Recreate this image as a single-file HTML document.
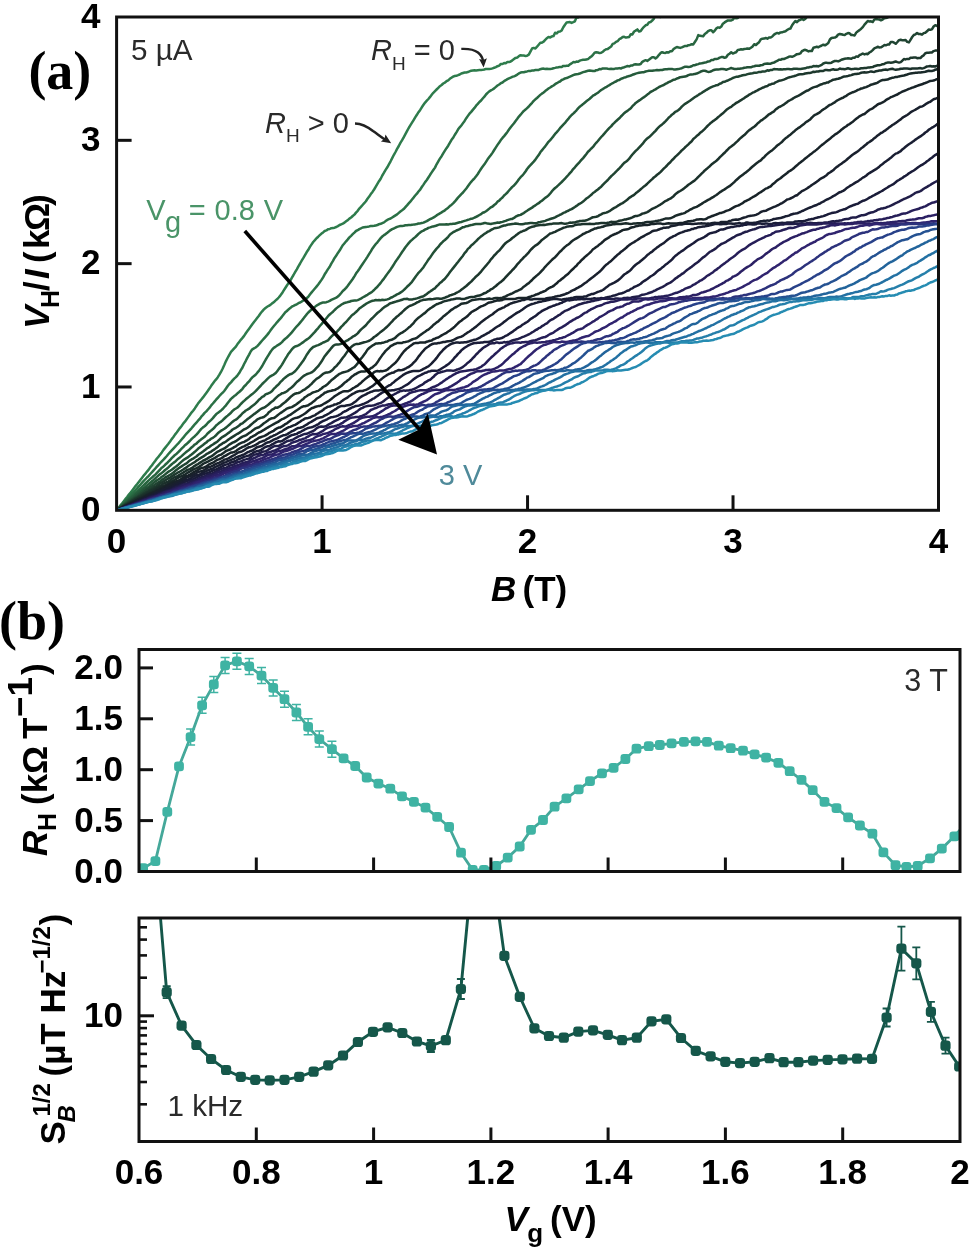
<!DOCTYPE html>
<html><head><meta charset="utf-8"><style>html,body{margin:0;padding:0;background:#fff}svg{display:block;filter:blur(0.45px)}</style></head>
<body><svg width="976" height="1249" viewBox="0 0 976 1249">
<defs><clipPath id="ca"><rect x="116.6" y="17.0" width="821.9" height="493.3"/></clipPath>
<clipPath id="cb"><rect x="139.0" y="649.5" width="821.0" height="222.0"/><rect x="139.0" y="918.0" width="821.0" height="223.5"/></clipPath></defs>
<rect width="976" height="1249" fill="#fff"/>
<g fill="none" stroke-width="2.5" stroke-linejoin="round" stroke-linecap="round" clip-path="url(#ca)"><path d="M116.6,510.3 L117.4,509.3 L119.1,507.2 L120.7,505.1 L122.4,503.0 L124.0,500.9 L125.6,498.8 L127.3,496.7 L128.9,494.5 L130.6,492.5 L132.2,490.4 L133.9,488.2 L135.5,486.1 L137.2,484.1 L138.8,482.0 L140.5,479.8 L142.1,477.7 L143.7,475.6 L145.4,473.7 L147.0,471.6 L148.7,469.6 L150.3,467.3 L152.0,465.2 L153.6,462.9 L155.3,460.7 L156.9,458.5 L158.6,456.6 L160.2,454.5 L161.8,452.4 L163.5,449.9 L165.1,447.9 L166.8,445.8 L168.4,443.8 L170.1,441.5 L171.7,439.1 L173.4,437.0 L175.0,434.6 L176.7,432.5 L178.3,430.3 L179.9,428.1 L181.6,426.0 L183.2,423.6 L184.9,421.7 L186.5,419.5 L188.2,417.1 L189.8,414.9 L191.5,412.6 L193.1,410.7 L194.8,408.4 L196.4,406.0 L198.0,403.6 L199.7,401.4 L201.3,399.5 L203.0,397.4 L204.6,395.2 L206.3,392.9 L207.9,390.7 L209.6,388.3 L211.2,385.8 L212.9,383.5 L214.5,381.3 L216.1,379.4 L217.8,377.2 L219.4,374.7 L221.1,371.7 L222.7,368.5 L224.4,364.8 L226.0,361.1 L227.7,357.8 L229.3,354.8 L231.0,351.9 L232.6,350.2 L234.2,348.4 L235.9,346.6 L237.5,344.1 L239.2,341.9 L240.8,339.8 L242.5,337.9 L244.1,335.9 L245.8,333.3 L247.4,331.1 L249.1,328.8 L250.7,326.6 L252.3,324.3 L254.0,322.0 L255.6,320.0 L257.3,317.8 L258.9,315.7 L260.6,313.3 L262.2,311.3 L263.9,309.4 L265.5,308.0 L267.2,306.8 L268.8,305.8 L270.4,304.9 L272.1,303.4 L273.7,302.3 L275.4,300.6 L277.0,299.3 L278.7,297.5 L280.3,295.6 L282.0,293.3 L283.6,290.7 L285.3,288.0 L286.9,285.5 L288.5,283.1 L290.2,280.8 L291.8,277.8 L293.5,275.0 L295.1,272.2 L296.8,269.3 L298.4,266.3 L300.1,263.5 L301.7,260.7 L303.4,257.9 L305.0,255.1 L306.6,252.3 L308.3,249.8 L309.9,246.9 L311.6,244.4 L313.2,242.0 L314.9,240.1 L316.5,238.2 L318.2,236.7 L319.8,235.2 L321.5,233.6 L323.1,232.4 L324.7,231.0 L326.4,230.4 L328.0,229.2 L329.7,229.0 L331.3,228.2 L333.0,228.1 L334.6,227.7 L336.3,227.0 L337.9,226.1 L339.6,225.0 L341.2,224.3 L342.8,223.6 L344.5,222.6 L346.1,221.2 L347.8,220.1 L349.4,218.6 L351.1,217.5 L352.7,216.0 L354.4,214.6 L356.0,212.6 L357.7,210.8 L359.3,208.6 L360.9,206.9 L362.6,205.0 L364.2,203.2 L365.9,201.2 L367.5,198.8 L369.2,196.6 L370.8,194.1 L372.5,191.9 L374.1,189.5 L375.8,186.6 L377.4,183.9 L379.0,181.2 L380.7,178.7 L382.3,175.5 L384.0,172.7 L385.6,169.9 L387.3,167.3 L388.9,164.4 L390.6,161.3 L392.2,158.1 L393.9,154.8 L395.5,152.0 L397.1,148.9 L398.8,146.0 L400.4,142.9 L402.1,140.2 L403.7,137.3 L405.4,134.1 L407.0,131.1 L408.7,128.0 L410.3,125.4 L412.0,122.7 L413.6,120.1 L415.2,117.4 L416.9,114.8 L418.5,112.2 L420.2,109.9 L421.8,107.3 L423.5,104.8 L425.1,102.6 L426.8,100.7 L428.4,99.0 L430.1,96.9 L431.7,94.8 L433.3,92.8 L435.0,91.1 L436.6,89.5 L438.3,87.8 L439.9,86.2 L441.6,85.0 L443.2,83.5 L444.9,82.6 L446.5,81.2 L448.2,80.3 L449.8,78.8 L451.4,77.7 L453.1,76.6 L454.7,76.0 L456.4,75.8 L458.0,75.2 L459.7,74.5 L461.3,73.5 L463.0,73.0 L464.6,72.5 L466.3,72.4 L467.9,72.1 L469.5,71.4 L471.2,70.7 L472.8,70.4 L474.5,70.3 L476.1,70.4 L477.8,70.2 L479.4,70.1 L481.1,70.0 L482.7,69.8 L484.4,69.5 L486.0,68.9 L487.6,69.0 L489.3,68.9 L490.9,68.8 L492.6,68.4 L494.2,67.7 L495.9,67.1 L497.5,66.2 L499.2,65.6 L500.8,64.0 L502.5,64.0 L504.1,63.1 L505.7,63.2 L507.4,61.9 L509.0,62.1 L510.7,61.5 L512.3,60.4 L514.0,59.0 L515.6,57.9 L517.3,57.6 L518.9,56.1 L520.6,55.2 L522.2,55.4 L523.8,55.6 L525.5,55.9 L527.1,55.7 L528.8,54.7 L530.4,51.7 L532.1,48.5 L533.7,47.9 L535.4,48.5 L537.0,46.7 L538.7,44.7 L540.3,42.8 L541.9,42.7 L543.6,41.7 L545.2,39.9 L546.9,38.2 L548.5,36.9 L550.2,37.5 L551.8,36.4 L553.5,36.1 L555.1,32.8 L556.8,33.4 L558.4,31.7 L560.0,31.6 L561.7,30.4 L563.3,27.3 L565.0,24.7 L566.6,22.6 L568.3,22.3 L569.9,22.1 L571.6,22.9 L573.2,22.2 L574.9,21.3 L576.5,17.4 L578.1,17.4 L579.8,16.3 L581.4,15.2 L582.0,14.0" stroke="rgb(46, 124, 76)" />
<path d="M116.6,510.3 L117.4,509.4 L119.1,507.7 L120.7,505.9 L122.4,504.1 L124.0,502.3 L125.6,500.6 L127.3,498.9 L128.9,497.1 L130.6,495.3 L132.2,493.5 L133.9,491.7 L135.5,490.0 L137.2,488.2 L138.8,486.4 L140.5,484.5 L142.1,482.6 L143.7,480.8 L145.4,479.2 L147.0,477.5 L148.7,475.8 L150.3,474.0 L152.0,472.2 L153.6,470.4 L155.3,468.5 L156.9,466.7 L158.6,464.8 L160.2,463.0 L161.8,461.3 L163.5,459.6 L165.1,457.8 L166.8,456.0 L168.4,454.0 L170.1,452.1 L171.7,450.4 L173.4,448.6 L175.0,446.9 L176.7,445.0 L178.3,443.3 L179.9,441.5 L181.6,439.5 L183.2,437.7 L184.9,435.5 L186.5,433.7 L188.2,431.9 L189.8,430.2 L191.5,428.3 L193.1,426.4 L194.8,424.3 L196.4,422.6 L198.0,420.7 L199.7,418.9 L201.3,416.7 L203.0,414.9 L204.6,412.9 L206.3,411.4 L207.9,409.5 L209.6,407.7 L211.2,405.4 L212.9,403.5 L214.5,401.6 L216.1,399.7 L217.8,397.8 L219.4,396.0 L221.1,394.2 L222.7,392.7 L224.4,390.7 L226.0,388.5 L227.7,386.0 L229.3,384.0 L231.0,382.4 L232.6,380.4 L234.2,378.6 L235.9,377.1 L237.5,375.3 L239.2,373.1 L240.8,370.2 L242.5,367.5 L244.1,364.0 L245.8,360.8 L247.4,357.6 L249.1,354.6 L250.7,351.5 L252.3,349.3 L254.0,348.3 L255.6,347.5 L257.3,346.1 L258.9,344.4 L260.6,342.4 L262.2,340.5 L263.9,338.6 L265.5,336.8 L267.2,334.9 L268.8,332.9 L270.4,330.6 L272.1,328.3 L273.7,326.3 L275.4,324.3 L277.0,322.3 L278.7,320.4 L280.3,318.6 L282.0,316.6 L283.6,314.5 L285.3,312.3 L286.9,311.0 L288.5,309.4 L290.2,308.1 L291.8,306.7 L293.5,305.9 L295.1,305.0 L296.8,304.3 L298.4,303.2 L300.1,302.5 L301.7,301.6 L303.4,300.4 L305.0,299.5 L306.6,298.2 L308.3,296.7 L309.9,294.5 L311.6,292.4 L313.2,290.5 L314.9,288.5 L316.5,286.6 L318.2,284.5 L319.8,282.3 L321.5,279.9 L323.1,277.3 L324.7,274.3 L326.4,271.7 L328.0,269.1 L329.7,266.7 L331.3,263.6 L333.0,260.9 L334.6,257.9 L336.3,255.6 L337.9,252.9 L339.6,250.6 L341.2,247.8 L342.8,245.2 L344.5,243.2 L346.1,241.3 L347.8,239.4 L349.4,237.4 L351.1,235.8 L352.7,234.2 L354.4,232.6 L356.0,231.0 L357.7,230.2 L359.3,229.1 L360.9,228.4 L362.6,227.5 L364.2,227.2 L365.9,226.9 L367.5,226.7 L369.2,226.4 L370.8,226.0 L372.5,225.9 L374.1,225.7 L375.8,225.4 L377.4,225.1 L379.0,224.2 L380.7,223.8 L382.3,223.1 L384.0,222.4 L385.6,221.1 L387.3,219.9 L388.9,219.1 L390.6,218.5 L392.2,217.5 L393.9,216.4 L395.5,215.4 L397.1,214.4 L398.8,212.9 L400.4,211.5 L402.1,210.3 L403.7,209.1 L405.4,207.2 L407.0,205.4 L408.7,203.4 L410.3,201.7 L412.0,199.5 L413.6,197.6 L415.2,195.5 L416.9,193.7 L418.5,191.5 L420.2,189.6 L421.8,187.0 L423.5,184.6 L425.1,182.1 L426.8,180.0 L428.4,177.5 L430.1,174.8 L431.7,172.4 L433.3,170.0 L435.0,167.6 L436.6,164.3 L438.3,161.3 L439.9,158.6 L441.6,156.2 L443.2,153.4 L444.9,150.7 L446.5,148.2 L448.2,145.7 L449.8,142.9 L451.4,140.1 L453.1,137.8 L454.7,135.0 L456.4,132.3 L458.0,129.6 L459.7,127.3 L461.3,125.5 L463.0,123.1 L464.6,120.9 L466.3,118.2 L467.9,115.9 L469.5,113.7 L471.2,111.9 L472.8,109.9 L474.5,107.9 L476.1,105.7 L477.8,103.9 L479.4,102.0 L481.1,100.5 L482.7,98.5 L484.4,96.7 L486.0,94.5 L487.6,92.9 L489.3,91.4 L490.9,90.4 L492.6,89.5 L494.2,88.4 L495.9,86.9 L497.5,85.5 L499.2,84.5 L500.8,83.2 L502.5,82.5 L504.1,81.1 L505.7,80.2 L507.4,79.1 L509.0,78.3 L510.7,77.6 L512.3,76.8 L514.0,76.4 L515.6,75.6 L517.3,74.6 L518.9,73.4 L520.6,72.6 L522.2,72.3 L523.8,72.2 L525.5,71.7 L527.1,71.4 L528.8,70.9 L530.4,70.9 L532.1,70.6 L533.7,70.4 L535.4,70.1 L537.0,70.1 L538.7,69.9 L540.3,69.2 L541.9,68.8 L543.6,68.6 L545.2,69.0 L546.9,68.7 L548.5,68.9 L550.2,69.0 L551.8,68.8 L553.5,68.3 L555.1,67.9 L556.8,67.4 L558.4,67.3 L560.0,66.9 L561.7,67.0 L563.3,65.9 L565.0,66.1 L566.6,65.7 L568.3,65.8 L569.9,64.4 L571.6,63.4 L573.2,62.1 L574.9,62.3 L576.5,61.6 L578.1,61.7 L579.8,60.6 L581.4,60.1 L583.1,59.7 L584.7,59.7 L586.4,59.4 L588.0,59.1 L589.7,57.6 L591.3,56.5 L593.0,54.8 L594.6,52.7 L596.2,52.2 L597.9,52.5 L599.5,53.1 L601.2,52.8 L602.8,51.8 L604.5,50.2 L606.1,49.2 L607.8,48.9 L609.4,47.8 L611.1,46.6 L612.7,43.9 L614.3,43.4 L616.0,41.9 L617.6,41.2 L619.3,39.2 L620.9,38.4 L622.6,37.1 L624.2,36.8 L625.9,37.6 L627.5,37.2 L629.2,36.9 L630.8,34.2 L632.4,34.4 L634.1,31.5 L635.7,30.6 L637.4,29.4 L639.0,31.6 L640.7,31.0 L642.3,28.8 L644.0,26.8 L645.6,25.3 L647.3,24.8 L648.9,22.4 L650.5,22.1 L652.2,20.5 L653.8,18.9 L655.5,14.6 L657.1,14.4 L658.8,14.7 L660.4,16.9 L662.1,14.0 L662.2,14.0" stroke="rgb(43, 113, 70)" />
<path d="M116.6,510.3 L117.4,509.5 L119.1,508.0 L120.7,506.5 L122.4,504.9 L124.0,503.4 L125.6,501.8 L127.3,500.3 L128.9,498.8 L130.6,497.3 L132.2,495.8 L133.9,494.2 L135.5,492.7 L137.2,491.3 L138.8,489.7 L140.5,488.3 L142.1,486.7 L143.7,485.2 L145.4,483.5 L147.0,482.0 L148.7,480.4 L150.3,478.9 L152.0,477.5 L153.6,476.0 L155.3,474.6 L156.9,472.9 L158.6,471.1 L160.2,469.5 L161.8,467.7 L163.5,466.5 L165.1,464.8 L166.8,463.3 L168.4,461.6 L170.1,460.0 L171.7,458.1 L173.4,456.5 L175.0,454.9 L176.7,453.7 L178.3,452.1 L179.9,450.5 L181.6,448.7 L183.2,447.2 L184.9,445.2 L186.5,444.1 L188.2,442.5 L189.8,441.0 L191.5,439.1 L193.1,437.6 L194.8,436.2 L196.4,434.7 L198.0,432.9 L199.7,430.8 L201.3,428.9 L203.0,427.4 L204.6,426.3 L206.3,424.8 L207.9,422.8 L209.6,421.3 L211.2,419.8 L212.9,418.1 L214.5,416.1 L216.1,414.3 L217.8,412.9 L219.4,411.7 L221.1,410.4 L222.7,409.0 L224.4,407.0 L226.0,405.3 L227.7,403.0 L229.3,401.0 L231.0,398.9 L232.6,397.5 L234.2,396.1 L235.9,394.9 L237.5,393.3 L239.2,392.0 L240.8,390.5 L242.5,388.8 L244.1,386.5 L245.8,385.0 L247.4,383.0 L249.1,381.4 L250.7,379.3 L252.3,377.4 L254.0,376.0 L255.6,374.7 L257.3,372.7 L258.9,370.9 L260.6,368.4 L262.2,366.0 L263.9,362.9 L265.5,360.0 L267.2,357.2 L268.8,354.6 L270.4,352.0 L272.1,349.6 L273.7,347.9 L275.4,346.9 L277.0,345.6 L278.7,344.6 L280.3,343.6 L282.0,342.1 L283.6,340.2 L285.3,338.7 L286.9,337.5 L288.5,335.9 L290.2,334.2 L291.8,332.4 L293.5,330.3 L295.1,328.3 L296.8,326.3 L298.4,324.7 L300.1,322.6 L301.7,320.7 L303.4,318.6 L305.0,316.5 L306.6,314.4 L308.3,312.5 L309.9,311.0 L311.6,309.4 L313.2,308.1 L314.9,306.9 L316.5,305.6 L318.2,304.7 L319.8,303.6 L321.5,303.0 L323.1,302.4 L324.7,302.5 L326.4,302.2 L328.0,301.6 L329.7,300.9 L331.3,299.9 L333.0,299.1 L334.6,298.4 L336.3,297.6 L337.9,296.5 L339.6,294.8 L341.2,293.0 L342.8,291.0 L344.5,289.5 L346.1,287.9 L347.8,285.8 L349.4,283.5 L351.1,281.2 L352.7,279.0 L354.4,276.3 L356.0,273.6 L357.7,271.3 L359.3,269.0 L360.9,266.5 L362.6,264.0 L364.2,261.6 L365.9,259.1 L367.5,256.6 L369.2,253.8 L370.8,251.3 L372.5,248.4 L374.1,246.2 L375.8,244.0 L377.4,242.3 L379.0,240.2 L380.7,238.1 L382.3,236.5 L384.0,235.1 L385.6,234.1 L387.3,232.8 L388.9,231.4 L390.6,230.1 L392.2,229.1 L393.9,228.5 L395.5,227.7 L397.1,226.9 L398.8,226.4 L400.4,226.0 L402.1,226.0 L403.7,225.8 L405.4,225.3 L407.0,225.2 L408.7,225.0 L410.3,225.1 L412.0,224.7 L413.6,224.6 L415.2,224.4 L416.9,224.0 L418.5,223.5 L420.2,223.4 L421.8,223.0 L423.5,222.6 L425.1,221.8 L426.8,221.1 L428.4,220.1 L430.1,219.2 L431.7,218.5 L433.3,217.6 L435.0,216.6 L436.6,215.4 L438.3,214.3 L439.9,213.4 L441.6,212.4 L443.2,211.3 L444.9,210.3 L446.5,208.9 L448.2,207.7 L449.8,206.1 L451.4,204.9 L453.1,203.4 L454.7,201.7 L456.4,199.6 L458.0,197.6 L459.7,195.8 L461.3,194.1 L463.0,192.5 L464.6,190.5 L466.3,188.5 L467.9,186.3 L469.5,184.0 L471.2,181.8 L472.8,180.0 L474.5,178.3 L476.1,176.3 L477.8,174.0 L479.4,171.4 L481.1,168.8 L482.7,166.5 L484.4,164.3 L486.0,161.8 L487.6,159.3 L489.3,157.1 L490.9,155.0 L492.6,152.6 L494.2,150.0 L495.9,147.4 L497.5,144.9 L499.2,142.5 L500.8,140.1 L502.5,137.9 L504.1,136.1 L505.7,134.1 L507.4,131.9 L509.0,129.5 L510.7,127.2 L512.3,125.2 L514.0,123.2 L515.6,121.0 L517.3,118.8 L518.9,116.6 L520.6,114.7 L522.2,112.8 L523.8,110.9 L525.5,109.6 L527.1,108.1 L528.8,106.5 L530.4,104.6 L532.1,102.8 L533.7,100.9 L535.4,99.3 L537.0,98.0 L538.7,96.4 L540.3,94.9 L541.9,93.6 L543.6,92.5 L545.2,91.1 L546.9,89.8 L548.5,88.5 L550.2,87.5 L551.8,86.4 L553.5,85.5 L555.1,84.2 L556.8,83.2 L558.4,82.2 L560.0,81.5 L561.7,80.0 L563.3,79.4 L565.0,78.4 L566.6,78.1 L568.3,77.3 L569.9,76.7 L571.6,75.9 L573.2,75.1 L574.9,74.5 L576.5,74.2 L578.1,74.0 L579.8,73.5 L581.4,72.8 L583.1,72.1 L584.7,71.7 L586.4,71.2 L588.0,70.8 L589.7,70.5 L591.3,70.7 L593.0,71.0 L594.6,71.1 L596.2,70.2 L597.9,69.9 L599.5,69.1 L601.2,69.2 L602.8,68.4 L604.5,68.4 L606.1,68.4 L607.8,68.8 L609.4,68.9 L611.1,68.8 L612.7,68.9 L614.3,68.9 L616.0,68.4 L617.6,68.5 L619.3,68.1 L620.9,68.5 L622.6,67.7 L624.2,67.2 L625.9,66.6 L627.5,66.0 L629.2,66.4 L630.8,65.6 L632.4,65.6 L634.1,64.4 L635.7,64.2 L637.4,64.4 L639.0,64.5 L640.7,64.0 L642.3,61.8 L644.0,60.8 L645.6,60.2 L647.3,60.9 L648.9,59.8 L650.5,58.5 L652.2,57.2 L653.8,57.3 L655.5,58.4 L657.1,57.3 L658.8,55.1 L660.4,53.2 L662.1,52.2 L663.7,52.7 L665.4,52.9 L667.0,52.2 L668.6,52.5 L670.3,51.3 L671.9,51.3 L673.6,49.1 L675.2,47.9 L676.9,47.1 L678.5,47.4 L680.2,47.9 L681.8,47.4 L683.5,46.6 L685.1,45.9 L686.7,46.1 L688.4,45.2 L690.0,44.9 L691.7,44.2 L693.3,44.4 L695.0,41.8 L696.6,39.4 L698.3,35.1 L699.9,35.8 L701.6,36.0 L703.2,36.2 L704.8,34.0 L706.5,32.8 L708.1,31.1 L709.8,30.3 L711.4,30.2 L713.1,32.3 L714.7,30.7 L716.4,28.3 L718.0,27.4 L719.7,27.8 L721.3,26.6 L722.9,23.7 L724.6,22.4 L726.2,21.4 L727.9,20.4 L729.5,20.6 L731.2,20.5 L732.8,19.7 L734.5,17.5 L736.1,18.3 L737.8,18.0 L739.4,15.7 L740.0,14.0" stroke="rgb(40, 102, 64)" />
<path d="M116.6,510.3 L117.4,509.6 L119.1,508.3 L120.7,506.9 L122.4,505.5 L124.0,504.2 L125.6,502.9 L127.3,501.5 L128.9,500.1 L130.6,498.8 L132.2,497.4 L133.9,496.1 L135.5,494.6 L137.2,493.3 L138.8,491.9 L140.5,490.6 L142.1,489.3 L143.7,488.1 L145.4,486.7 L147.0,485.4 L148.7,484.0 L150.3,482.6 L152.0,481.1 L153.6,479.9 L155.3,478.3 L156.9,476.9 L158.6,475.3 L160.2,474.1 L161.8,472.9 L163.5,471.5 L165.1,470.0 L166.8,468.8 L168.4,467.4 L170.1,465.7 L171.7,464.3 L173.4,462.9 L175.0,461.8 L176.7,460.2 L178.3,458.7 L179.9,457.5 L181.6,456.1 L183.2,454.6 L184.9,453.1 L186.5,451.8 L188.2,450.5 L189.8,449.2 L191.5,447.5 L193.1,446.2 L194.8,444.5 L196.4,443.6 L198.0,441.9 L199.7,440.6 L201.3,439.3 L203.0,438.1 L204.6,436.8 L206.3,435.0 L207.9,433.2 L209.6,431.7 L211.2,430.4 L212.9,429.1 L214.5,427.5 L216.1,425.5 L217.8,424.1 L219.4,422.7 L221.1,421.6 L222.7,420.2 L224.4,418.5 L226.0,417.0 L227.7,415.6 L229.3,414.2 L231.0,412.7 L232.6,410.9 L234.2,409.5 L235.9,408.5 L237.5,407.5 L239.2,405.9 L240.8,404.0 L242.5,402.3 L244.1,400.9 L245.8,399.3 L247.4,398.0 L249.1,396.6 L250.7,395.3 L252.3,394.1 L254.0,392.6 L255.6,391.1 L257.3,389.3 L258.9,387.7 L260.6,385.8 L262.2,384.0 L263.9,382.3 L265.5,380.8 L267.2,379.1 L268.8,377.6 L270.4,376.3 L272.1,375.3 L273.7,374.6 L275.4,373.3 L277.0,371.5 L278.7,369.1 L280.3,367.1 L282.0,364.6 L283.6,361.9 L285.3,358.9 L286.9,356.4 L288.5,353.7 L290.2,351.6 L291.8,349.4 L293.5,347.6 L295.1,346.5 L296.8,346.0 L298.4,345.3 L300.1,344.3 L301.7,343.2 L303.4,342.2 L305.0,340.7 L306.6,339.6 L308.3,338.4 L309.9,337.2 L311.6,335.4 L313.2,333.7 L314.9,331.9 L316.5,329.9 L318.2,328.1 L319.8,326.0 L321.5,324.1 L323.1,322.2 L324.7,320.3 L326.4,318.2 L328.0,316.2 L329.7,314.5 L331.3,313.1 L333.0,311.7 L334.6,310.0 L336.3,308.4 L337.9,307.1 L339.6,305.9 L341.2,304.8 L342.8,303.8 L344.5,302.9 L346.1,302.6 L347.8,302.1 L349.4,301.8 L351.1,301.0 L352.7,300.8 L354.4,300.6 L356.0,300.6 L357.7,300.1 L359.3,299.4 L360.9,298.6 L362.6,297.5 L364.2,296.7 L365.9,295.6 L367.5,294.8 L369.2,293.6 L370.8,292.7 L372.5,291.4 L374.1,290.0 L375.8,288.2 L377.4,286.8 L379.0,284.8 L380.7,282.9 L382.3,280.6 L384.0,278.6 L385.6,276.3 L387.3,273.9 L388.9,271.7 L390.6,269.4 L392.2,267.0 L393.9,264.3 L395.5,261.7 L397.1,259.4 L398.8,257.1 L400.4,254.6 L402.1,252.0 L403.7,249.8 L405.4,247.3 L407.0,245.2 L408.7,243.1 L410.3,241.3 L412.0,239.9 L413.6,238.4 L415.2,237.1 L416.9,235.5 L418.5,233.9 L420.2,232.5 L421.8,231.3 L423.5,230.6 L425.1,229.5 L426.8,228.9 L428.4,227.9 L430.1,227.4 L431.7,226.8 L433.3,226.4 L435.0,226.1 L436.6,225.5 L438.3,224.9 L439.9,224.4 L441.6,224.4 L443.2,224.5 L444.9,224.6 L446.5,224.3 L448.2,224.5 L449.8,224.1 L451.4,224.1 L453.1,223.7 L454.7,223.7 L456.4,223.2 L458.0,222.7 L459.7,222.2 L461.3,222.0 L463.0,221.4 L464.6,220.9 L466.3,220.4 L467.9,219.8 L469.5,219.4 L471.2,218.7 L472.8,218.4 L474.5,217.7 L476.1,216.8 L477.8,216.0 L479.4,215.0 L481.1,214.1 L482.7,212.8 L484.4,212.2 L486.0,211.2 L487.6,210.0 L489.3,208.6 L490.9,207.3 L492.6,206.5 L494.2,205.0 L495.9,203.7 L497.5,201.7 L499.2,200.7 L500.8,198.9 L502.5,197.5 L504.1,195.5 L505.7,194.1 L507.4,192.5 L509.0,190.5 L510.7,188.7 L512.3,186.9 L514.0,185.5 L515.6,183.7 L517.3,181.5 L518.9,179.2 L520.6,177.2 L522.2,175.7 L523.8,173.8 L525.5,171.5 L527.1,169.0 L528.8,166.9 L530.4,165.2 L532.1,163.3 L533.7,161.6 L535.4,159.6 L537.0,157.3 L538.7,155.1 L540.3,152.3 L541.9,150.4 L543.6,148.3 L545.2,146.4 L546.9,144.0 L548.5,141.8 L550.2,140.1 L551.8,138.2 L553.5,136.1 L555.1,133.9 L556.8,132.1 L558.4,130.2 L560.0,128.2 L561.7,126.3 L563.3,124.6 L565.0,122.9 L566.6,120.8 L568.3,118.9 L569.9,116.8 L571.6,115.0 L573.2,113.6 L574.9,112.0 L576.5,110.3 L578.1,108.4 L579.8,106.7 L581.4,105.4 L583.1,104.1 L584.7,102.7 L586.4,101.3 L588.0,100.1 L589.7,98.7 L591.3,97.3 L593.0,95.7 L594.6,94.9 L596.2,93.8 L597.9,92.7 L599.5,91.4 L601.2,90.0 L602.8,89.1 L604.5,87.9 L606.1,87.2 L607.8,86.0 L609.4,85.1 L611.1,84.0 L612.7,83.2 L614.3,82.2 L616.0,81.5 L617.6,80.4 L619.3,80.0 L620.9,78.9 L622.6,78.3 L624.2,77.5 L625.9,77.2 L627.5,76.4 L629.2,76.1 L630.8,75.5 L632.4,74.8 L634.1,74.2 L635.7,73.6 L637.4,73.1 L639.0,72.7 L640.7,72.4 L642.3,72.3 L644.0,72.2 L645.6,71.5 L647.3,71.1 L648.9,70.7 L650.5,70.8 L652.2,70.7 L653.8,70.4 L655.5,70.3 L657.1,70.0 L658.8,70.3 L660.4,70.0 L662.1,70.1 L663.7,69.5 L665.4,69.2 L667.0,69.3 L668.6,69.1 L670.3,69.1 L671.9,68.9 L673.6,69.4 L675.2,69.6 L676.9,69.3 L678.5,69.1 L680.2,68.6 L681.8,68.2 L683.5,67.4 L685.1,66.7 L686.7,66.7 L688.4,67.0 L690.0,66.8 L691.7,66.3 L693.3,65.3 L695.0,65.2 L696.6,64.5 L698.3,64.1 L699.9,63.4 L701.6,63.2 L703.2,62.9 L704.8,62.6 L706.5,62.2 L708.1,61.5 L709.8,61.3 L711.4,60.1 L713.1,60.1 L714.7,58.9 L716.4,59.1 L718.0,58.6 L719.7,57.6 L721.3,57.1 L722.9,57.0 L724.6,57.8 L726.2,57.3 L727.9,54.8 L729.5,53.7 L731.2,52.3 L732.8,53.5 L734.5,52.8 L736.1,52.3 L737.8,49.9 L739.4,49.8 L741.0,49.2 L742.7,49.5 L744.3,49.0 L746.0,48.8 L747.6,48.5 L749.3,48.8 L750.9,47.7 L752.6,46.4 L754.2,44.2 L755.9,45.0 L757.5,43.5 L759.1,42.2 L760.8,39.4 L762.4,38.7 L764.1,38.6 L765.7,38.0 L767.4,38.7 L769.0,37.5 L770.7,37.5 L772.3,36.5 L774.0,34.6 L775.6,33.6 L777.2,32.9 L778.9,33.5 L780.5,32.4 L782.2,32.3 L783.8,31.7 L785.5,31.3 L787.1,30.1 L788.8,28.9 L790.4,28.6 L792.1,25.2 L793.7,23.0 L795.3,21.1 L797.0,22.2 L798.6,20.5 L800.3,19.8 L801.9,18.9 L803.6,19.9 L805.2,19.0 L806.9,16.7 L808.5,16.1 L809.8,14.0" stroke="rgb(37, 91, 59)" />
<path d="M116.6,510.3 L117.4,509.7 L119.1,508.5 L120.7,507.3 L122.4,506.1 L124.0,504.9 L125.6,503.7 L127.3,502.5 L128.9,501.3 L130.6,500.1 L132.2,498.9 L133.9,497.7 L135.5,496.5 L137.2,495.2 L138.8,494.0 L140.5,492.8 L142.1,491.5 L143.7,490.3 L145.4,488.9 L147.0,487.9 L148.7,486.9 L150.3,485.6 L152.0,484.1 L153.6,482.7 L155.3,481.5 L156.9,480.4 L158.6,479.3 L160.2,478.2 L161.8,476.8 L163.5,475.7 L165.1,474.4 L166.8,473.0 L168.4,471.7 L170.1,470.8 L171.7,469.7 L173.4,468.4 L175.0,467.3 L176.7,466.0 L178.3,464.6 L179.9,463.1 L181.6,461.6 L183.2,460.3 L184.9,459.1 L186.5,458.1 L188.2,457.1 L189.8,455.8 L191.5,454.5 L193.1,453.2 L194.8,451.8 L196.4,450.3 L198.0,448.8 L199.7,447.4 L201.3,446.2 L203.0,445.0 L204.6,443.6 L206.3,442.5 L207.9,440.9 L209.6,440.0 L211.2,438.6 L212.9,437.9 L214.5,436.6 L216.1,435.2 L217.8,433.3 L219.4,432.0 L221.1,430.7 L222.7,429.8 L224.4,428.7 L226.0,427.6 L227.7,426.1 L229.3,424.8 L231.0,423.1 L232.6,421.8 L234.2,420.5 L235.9,419.6 L237.5,418.5 L239.2,416.7 L240.8,415.3 L242.5,413.3 L244.1,412.1 L245.8,410.5 L247.4,409.7 L249.1,408.7 L250.7,407.3 L252.3,406.0 L254.0,404.8 L255.6,403.4 L257.3,401.7 L258.9,399.7 L260.6,398.4 L262.2,396.9 L263.9,396.1 L265.5,394.4 L267.2,393.8 L268.8,393.1 L270.4,392.4 L272.1,391.0 L273.7,388.9 L275.4,387.4 L277.0,385.7 L278.7,384.3 L280.3,382.2 L282.0,380.6 L283.6,378.9 L285.3,377.5 L286.9,376.2 L288.5,375.1 L290.2,374.2 L291.8,373.7 L293.5,372.5 L295.1,371.3 L296.8,369.3 L298.4,367.3 L300.1,364.9 L301.7,362.8 L303.4,360.5 L305.0,357.8 L306.6,355.0 L308.3,352.5 L309.9,350.2 L311.6,348.5 L313.2,347.0 L314.9,346.3 L316.5,345.6 L318.2,345.1 L319.8,344.3 L321.5,343.5 L323.1,342.5 L324.7,342.0 L326.4,341.1 L328.0,340.3 L329.7,338.4 L331.3,336.6 L333.0,335.0 L334.6,333.7 L336.3,332.5 L337.9,330.7 L339.6,328.9 L341.2,326.9 L342.8,325.4 L344.5,323.4 L346.1,322.0 L347.8,320.0 L349.4,318.2 L351.1,316.2 L352.7,314.7 L354.4,313.4 L356.0,312.0 L357.7,310.3 L359.3,308.6 L360.9,307.4 L362.6,306.2 L364.2,305.1 L365.9,303.9 L367.5,303.0 L369.2,302.1 L370.8,301.4 L372.5,300.8 L374.1,300.5 L375.8,300.0 L377.4,300.2 L379.0,300.0 L380.7,300.2 L382.3,299.8 L384.0,299.9 L385.6,299.8 L387.3,299.4 L388.9,298.8 L390.6,297.8 L392.2,297.3 L393.9,296.2 L395.5,295.4 L397.1,294.3 L398.8,293.6 L400.4,292.6 L402.1,291.5 L403.7,290.1 L405.4,288.5 L407.0,286.8 L408.7,285.3 L410.3,283.6 L412.0,281.8 L413.6,279.6 L415.2,277.3 L416.9,274.9 L418.5,272.8 L420.2,271.2 L421.8,269.3 L423.5,267.2 L425.1,264.6 L426.8,262.1 L428.4,259.6 L430.1,257.5 L431.7,255.1 L433.3,252.7 L435.0,250.6 L436.6,248.6 L438.3,246.9 L439.9,244.7 L441.6,243.0 L443.2,241.3 L444.9,240.0 L446.5,238.5 L448.2,236.8 L449.8,234.8 L451.4,233.4 L453.1,232.2 L454.7,231.5 L456.4,230.5 L458.0,229.8 L459.7,229.1 L461.3,228.2 L463.0,227.2 L464.6,226.9 L466.3,226.2 L467.9,226.0 L469.5,225.4 L471.2,225.1 L472.8,224.7 L474.5,224.3 L476.1,224.0 L477.8,223.9 L479.4,224.1 L481.1,223.9 L482.7,223.5 L484.4,223.0 L486.0,223.1 L487.6,223.6 L489.3,223.7 L490.9,223.9 L492.6,223.6 L494.2,223.2 L495.9,222.9 L497.5,222.6 L499.2,222.8 L500.8,222.3 L502.5,221.9 L504.1,221.3 L505.7,220.9 L507.4,220.1 L509.0,219.6 L510.7,219.1 L512.3,218.9 L514.0,217.9 L515.6,216.7 L517.3,215.8 L518.9,215.3 L520.6,214.9 L522.2,213.9 L523.8,213.1 L525.5,211.8 L527.1,210.8 L528.8,209.6 L530.4,208.7 L532.1,207.7 L533.7,206.3 L535.4,205.4 L537.0,204.1 L538.7,203.2 L540.3,201.8 L541.9,200.7 L543.6,199.3 L545.2,197.9 L546.9,196.8 L548.5,195.4 L550.2,193.5 L551.8,191.4 L553.5,189.5 L555.1,188.0 L556.8,186.7 L558.4,185.2 L560.0,183.6 L561.7,182.0 L563.3,180.4 L565.0,178.7 L566.6,176.8 L568.3,175.0 L569.9,173.1 L571.6,171.3 L573.2,169.1 L574.9,167.3 L576.5,165.4 L578.1,163.7 L579.8,161.8 L581.4,159.9 L583.1,158.1 L584.7,156.1 L586.4,153.9 L588.0,151.7 L589.7,150.2 L591.3,148.5 L593.0,146.9 L594.6,144.7 L596.2,142.8 L597.9,141.0 L599.5,139.0 L601.2,137.0 L602.8,135.3 L604.5,133.4 L606.1,131.5 L607.8,129.6 L609.4,127.9 L611.1,126.4 L612.7,124.4 L614.3,122.9 L616.0,121.2 L617.6,119.8 L619.3,118.3 L620.9,116.5 L622.6,114.8 L624.2,113.2 L625.9,111.8 L627.5,110.9 L629.2,109.4 L630.8,108.2 L632.4,106.2 L634.1,104.6 L635.7,102.9 L637.4,101.7 L639.0,100.6 L640.7,99.4 L642.3,98.2 L644.0,97.1 L645.6,96.0 L647.3,94.6 L648.9,93.4 L650.5,92.0 L652.2,91.2 L653.8,90.2 L655.5,89.4 L657.1,88.3 L658.8,87.2 L660.4,86.3 L662.1,85.6 L663.7,85.0 L665.4,83.9 L667.0,83.1 L668.6,82.2 L670.3,81.5 L671.9,80.6 L673.6,79.7 L675.2,79.4 L676.9,78.5 L678.5,78.0 L680.2,77.2 L681.8,77.0 L683.5,76.8 L685.1,76.6 L686.7,76.0 L688.4,75.2 L690.0,74.6 L691.7,74.4 L693.3,74.3 L695.0,73.9 L696.6,73.6 L698.3,72.8 L699.9,72.2 L701.6,71.2 L703.2,70.8 L704.8,70.8 L706.5,71.3 L708.1,71.9 L709.8,71.7 L711.4,71.3 L713.1,70.2 L714.7,69.7 L716.4,69.4 L718.0,69.4 L719.7,69.2 L721.3,68.9 L722.9,69.0 L724.6,69.2 L726.2,69.8 L727.9,69.1 L729.5,68.6 L731.2,68.0 L732.8,68.6 L734.5,68.9 L736.1,69.1 L737.8,68.7 L739.4,68.7 L741.0,68.4 L742.7,68.3 L744.3,67.8 L746.0,67.6 L747.6,67.3 L749.3,67.3 L750.9,67.2 L752.6,66.6 L754.2,66.3 L755.9,65.7 L757.5,65.8 L759.1,65.8 L760.8,65.2 L762.4,65.1 L764.1,64.0 L765.7,63.7 L767.4,63.5 L769.0,63.7 L770.7,63.7 L772.3,62.9 L774.0,62.6 L775.6,61.6 L777.2,60.9 L778.9,59.7 L780.5,59.8 L782.2,59.0 L783.8,59.0 L785.5,58.3 L787.1,57.7 L788.8,56.8 L790.4,56.4 L792.1,56.8 L793.7,56.2 L795.3,55.2 L797.0,54.2 L798.6,54.1 L800.3,53.4 L801.9,51.2 L803.6,50.3 L805.2,49.8 L806.9,50.5 L808.5,51.4 L810.2,50.9 L811.8,51.1 L813.4,47.7 L815.1,47.3 L816.7,46.7 L818.4,47.3 L820.0,46.3 L821.7,45.5 L823.3,44.7 L825.0,45.3 L826.6,44.4 L828.3,43.0 L829.9,39.5 L831.5,38.0 L833.2,37.7 L834.8,37.6 L836.5,36.6 L838.1,34.6 L839.8,33.9 L841.4,34.2 L843.1,34.8 L844.7,35.0 L846.4,33.8 L848.0,33.1 L849.6,33.3 L851.3,35.0 L852.9,35.1 L854.6,35.5 L856.2,32.6 L857.9,31.2 L859.5,30.1 L861.2,28.7 L862.8,27.1 L864.5,24.6 L866.1,22.8 L867.7,21.0 L869.4,21.5 L871.0,21.3 L872.7,22.0 L874.3,19.6 L876.0,18.9 L877.6,19.2 L879.3,19.4 L880.9,20.3 L882.6,19.5 L884.2,18.2 L885.8,18.0 L887.5,17.5 L889.1,16.0 L890.6,14.0" stroke="rgb(34, 80, 54)" />
<path d="M116.6,510.3 L117.4,509.8 L119.1,508.7 L120.7,507.6 L122.4,506.5 L124.0,505.4 L125.6,504.3 L127.3,503.2 L128.9,502.1 L130.6,501.1 L132.2,500.0 L133.9,498.9 L135.5,497.8 L137.2,496.8 L138.8,495.7 L140.5,494.4 L142.1,493.3 L143.7,492.2 L145.4,491.2 L147.0,489.8 L148.7,488.7 L150.3,487.6 L152.0,486.6 L153.6,485.5 L155.3,484.4 L156.9,483.3 L158.6,482.3 L160.2,481.3 L161.8,480.0 L163.5,478.9 L165.1,477.6 L166.8,476.7 L168.4,475.8 L170.1,474.7 L171.7,473.7 L173.4,472.5 L175.0,471.1 L176.7,469.8 L178.3,468.6 L179.9,467.4 L181.6,466.4 L183.2,465.3 L184.9,464.2 L186.5,463.4 L188.2,461.8 L189.8,460.6 L191.5,459.4 L193.1,458.6 L194.8,457.5 L196.4,456.5 L198.0,455.0 L199.7,453.8 L201.3,452.7 L203.0,451.5 L204.6,450.2 L206.3,448.9 L207.9,447.8 L209.6,446.8 L211.2,445.5 L212.9,444.5 L214.5,443.4 L216.1,442.4 L217.8,441.2 L219.4,439.6 L221.1,438.0 L222.7,436.8 L224.4,435.8 L226.0,434.9 L227.7,433.5 L229.3,432.4 L231.0,431.0 L232.6,429.5 L234.2,428.6 L235.9,427.8 L237.5,426.7 L239.2,425.5 L240.8,424.0 L242.5,423.4 L244.1,421.9 L245.8,420.6 L247.4,419.1 L249.1,418.0 L250.7,416.7 L252.3,415.5 L254.0,414.1 L255.6,413.1 L257.3,411.8 L258.9,410.5 L260.6,409.1 L262.2,408.3 L263.9,407.7 L265.5,406.8 L267.2,405.5 L268.8,404.2 L270.4,402.8 L272.1,401.4 L273.7,400.2 L275.4,398.4 L277.0,396.9 L278.7,395.4 L280.3,394.5 L282.0,393.2 L283.6,392.9 L285.3,392.3 L286.9,391.3 L288.5,389.8 L290.2,388.6 L291.8,387.3 L293.5,385.8 L295.1,383.9 L296.8,382.0 L298.4,380.7 L300.1,379.2 L301.7,377.7 L303.4,376.1 L305.0,375.2 L306.6,374.2 L308.3,373.6 L309.9,373.1 L311.6,372.4 L313.2,371.2 L314.9,369.7 L316.5,367.9 L318.2,366.2 L319.8,363.9 L321.5,361.6 L323.1,358.9 L324.7,356.2 L326.4,354.1 L328.0,352.1 L329.7,350.2 L331.3,348.1 L333.0,346.1 L334.6,344.9 L336.3,344.5 L337.9,344.5 L339.6,344.3 L341.2,343.9 L342.8,343.0 L344.5,342.1 L346.1,340.9 L347.8,340.3 L349.4,339.0 L351.1,338.0 L352.7,336.7 L354.4,335.9 L356.0,334.8 L357.7,333.4 L359.3,331.4 L360.9,329.6 L362.6,328.1 L364.2,326.7 L365.9,325.2 L367.5,323.2 L369.2,321.4 L370.8,319.5 L372.5,318.0 L374.1,316.3 L375.8,314.6 L377.4,313.0 L379.0,311.8 L380.7,310.4 L382.3,308.8 L384.0,307.4 L385.6,306.3 L387.3,305.4 L388.9,304.2 L390.6,303.2 L392.2,302.8 L393.9,302.2 L395.5,301.8 L397.1,301.2 L398.8,300.8 L400.4,300.3 L402.1,299.7 L403.7,299.1 L405.4,298.9 L407.0,298.8 L408.7,299.4 L410.3,299.4 L412.0,299.5 L413.6,299.1 L415.2,298.8 L416.9,298.4 L418.5,297.8 L420.2,297.2 L421.8,296.7 L423.5,296.2 L425.1,295.1 L426.8,294.0 L428.4,292.6 L430.1,291.5 L431.7,290.4 L433.3,289.2 L435.0,288.3 L436.6,286.4 L438.3,284.8 L439.9,283.0 L441.6,281.9 L443.2,280.2 L444.9,278.7 L446.5,276.7 L448.2,274.6 L449.8,272.3 L451.4,270.2 L453.1,268.1 L454.7,266.1 L456.4,263.9 L458.0,262.0 L459.7,259.8 L461.3,257.7 L463.0,255.7 L464.6,253.2 L466.3,251.4 L467.9,248.9 L469.5,247.6 L471.2,245.5 L472.8,244.3 L474.5,242.7 L476.1,241.2 L477.8,239.3 L479.4,237.9 L481.1,236.4 L482.7,235.3 L484.4,233.9 L486.0,233.0 L487.6,231.7 L489.3,231.1 L490.9,230.0 L492.6,229.2 L494.2,228.2 L495.9,228.0 L497.5,227.8 L499.2,227.4 L500.8,226.6 L502.5,226.0 L504.1,225.5 L505.7,225.4 L507.4,224.8 L509.0,224.4 L510.7,224.2 L512.3,224.0 L514.0,223.8 L515.6,223.5 L517.3,223.8 L518.9,224.1 L520.6,224.2 L522.2,224.2 L523.8,223.9 L525.5,223.6 L527.1,223.4 L528.8,223.2 L530.4,223.0 L532.1,223.1 L533.7,223.3 L535.4,223.2 L537.0,222.9 L538.7,222.3 L540.3,222.0 L541.9,221.6 L543.6,221.3 L545.2,220.9 L546.9,220.2 L548.5,219.6 L550.2,219.0 L551.8,218.5 L553.5,218.0 L555.1,217.4 L556.8,216.4 L558.4,215.7 L560.0,214.7 L561.7,214.1 L563.3,212.9 L565.0,212.4 L566.6,211.4 L568.3,210.8 L569.9,209.7 L571.6,209.1 L573.2,208.1 L574.9,207.0 L576.5,205.9 L578.1,204.7 L579.8,203.7 L581.4,202.7 L583.1,201.5 L584.7,200.1 L586.4,198.5 L588.0,197.5 L589.7,196.1 L591.3,194.8 L593.0,193.0 L594.6,192.0 L596.2,190.6 L597.9,189.5 L599.5,188.0 L601.2,186.7 L602.8,184.9 L604.5,183.2 L606.1,181.6 L607.8,180.0 L609.4,178.2 L611.1,176.3 L612.7,174.9 L614.3,173.4 L616.0,171.7 L617.6,170.0 L619.3,168.4 L620.9,166.7 L622.6,164.6 L624.2,162.9 L625.9,161.8 L627.5,160.5 L629.2,158.7 L630.8,156.6 L632.4,154.5 L634.1,152.6 L635.7,150.9 L637.4,149.3 L639.0,147.7 L640.7,145.8 L642.3,144.2 L644.0,141.9 L645.6,140.0 L647.3,138.4 L648.9,137.3 L650.5,135.8 L652.2,134.2 L653.8,132.5 L655.5,130.9 L657.1,128.9 L658.8,127.2 L660.4,125.7 L662.1,124.4 L663.7,123.0 L665.4,121.4 L667.0,119.7 L668.6,117.8 L670.3,116.4 L671.9,114.7 L673.6,113.5 L675.2,111.9 L676.9,111.1 L678.5,110.0 L680.2,108.5 L681.8,106.6 L683.5,105.1 L685.1,103.8 L686.7,102.9 L688.4,101.8 L690.0,100.8 L691.7,99.4 L693.3,98.2 L695.0,97.0 L696.6,96.1 L698.3,95.0 L699.9,93.9 L701.6,93.0 L703.2,91.8 L704.8,90.9 L706.5,89.8 L708.1,88.9 L709.8,87.9 L711.4,87.1 L713.1,86.4 L714.7,85.9 L716.4,85.2 L718.0,84.9 L719.7,83.8 L721.3,83.3 L722.9,82.1 L724.6,81.8 L726.2,81.0 L727.9,80.5 L729.5,79.7 L731.2,78.9 L732.8,78.0 L734.5,77.4 L736.1,76.8 L737.8,76.7 L739.4,76.2 L741.0,75.8 L742.7,75.3 L744.3,75.0 L746.0,74.7 L747.6,74.1 L749.3,73.7 L750.9,73.4 L752.6,73.2 L754.2,72.8 L755.9,72.7 L757.5,72.4 L759.1,72.0 L760.8,71.9 L762.4,71.6 L764.1,71.6 L765.7,71.2 L767.4,70.3 L769.0,70.7 L770.7,69.9 L772.3,69.9 L774.0,69.0 L775.6,69.2 L777.2,69.3 L778.9,69.6 L780.5,69.3 L782.2,69.5 L783.8,69.3 L785.5,69.2 L787.1,69.1 L788.8,69.0 L790.4,69.2 L792.1,69.2 L793.7,68.8 L795.3,68.8 L797.0,68.8 L798.6,69.0 L800.3,69.1 L801.9,68.7 L803.6,68.5 L805.2,68.3 L806.9,67.6 L808.5,67.6 L810.2,66.9 L811.8,66.9 L813.4,66.1 L815.1,66.3 L816.7,66.1 L818.4,66.4 L820.0,65.7 L821.7,64.9 L823.3,63.5 L825.0,62.8 L826.6,62.7 L828.3,63.1 L829.9,63.0 L831.5,62.7 L833.2,61.7 L834.8,61.0 L836.5,60.9 L838.1,61.4 L839.8,60.8 L841.4,59.8 L843.1,59.2 L844.7,58.8 L846.4,58.6 L848.0,58.2 L849.6,58.5 L851.3,58.8 L852.9,57.7 L854.6,57.7 L856.2,56.4 L857.9,56.8 L859.5,55.2 L861.2,54.4 L862.8,53.5 L864.5,54.4 L866.1,53.8 L867.7,54.2 L869.4,52.5 L871.0,51.7 L872.7,50.1 L874.3,48.4 L876.0,47.7 L877.6,46.7 L879.3,47.4 L880.9,47.3 L882.6,46.4 L884.2,45.1 L885.8,45.3 L887.5,44.6 L889.1,44.5 L890.8,42.0 L892.4,41.9 L894.1,42.7 L895.7,43.8 L897.4,42.0 L899.0,40.1 L900.7,39.7 L902.3,40.3 L903.9,40.3 L905.6,40.0 L907.2,41.9 L908.9,42.4 L910.5,39.8 L912.2,37.0 L913.8,35.0 L915.5,34.3 L917.1,33.0 L918.8,34.1 L920.4,34.0 L922.0,34.7 L923.7,33.1 L925.3,32.7 L927.0,31.3 L928.6,29.6 L930.3,29.8 L931.9,29.4 L933.6,26.5 L935.2,25.3 L936.9,25.8 L938.5,27.1" stroke="rgb(32, 68, 50)" />
<path d="M116.6,510.3 L117.4,509.8 L119.1,508.8 L120.7,507.8 L122.4,506.8 L124.0,505.8 L125.6,504.8 L127.3,503.9 L128.9,502.9 L130.6,501.8 L132.2,500.8 L133.9,499.8 L135.5,498.7 L137.2,497.8 L138.8,496.7 L140.5,495.8 L142.1,494.9 L143.7,493.9 L145.4,492.9 L147.0,491.8 L148.7,490.9 L150.3,489.8 L152.0,488.8 L153.6,487.7 L155.3,486.9 L156.9,485.7 L158.6,484.6 L160.2,483.3 L161.8,482.4 L163.5,481.5 L165.1,480.3 L166.8,479.4 L168.4,478.4 L170.1,477.7 L171.7,476.4 L173.4,475.4 L175.0,474.2 L176.7,473.3 L178.3,472.3 L179.9,471.5 L181.6,470.5 L183.2,469.5 L184.9,468.3 L186.5,467.4 L188.2,466.0 L189.8,465.0 L191.5,464.0 L193.1,463.0 L194.8,462.1 L196.4,460.7 L198.0,459.8 L199.7,458.6 L201.3,457.6 L203.0,456.6 L204.6,455.6 L206.3,454.2 L207.9,453.4 L209.6,452.4 L211.2,451.6 L212.9,450.3 L214.5,449.4 L216.1,448.1 L217.8,447.0 L219.4,445.3 L221.1,444.4 L222.7,443.2 L224.4,442.5 L226.0,441.5 L227.7,440.1 L229.3,439.0 L231.0,437.9 L232.6,436.9 L234.2,435.9 L235.9,434.8 L237.5,433.8 L239.2,432.9 L240.8,431.8 L242.5,430.5 L244.1,429.4 L245.8,428.8 L247.4,427.8 L249.1,426.5 L250.7,425.0 L252.3,423.6 L254.0,422.1 L255.6,421.0 L257.3,419.4 L258.9,418.7 L260.6,417.9 L262.2,417.5 L263.9,417.0 L265.5,415.8 L267.2,414.4 L268.8,412.3 L270.4,411.2 L272.1,409.6 L273.7,408.9 L275.4,407.6 L277.0,407.8 L278.7,407.0 L280.3,406.1 L282.0,404.5 L283.6,403.2 L285.3,402.0 L286.9,400.5 L288.5,399.0 L290.2,397.3 L291.8,395.9 L293.5,394.6 L295.1,393.7 L296.8,393.2 L298.4,393.0 L300.1,392.3 L301.7,391.3 L303.4,390.1 L305.0,389.3 L306.6,388.1 L308.3,386.8 L309.9,385.3 L311.6,383.9 L313.2,382.0 L314.9,380.3 L316.5,378.8 L318.2,377.9 L319.8,376.7 L321.5,375.3 L323.1,373.9 L324.7,373.0 L326.4,372.5 L328.0,372.4 L329.7,372.0 L331.3,370.9 L333.0,369.6 L334.6,367.5 L336.3,366.1 L337.9,364.2 L339.6,362.3 L341.2,360.0 L342.8,357.8 L344.5,355.7 L346.1,353.4 L347.8,351.0 L349.4,348.9 L351.1,347.1 L352.7,345.7 L354.4,344.6 L356.0,344.1 L357.7,344.1 L359.3,343.8 L360.9,343.3 L362.6,342.8 L364.2,342.3 L365.9,341.9 L367.5,341.4 L369.2,340.8 L370.8,339.8 L372.5,338.5 L374.1,337.0 L375.8,336.0 L377.4,334.7 L379.0,333.4 L380.7,331.9 L382.3,330.7 L384.0,329.4 L385.6,328.0 L387.3,326.5 L388.9,324.8 L390.6,323.0 L392.2,321.3 L393.9,319.4 L395.5,318.0 L397.1,316.4 L398.8,315.2 L400.4,313.7 L402.1,312.2 L403.7,310.7 L405.4,309.0 L407.0,307.8 L408.7,306.5 L410.3,305.7 L412.0,305.1 L413.6,304.3 L415.2,303.6 L416.9,302.5 L418.5,301.8 L420.2,300.8 L421.8,300.4 L423.5,299.8 L425.1,299.7 L426.8,299.5 L428.4,299.3 L430.1,299.1 L431.7,299.2 L433.3,299.1 L435.0,298.8 L436.6,298.6 L438.3,298.5 L439.9,298.8 L441.6,298.8 L443.2,298.2 L444.9,297.7 L446.5,297.0 L448.2,296.4 L449.8,295.4 L451.4,295.0 L453.1,294.4 L454.7,293.9 L456.4,292.8 L458.0,292.0 L459.7,291.1 L461.3,289.8 L463.0,288.6 L464.6,287.3 L466.3,286.0 L467.9,284.5 L469.5,283.0 L471.2,281.6 L472.8,279.8 L474.5,278.1 L476.1,276.4 L477.8,275.1 L479.4,273.4 L481.1,271.6 L482.7,269.5 L484.4,267.5 L486.0,265.7 L487.6,263.7 L489.3,261.7 L490.9,259.4 L492.6,257.6 L494.2,255.5 L495.9,253.8 L497.5,252.0 L499.2,250.6 L500.8,248.7 L502.5,246.6 L504.1,244.6 L505.7,243.0 L507.4,241.8 L509.0,240.7 L510.7,239.5 L512.3,238.0 L514.0,236.9 L515.6,235.6 L517.3,234.3 L518.9,233.0 L520.6,232.0 L522.2,231.4 L523.8,230.7 L525.5,230.1 L527.1,229.1 L528.8,228.0 L530.4,227.4 L532.1,226.8 L533.7,226.6 L535.4,225.8 L537.0,225.5 L538.7,225.2 L540.3,225.0 L541.9,224.9 L543.6,224.7 L545.2,224.9 L546.9,224.5 L548.5,224.2 L550.2,223.9 L551.8,223.9 L553.5,223.5 L555.1,223.6 L556.8,223.6 L558.4,223.6 L560.0,223.3 L561.7,223.1 L563.3,223.5 L565.0,223.7 L566.6,223.5 L568.3,223.1 L569.9,222.6 L571.6,222.7 L573.2,222.4 L574.9,222.5 L576.5,221.8 L578.1,221.6 L579.8,221.0 L581.4,220.9 L583.1,220.8 L584.7,220.7 L586.4,220.3 L588.0,219.7 L589.7,218.9 L591.3,218.0 L593.0,217.2 L594.6,217.0 L596.2,216.7 L597.9,216.2 L599.5,215.1 L601.2,214.3 L602.8,213.4 L604.5,213.0 L606.1,212.6 L607.8,212.0 L609.4,211.2 L611.1,210.0 L612.7,208.9 L614.3,207.9 L616.0,207.1 L617.6,205.9 L619.3,204.9 L620.9,203.9 L622.6,203.1 L624.2,202.0 L625.9,200.8 L627.5,199.5 L629.2,197.9 L630.8,196.9 L632.4,195.8 L634.1,194.8 L635.7,193.3 L637.4,192.0 L639.0,190.7 L640.7,189.2 L642.3,187.9 L644.0,186.4 L645.6,185.2 L647.3,183.7 L648.9,182.2 L650.5,180.6 L652.2,179.1 L653.8,177.5 L655.5,176.2 L657.1,174.8 L658.8,173.5 L660.4,172.1 L662.1,170.3 L663.7,168.7 L665.4,167.1 L667.0,165.5 L668.6,163.7 L670.3,162.2 L671.9,160.3 L673.6,158.8 L675.2,156.9 L676.9,155.4 L678.5,153.8 L680.2,152.2 L681.8,150.4 L683.5,149.0 L685.1,147.3 L686.7,145.9 L688.4,144.3 L690.0,142.7 L691.7,141.2 L693.3,139.0 L695.0,137.6 L696.6,136.1 L698.3,134.8 L699.9,133.1 L701.6,131.8 L703.2,130.3 L704.8,128.8 L706.5,127.0 L708.1,125.4 L709.8,123.8 L711.4,122.4 L713.1,121.1 L714.7,120.0 L716.4,118.7 L718.0,117.3 L719.7,115.9 L721.3,114.5 L722.9,113.3 L724.6,111.7 L726.2,110.1 L727.9,108.8 L729.5,107.7 L731.2,106.9 L732.8,105.4 L734.5,104.3 L736.1,103.0 L737.8,102.2 L739.4,101.1 L741.0,100.2 L742.7,99.0 L744.3,98.1 L746.0,96.8 L747.6,95.9 L749.3,94.6 L750.9,93.8 L752.6,92.7 L754.2,92.1 L755.9,91.1 L757.5,90.4 L759.1,89.4 L760.8,88.7 L762.4,87.7 L764.1,87.2 L765.7,86.4 L767.4,86.1 L769.0,84.8 L770.7,84.5 L772.3,83.7 L774.0,83.5 L775.6,82.3 L777.2,81.7 L778.9,80.8 L780.5,80.6 L782.2,80.1 L783.8,79.6 L785.5,78.9 L787.1,78.1 L788.8,77.4 L790.4,77.1 L792.1,76.6 L793.7,76.3 L795.3,75.8 L797.0,75.1 L798.6,74.5 L800.3,74.2 L801.9,74.2 L803.6,74.0 L805.2,73.5 L806.9,73.2 L808.5,73.0 L810.2,72.9 L811.8,72.5 L813.4,71.7 L815.1,71.9 L816.7,71.5 L818.4,71.5 L820.0,71.0 L821.7,71.0 L823.3,70.9 L825.0,70.1 L826.6,70.0 L828.3,70.3 L829.9,70.3 L831.5,69.6 L833.2,69.2 L834.8,69.8 L836.5,69.7 L838.1,69.5 L839.8,68.6 L841.4,68.9 L843.1,68.9 L844.7,69.2 L846.4,68.8 L848.0,68.3 L849.6,68.7 L851.3,69.2 L852.9,69.1 L854.6,68.7 L856.2,68.7 L857.9,69.0 L859.5,68.8 L861.2,68.3 L862.8,68.3 L864.5,68.1 L866.1,68.0 L867.7,67.6 L869.4,67.5 L871.0,67.2 L872.7,67.1 L874.3,66.2 L876.0,65.7 L877.6,65.3 L879.3,65.3 L880.9,64.9 L882.6,64.2 L884.2,63.9 L885.8,63.0 L887.5,62.6 L889.1,62.4 L890.8,62.8 L892.4,62.6 L894.1,62.0 L895.7,61.5 L897.4,62.1 L899.0,62.6 L900.7,62.1 L902.3,60.7 L903.9,59.1 L905.6,59.4 L907.2,58.9 L908.9,59.1 L910.5,57.8 L912.2,57.7 L913.8,57.4 L915.5,57.4 L917.1,58.2 L918.8,57.9 L920.4,58.1 L922.0,56.3 L923.7,55.3 L925.3,53.2 L927.0,52.8 L928.6,52.7 L930.3,52.5 L931.9,52.4 L933.6,51.1 L935.2,50.6 L936.9,50.5 L938.5,50.4" stroke="rgb(29, 56, 45)" />
<path d="M116.6,510.3 L117.4,509.8 L119.1,508.9 L120.7,508.0 L122.4,507.1 L124.0,506.1 L125.6,505.2 L127.3,504.4 L128.9,503.5 L130.6,502.6 L132.2,501.7 L133.9,500.7 L135.5,499.8 L137.2,498.8 L138.8,497.9 L140.5,497.1 L142.1,496.1 L143.7,495.2 L145.4,494.2 L147.0,493.2 L148.7,492.2 L150.3,491.2 L152.0,490.4 L153.6,489.6 L155.3,488.7 L156.9,487.7 L158.6,486.8 L160.2,485.8 L161.8,484.8 L163.5,483.6 L165.1,482.8 L166.8,482.2 L168.4,481.6 L170.1,480.3 L171.7,479.1 L173.4,477.9 L175.0,477.2 L176.7,476.5 L178.3,475.6 L179.9,474.5 L181.6,473.5 L183.2,472.6 L184.9,471.5 L186.5,470.4 L188.2,469.6 L189.8,469.1 L191.5,468.2 L193.1,467.1 L194.8,465.8 L196.4,464.9 L198.0,464.0 L199.7,462.9 L201.3,461.9 L203.0,460.7 L204.6,460.0 L206.3,459.2 L207.9,458.1 L209.6,457.1 L211.2,456.3 L212.9,455.4 L214.5,454.0 L216.1,452.8 L217.8,451.6 L219.4,450.8 L221.1,449.8 L222.7,449.2 L224.4,448.4 L226.0,447.2 L227.7,445.9 L229.3,444.6 L231.0,443.6 L232.6,442.7 L234.2,442.0 L235.9,441.2 L237.5,440.0 L239.2,438.7 L240.8,437.6 L242.5,436.6 L244.1,436.0 L245.8,435.3 L247.4,434.4 L249.1,433.0 L250.7,432.1 L252.3,430.8 L254.0,429.5 L255.6,428.4 L257.3,427.8 L258.9,427.3 L260.6,426.0 L262.2,424.7 L263.9,423.3 L265.5,422.3 L267.2,421.1 L268.8,419.7 L270.4,418.8 L272.1,418.3 L273.7,418.1 L275.4,417.1 L277.0,415.8 L278.7,414.4 L280.3,413.1 L282.0,412.1 L283.6,410.9 L285.3,409.8 L286.9,408.6 L288.5,408.0 L290.2,407.5 L291.8,407.1 L293.5,406.1 L295.1,405.2 L296.8,404.0 L298.4,402.7 L300.1,401.4 L301.7,400.1 L303.4,398.9 L305.0,397.2 L306.6,396.2 L308.3,395.0 L309.9,394.4 L311.6,393.2 L313.2,392.4 L314.9,391.9 L316.5,391.3 L318.2,390.9 L319.8,389.6 L321.5,388.5 L323.1,387.0 L324.7,386.2 L326.4,385.1 L328.0,383.7 L329.7,382.0 L331.3,380.3 L333.0,379.0 L334.6,377.7 L336.3,376.2 L337.9,375.1 L339.6,373.8 L341.2,373.2 L342.8,372.4 L344.5,372.1 L346.1,371.6 L347.8,371.1 L349.4,370.1 L351.1,369.2 L352.7,368.0 L354.4,367.1 L356.0,365.3 L357.7,363.4 L359.3,360.8 L360.9,358.8 L362.6,356.7 L364.2,354.5 L365.9,352.2 L367.5,349.7 L369.2,348.0 L370.8,346.7 L372.5,345.5 L374.1,344.6 L375.8,343.5 L377.4,343.4 L379.0,343.3 L380.7,343.3 L382.3,342.7 L384.0,342.4 L385.6,341.8 L387.3,341.6 L388.9,340.4 L390.6,340.0 L392.2,339.5 L393.9,338.7 L395.5,337.6 L397.1,335.9 L398.8,334.6 L400.4,333.4 L402.1,332.6 L403.7,331.6 L405.4,330.4 L407.0,329.1 L408.7,327.6 L410.3,326.4 L412.0,324.7 L413.6,323.1 L415.2,320.8 L416.9,319.1 L418.5,317.7 L420.2,316.5 L421.8,315.3 L423.5,313.9 L425.1,312.9 L426.8,311.2 L428.4,309.7 L430.1,308.4 L431.7,307.5 L433.3,306.4 L435.0,305.2 L436.6,304.2 L438.3,303.7 L439.9,303.1 L441.6,302.5 L443.2,301.6 L444.9,301.1 L446.5,300.8 L448.2,300.4 L449.8,300.0 L451.4,299.4 L453.1,299.3 L454.7,298.9 L456.4,298.6 L458.0,298.5 L459.7,298.5 L461.3,298.9 L463.0,299.0 L464.6,298.9 L466.3,298.3 L467.9,297.8 L469.5,297.2 L471.2,297.1 L472.8,297.0 L474.5,296.8 L476.1,296.3 L477.8,295.8 L479.4,295.6 L481.1,294.8 L482.7,294.2 L484.4,293.2 L486.0,292.7 L487.6,291.5 L489.3,290.7 L490.9,289.3 L492.6,288.6 L494.2,287.3 L495.9,286.0 L497.5,284.5 L499.2,283.1 L500.8,281.9 L502.5,280.6 L504.1,279.0 L505.7,277.2 L507.4,275.3 L509.0,273.6 L510.7,272.0 L512.3,270.2 L514.0,268.5 L515.6,266.7 L517.3,264.3 L518.9,262.7 L520.6,260.7 L522.2,259.1 L523.8,257.3 L525.5,255.9 L527.1,254.2 L528.8,252.3 L530.4,250.2 L532.1,248.5 L533.7,246.9 L535.4,245.6 L537.0,244.7 L538.7,243.2 L540.3,241.8 L541.9,239.9 L543.6,238.7 L545.2,237.5 L546.9,236.2 L548.5,234.9 L550.2,233.5 L551.8,233.1 L553.5,232.4 L555.1,231.8 L556.8,230.9 L558.4,230.2 L560.0,229.4 L561.7,228.7 L563.3,227.8 L565.0,227.4 L566.6,226.8 L568.3,226.4 L569.9,226.3 L571.6,226.3 L573.2,226.0 L574.9,225.0 L576.5,224.7 L578.1,224.5 L579.8,224.6 L581.4,224.2 L583.1,224.1 L584.7,224.0 L586.4,224.1 L588.0,223.9 L589.7,223.8 L591.3,223.9 L593.0,223.9 L594.6,223.9 L596.2,223.5 L597.9,223.5 L599.5,223.2 L601.2,223.0 L602.8,223.0 L604.5,223.1 L606.1,223.3 L607.8,222.8 L609.4,222.5 L611.1,221.8 L612.7,221.9 L614.3,222.1 L616.0,221.8 L617.6,221.4 L619.3,220.7 L620.9,220.6 L622.6,220.1 L624.2,219.6 L625.9,219.5 L627.5,218.9 L629.2,218.6 L630.8,218.0 L632.4,217.3 L634.1,216.5 L635.7,215.9 L637.4,215.9 L639.0,215.4 L640.7,214.6 L642.3,213.6 L644.0,213.2 L645.6,212.7 L647.3,212.1 L648.9,211.1 L650.5,210.0 L652.2,208.8 L653.8,208.1 L655.5,207.3 L657.1,206.5 L658.8,205.5 L660.4,204.6 L662.1,203.4 L663.7,202.3 L665.4,201.1 L667.0,200.4 L668.6,199.4 L670.3,198.7 L671.9,197.5 L673.6,196.2 L675.2,194.4 L676.9,193.0 L678.5,191.9 L680.2,191.0 L681.8,190.0 L683.5,188.9 L685.1,187.5 L686.7,186.3 L688.4,184.8 L690.0,183.7 L691.7,182.5 L693.3,181.4 L695.0,180.2 L696.6,178.7 L698.3,176.9 L699.9,175.3 L701.6,173.6 L703.2,172.1 L704.8,170.4 L706.5,169.1 L708.1,167.6 L709.8,166.2 L711.4,164.6 L713.1,163.3 L714.7,162.1 L716.4,160.7 L718.0,159.3 L719.7,157.4 L721.3,155.9 L722.9,154.3 L724.6,152.8 L726.2,151.0 L727.9,149.3 L729.5,147.7 L731.2,146.5 L732.8,145.2 L734.5,143.9 L736.1,142.4 L737.8,140.9 L739.4,139.2 L741.0,137.7 L742.7,136.3 L744.3,135.1 L746.0,133.3 L747.6,131.7 L749.3,130.1 L750.9,129.1 L752.6,127.8 L754.2,126.7 L755.9,125.3 L757.5,123.5 L759.1,122.3 L760.8,120.7 L762.4,119.8 L764.1,118.4 L765.7,117.2 L767.4,115.7 L769.0,114.3 L770.7,113.5 L772.3,112.3 L774.0,111.3 L775.6,109.5 L777.2,108.4 L778.9,107.1 L780.5,106.5 L782.2,105.5 L783.8,104.6 L785.5,103.2 L787.1,102.1 L788.8,100.8 L790.4,100.0 L792.1,99.1 L793.7,98.0 L795.3,97.1 L797.0,96.3 L798.6,95.6 L800.3,94.7 L801.9,93.6 L803.6,92.6 L805.2,91.7 L806.9,90.7 L808.5,90.2 L810.2,89.0 L811.8,88.1 L813.4,87.4 L815.1,86.9 L816.7,86.5 L818.4,85.7 L820.0,84.8 L821.7,84.3 L823.3,83.5 L825.0,83.3 L826.6,82.6 L828.3,82.4 L829.9,81.3 L831.5,80.6 L833.2,79.7 L834.8,79.6 L836.5,79.0 L838.1,78.8 L839.8,78.2 L841.4,77.6 L843.1,76.8 L844.7,76.4 L846.4,76.2 L848.0,75.9 L849.6,75.5 L851.3,75.1 L852.9,74.5 L854.6,74.1 L856.2,74.0 L857.9,73.7 L859.5,73.4 L861.2,72.8 L862.8,72.4 L864.5,72.2 L866.1,72.6 L867.7,72.3 L869.4,71.9 L871.0,71.4 L872.7,71.7 L874.3,71.9 L876.0,71.3 L877.6,70.9 L879.3,70.6 L880.9,70.6 L882.6,70.0 L884.2,69.7 L885.8,69.6 L887.5,69.9 L889.1,69.4 L890.8,69.0 L892.4,68.8 L894.1,69.4 L895.7,69.8 L897.4,69.5 L899.0,69.3 L900.7,68.8 L902.3,68.8 L903.9,68.5 L905.6,68.5 L907.2,68.5 L908.9,68.7 L910.5,69.0 L912.2,68.5 L913.8,68.5 L915.5,68.4 L917.1,68.6 L918.8,68.2 L920.4,68.1 L922.0,68.5 L923.7,68.1 L925.3,67.4 L927.0,66.4 L928.6,66.3 L930.3,66.0 L931.9,66.5 L933.6,66.2 L935.2,66.5 L936.9,65.8 L938.5,65.6" stroke="rgb(27, 49, 43)" />
<path d="M116.6,510.3 L117.4,509.9 L119.1,509.0 L120.7,508.2 L122.4,507.3 L124.0,506.5 L125.6,505.7 L127.3,504.8 L128.9,504.0 L130.6,503.1 L132.2,502.2 L133.9,501.3 L135.5,500.5 L137.2,499.6 L138.8,498.9 L140.5,498.0 L142.1,497.2 L143.7,496.3 L145.4,495.4 L147.0,494.5 L148.7,493.7 L150.3,493.0 L152.0,492.2 L153.6,491.1 L155.3,490.1 L156.9,489.1 L158.6,488.2 L160.2,487.3 L161.8,486.5 L163.5,485.9 L165.1,485.2 L166.8,484.3 L168.4,483.3 L170.1,482.3 L171.7,481.4 L173.4,480.5 L175.0,479.6 L176.7,478.7 L178.3,477.7 L179.9,476.9 L181.6,476.1 L183.2,475.4 L184.9,474.5 L186.5,473.5 L188.2,472.4 L189.8,471.7 L191.5,470.5 L193.1,469.7 L194.8,468.8 L196.4,468.2 L198.0,467.4 L199.7,466.4 L201.3,465.3 L203.0,464.0 L204.6,463.0 L206.3,462.3 L207.9,461.6 L209.6,460.6 L211.2,459.8 L212.9,459.0 L214.5,458.2 L216.1,457.1 L217.8,456.0 L219.4,455.1 L221.1,454.6 L222.7,453.5 L224.4,452.3 L226.0,451.0 L227.7,450.3 L229.3,449.8 L231.0,449.0 L232.6,448.2 L234.2,447.1 L235.9,446.3 L237.5,445.0 L239.2,443.9 L240.8,443.1 L242.5,442.4 L244.1,442.0 L245.8,440.9 L247.4,440.1 L249.1,438.9 L250.7,437.4 L252.3,436.6 L254.0,435.7 L255.6,434.8 L257.3,433.5 L258.9,432.5 L260.6,431.8 L262.2,430.9 L263.9,429.9 L265.5,428.9 L267.2,427.8 L268.8,426.9 L270.4,426.0 L272.1,425.0 L273.7,424.1 L275.4,423.2 L277.0,422.3 L278.7,421.5 L280.3,420.3 L282.0,419.2 L283.6,418.6 L285.3,417.7 L286.9,416.7 L288.5,415.6 L290.2,414.9 L291.8,413.8 L293.5,412.6 L295.1,411.4 L296.8,410.3 L298.4,409.2 L300.1,408.0 L301.7,407.0 L303.4,406.3 L305.0,406.2 L306.6,405.8 L308.3,405.3 L309.9,404.1 L311.6,403.2 L313.2,401.7 L314.9,400.5 L316.5,398.8 L318.2,397.7 L319.8,396.7 L321.5,395.3 L323.1,394.2 L324.7,392.8 L326.4,392.2 L328.0,391.5 L329.7,391.1 L331.3,390.8 L333.0,390.2 L334.6,390.1 L336.3,389.1 L337.9,388.4 L339.6,387.1 L341.2,386.0 L342.8,384.5 L344.5,382.8 L346.1,381.7 L347.8,380.2 L349.4,379.2 L351.1,377.3 L352.7,376.1 L354.4,374.7 L356.0,374.0 L357.7,372.9 L359.3,372.2 L360.9,371.6 L362.6,371.4 L364.2,371.6 L365.9,371.2 L367.5,370.4 L369.2,369.4 L370.8,368.2 L372.5,367.3 L374.1,365.9 L375.8,364.5 L377.4,362.3 L379.0,359.8 L380.7,357.4 L382.3,355.1 L384.0,352.9 L385.6,350.9 L387.3,349.3 L388.9,348.0 L390.6,346.2 L392.2,345.3 L393.9,344.3 L395.5,343.8 L397.1,343.0 L398.8,343.1 L400.4,343.1 L402.1,342.9 L403.7,342.2 L405.4,342.0 L407.0,341.6 L408.7,341.2 L410.3,340.3 L412.0,339.5 L413.6,338.9 L415.2,338.5 L416.9,337.8 L418.5,336.5 L420.2,335.1 L421.8,334.0 L423.5,332.8 L425.1,331.8 L426.8,330.4 L428.4,329.6 L430.1,328.1 L431.7,326.8 L433.3,325.0 L435.0,323.7 L436.6,322.4 L438.3,321.4 L439.9,319.7 L441.6,318.3 L443.2,316.5 L444.9,315.4 L446.5,314.0 L448.2,312.6 L449.8,311.2 L451.4,309.8 L453.1,308.8 L454.7,307.7 L456.4,307.0 L458.0,306.0 L459.7,305.0 L461.3,303.8 L463.0,303.5 L464.6,303.2 L466.3,303.0 L467.9,302.3 L469.5,301.4 L471.2,300.5 L472.8,299.9 L474.5,299.8 L476.1,299.5 L477.8,299.3 L479.4,299.0 L481.1,299.0 L482.7,299.2 L484.4,299.3 L486.0,299.1 L487.6,298.8 L489.3,298.6 L490.9,298.9 L492.6,298.7 L494.2,298.3 L495.9,298.0 L497.5,297.9 L499.2,298.2 L500.8,297.9 L502.5,297.7 L504.1,297.0 L505.7,296.3 L507.4,295.3 L509.0,294.7 L510.7,294.0 L512.3,293.3 L514.0,292.4 L515.6,291.5 L517.3,291.0 L518.9,290.1 L520.6,289.4 L522.2,288.2 L523.8,286.7 L525.5,285.5 L527.1,284.2 L528.8,283.2 L530.4,281.5 L532.1,280.0 L533.7,278.2 L535.4,276.8 L537.0,275.4 L538.7,274.0 L540.3,272.3 L541.9,270.6 L543.6,268.8 L545.2,266.8 L546.9,265.0 L548.5,263.3 L550.2,261.7 L551.8,260.0 L553.5,258.4 L555.1,257.2 L556.8,255.3 L558.4,253.5 L560.0,251.7 L561.7,250.2 L563.3,248.5 L565.0,246.9 L566.6,245.6 L568.3,244.4 L569.9,243.2 L571.6,241.5 L573.2,240.3 L574.9,239.2 L576.5,238.3 L578.1,237.4 L579.8,236.3 L581.4,235.3 L583.1,234.0 L584.7,233.3 L586.4,232.4 L588.0,231.8 L589.7,231.1 L591.3,230.2 L593.0,229.5 L594.6,228.6 L596.2,228.4 L597.9,227.8 L599.5,227.6 L601.2,227.1 L602.8,226.8 L604.5,226.0 L606.1,225.6 L607.8,225.2 L609.4,224.9 L611.1,224.7 L612.7,224.3 L614.3,224.2 L616.0,224.0 L617.6,224.0 L619.3,224.0 L620.9,223.9 L622.6,223.7 L624.2,223.5 L625.9,223.3 L627.5,223.4 L629.2,223.7 L630.8,223.9 L632.4,223.8 L634.1,223.4 L635.7,223.4 L637.4,223.3 L639.0,223.3 L640.7,223.2 L642.3,223.0 L644.0,222.7 L645.6,222.2 L647.3,221.9 L648.9,221.9 L650.5,222.1 L652.2,221.8 L653.8,221.6 L655.5,221.1 L657.1,220.9 L658.8,220.6 L660.4,220.3 L662.1,219.8 L663.7,219.1 L665.4,218.6 L667.0,218.5 L668.6,218.4 L670.3,218.3 L671.9,217.6 L673.6,216.8 L675.2,215.9 L676.9,215.3 L678.5,214.8 L680.2,214.3 L681.8,213.8 L683.5,213.4 L685.1,212.8 L686.7,211.6 L688.4,210.8 L690.0,209.7 L691.7,209.0 L693.3,208.0 L695.0,207.4 L696.6,206.8 L698.3,205.9 L699.9,204.9 L701.6,203.9 L703.2,202.8 L704.8,201.8 L706.5,200.8 L708.1,199.9 L709.8,199.1 L711.4,198.0 L713.1,197.2 L714.7,196.0 L716.4,195.0 L718.0,193.8 L719.7,192.4 L721.3,191.4 L722.9,190.3 L724.6,189.4 L726.2,188.3 L727.9,187.1 L729.5,186.2 L731.2,184.8 L732.8,183.4 L734.5,181.8 L736.1,180.2 L737.8,178.7 L739.4,177.3 L741.0,176.0 L742.7,174.9 L744.3,173.5 L746.0,172.4 L747.6,171.0 L749.3,169.6 L750.9,168.0 L752.6,166.5 L754.2,165.2 L755.9,163.8 L757.5,162.6 L759.1,161.3 L760.8,160.3 L762.4,158.6 L764.1,157.3 L765.7,155.4 L767.4,153.9 L769.0,152.5 L770.7,151.3 L772.3,150.2 L774.0,148.6 L775.6,147.1 L777.2,145.5 L778.9,144.4 L780.5,143.1 L782.2,141.7 L783.8,139.9 L785.5,138.3 L787.1,137.2 L788.8,135.8 L790.4,134.7 L792.1,133.1 L793.7,131.8 L795.3,130.3 L797.0,129.1 L798.6,127.8 L800.3,126.8 L801.9,125.6 L803.6,124.3 L805.2,122.8 L806.9,121.6 L808.5,120.6 L810.2,119.4 L811.8,117.6 L813.4,116.1 L815.1,114.8 L816.7,114.2 L818.4,113.2 L820.0,112.1 L821.7,110.6 L823.3,109.4 L825.0,108.5 L826.6,107.2 L828.3,105.9 L829.9,104.9 L831.5,104.3 L833.2,103.2 L834.8,102.3 L836.5,100.9 L838.1,100.0 L839.8,99.1 L841.4,98.3 L843.1,97.8 L844.7,96.6 L846.4,95.8 L848.0,94.5 L849.6,93.7 L851.3,92.9 L852.9,92.2 L854.6,91.6 L856.2,90.8 L857.9,89.9 L859.5,89.3 L861.2,88.5 L862.8,88.2 L864.5,87.5 L866.1,87.1 L867.7,86.3 L869.4,85.6 L871.0,84.7 L872.7,84.3 L874.3,83.8 L876.0,83.3 L877.6,82.6 L879.3,81.5 L880.9,80.6 L882.6,80.0 L884.2,80.1 L885.8,79.8 L887.5,79.6 L889.1,78.8 L890.8,78.3 L892.4,77.7 L894.1,77.4 L895.7,77.0 L897.4,76.9 L899.0,76.4 L900.7,76.1 L902.3,75.7 L903.9,75.5 L905.6,75.0 L907.2,74.5 L908.9,73.9 L910.5,73.5 L912.2,73.2 L913.8,73.1 L915.5,72.7 L917.1,72.8 L918.8,72.4 L920.4,72.5 L922.0,72.2 L923.7,72.0 L925.3,71.7 L927.0,71.2 L928.6,70.8 L930.3,71.0 L931.9,70.9 L933.6,70.6 L935.2,69.7 L936.9,69.3 L938.5,69.5" stroke="rgb(26, 42, 42)" />
<path d="M116.6,510.3 L117.4,509.9 L119.1,509.1 L120.7,508.3 L122.4,507.5 L124.0,506.7 L125.6,505.9 L127.3,505.2 L128.9,504.4 L130.6,503.6 L132.2,502.8 L133.9,501.8 L135.5,501.0 L137.2,500.2 L138.8,499.5 L140.5,498.7 L142.1,498.2 L143.7,497.3 L145.4,496.5 L147.0,495.3 L148.7,494.6 L150.3,493.7 L152.0,493.2 L153.6,492.3 L155.3,491.6 L156.9,490.6 L158.6,490.2 L160.2,489.2 L161.8,488.3 L163.5,487.3 L165.1,486.6 L166.8,485.9 L168.4,484.9 L170.1,484.0 L171.7,483.0 L173.4,482.4 L175.0,481.6 L176.7,481.1 L178.3,480.6 L179.9,479.9 L181.6,478.8 L183.2,477.6 L184.9,476.7 L186.5,476.0 L188.2,475.6 L189.8,474.6 L191.5,473.8 L193.1,472.5 L194.8,471.7 L196.4,470.8 L198.0,469.8 L199.7,468.9 L201.3,468.1 L203.0,467.8 L204.6,467.2 L206.3,466.4 L207.9,465.3 L209.6,464.1 L211.2,463.4 L212.9,462.7 L214.5,461.7 L216.1,460.5 L217.8,459.6 L219.4,459.2 L221.1,458.4 L222.7,457.4 L224.4,456.1 L226.0,455.5 L227.7,454.4 L229.3,453.5 L231.0,452.6 L232.6,452.4 L234.2,451.8 L235.9,451.1 L237.5,449.8 L239.2,448.7 L240.8,447.9 L242.5,446.9 L244.1,446.3 L245.8,445.3 L247.4,444.6 L249.1,443.6 L250.7,442.6 L252.3,441.9 L254.0,441.0 L255.6,439.8 L257.3,438.9 L258.9,437.8 L260.6,437.2 L262.2,436.6 L263.9,436.1 L265.5,435.4 L267.2,434.4 L268.8,433.2 L270.4,432.4 L272.1,431.5 L273.7,430.8 L275.4,429.3 L277.0,428.4 L278.7,427.6 L280.3,427.4 L282.0,426.4 L283.6,425.4 L285.3,424.1 L286.9,423.4 L288.5,422.0 L290.2,420.9 L291.8,419.5 L293.5,418.6 L295.1,418.1 L296.8,417.8 L298.4,417.3 L300.1,416.4 L301.7,415.5 L303.4,414.5 L305.0,413.5 L306.6,412.2 L308.3,410.8 L309.9,409.5 L311.6,408.3 L313.2,407.8 L314.9,407.0 L316.5,406.5 L318.2,406.1 L319.8,405.9 L321.5,405.3 L323.1,404.3 L324.7,403.3 L326.4,402.3 L328.0,401.4 L329.7,400.2 L331.3,399.0 L333.0,397.6 L334.6,396.3 L336.3,395.2 L337.9,394.2 L339.6,393.1 L341.2,392.3 L342.8,391.5 L344.5,391.2 L346.1,391.3 L347.8,391.3 L349.4,390.7 L351.1,389.6 L352.7,388.4 L354.4,387.5 L356.0,386.5 L357.7,385.7 L359.3,384.1 L360.9,383.0 L362.6,381.2 L364.2,379.9 L365.9,378.4 L367.5,377.2 L369.2,376.2 L370.8,375.0 L372.5,373.9 L374.1,372.2 L375.8,371.4 L377.4,371.0 L379.0,371.4 L380.7,371.1 L382.3,371.3 L384.0,370.9 L385.6,370.5 L387.3,369.7 L388.9,368.3 L390.6,366.9 L392.2,365.4 L393.9,364.0 L395.5,362.6 L397.1,360.7 L398.8,358.5 L400.4,356.1 L402.1,353.7 L403.7,351.7 L405.4,350.0 L407.0,348.4 L408.7,347.2 L410.3,345.9 L412.0,344.7 L413.6,343.5 L415.2,343.1 L416.9,343.0 L418.5,342.9 L420.2,342.5 L421.8,342.5 L423.5,342.5 L425.1,342.5 L426.8,341.7 L428.4,341.3 L430.1,340.8 L431.7,340.5 L433.3,339.3 L435.0,338.7 L436.6,337.9 L438.3,337.5 L439.9,336.5 L441.6,335.4 L443.2,334.5 L444.9,333.6 L446.5,332.8 L448.2,331.5 L449.8,330.6 L451.4,329.3 L453.1,328.0 L454.7,326.6 L456.4,324.9 L458.0,323.3 L459.7,321.8 L461.3,320.7 L463.0,319.3 L464.6,318.2 L466.3,317.0 L467.9,315.7 L469.5,314.0 L471.2,312.3 L472.8,311.3 L474.5,310.4 L476.1,309.6 L477.8,308.4 L479.4,307.3 L481.1,306.4 L482.7,305.9 L484.4,305.2 L486.0,304.2 L487.6,303.2 L489.3,302.5 L490.9,302.3 L492.6,301.9 L494.2,301.2 L495.9,300.8 L497.5,300.3 L499.2,300.5 L500.8,300.2 L502.5,299.9 L504.1,299.2 L505.7,299.0 L507.4,299.1 L509.0,299.1 L510.7,298.9 L512.3,298.9 L514.0,298.9 L515.6,298.7 L517.3,298.3 L518.9,298.1 L520.6,298.1 L522.2,298.1 L523.8,298.0 L525.5,297.9 L527.1,297.7 L528.8,297.1 L530.4,296.8 L532.1,296.0 L533.7,295.6 L535.4,294.8 L537.0,294.3 L538.7,293.7 L540.3,292.7 L541.9,292.2 L543.6,291.5 L545.2,290.9 L546.9,289.6 L548.5,288.4 L550.2,287.5 L551.8,286.8 L553.5,286.0 L555.1,284.6 L556.8,283.3 L558.4,281.5 L560.0,280.5 L561.7,279.0 L563.3,277.9 L565.0,276.3 L566.6,275.0 L568.3,273.7 L569.9,272.0 L571.6,270.2 L573.2,268.8 L574.9,267.0 L576.5,265.7 L578.1,263.6 L579.8,262.1 L581.4,260.2 L583.1,258.8 L584.7,257.1 L586.4,255.7 L588.0,254.4 L589.7,252.9 L591.3,251.3 L593.0,249.3 L594.6,248.3 L596.2,247.1 L597.9,245.9 L599.5,244.4 L601.2,243.2 L602.8,241.8 L604.5,240.1 L606.1,239.1 L607.8,238.1 L609.4,237.1 L611.1,235.8 L612.7,235.0 L614.3,234.3 L616.0,233.7 L617.6,233.0 L619.3,232.1 L620.9,231.2 L622.6,230.1 L624.2,229.7 L625.9,229.5 L627.5,229.3 L629.2,228.6 L630.8,227.7 L632.4,227.2 L634.1,226.9 L635.7,226.3 L637.4,226.1 L639.0,225.5 L640.7,225.5 L642.3,225.3 L644.0,225.0 L645.6,225.1 L647.3,224.9 L648.9,224.8 L650.5,224.3 L652.2,223.9 L653.8,223.9 L655.5,223.8 L657.1,223.5 L658.8,223.5 L660.4,223.4 L662.1,223.9 L663.7,223.9 L665.4,223.8 L667.0,223.5 L668.6,223.3 L670.3,223.5 L671.9,223.4 L673.6,223.6 L675.2,223.5 L676.9,223.5 L678.5,223.2 L680.2,223.0 L681.8,222.9 L683.5,222.7 L685.1,222.2 L686.7,221.8 L688.4,221.2 L690.0,221.2 L691.7,220.9 L693.3,220.7 L695.0,220.2 L696.6,219.6 L698.3,219.4 L699.9,219.2 L701.6,219.2 L703.2,219.4 L704.8,219.2 L706.5,218.8 L708.1,217.6 L709.8,217.0 L711.4,216.3 L713.1,215.7 L714.7,215.1 L716.4,214.5 L718.0,213.8 L719.7,213.1 L721.3,212.9 L722.9,212.3 L724.6,211.7 L726.2,210.9 L727.9,210.4 L729.5,209.8 L731.2,208.8 L732.8,207.9 L734.5,206.9 L736.1,206.1 L737.8,205.6 L739.4,205.0 L741.0,204.0 L742.7,203.1 L744.3,201.7 L746.0,201.0 L747.6,200.1 L749.3,199.4 L750.9,198.3 L752.6,197.2 L754.2,196.4 L755.9,195.4 L757.5,194.2 L759.1,193.0 L760.8,192.1 L762.4,191.0 L764.1,189.9 L765.7,188.6 L767.4,188.1 L769.0,187.2 L770.7,186.3 L772.3,184.6 L774.0,183.3 L775.6,181.8 L777.2,180.4 L778.9,179.3 L780.5,178.2 L782.2,176.7 L783.8,175.5 L785.5,174.2 L787.1,173.0 L788.8,171.5 L790.4,170.6 L792.1,169.5 L793.7,168.3 L795.3,166.7 L797.0,165.3 L798.6,163.8 L800.3,162.5 L801.9,161.2 L803.6,159.9 L805.2,158.5 L806.9,157.2 L808.5,155.9 L810.2,154.6 L811.8,153.4 L813.4,152.1 L815.1,150.9 L816.7,149.6 L818.4,148.1 L820.0,146.6 L821.7,145.1 L823.3,144.0 L825.0,142.6 L826.6,141.3 L828.3,140.0 L829.9,138.8 L831.5,137.3 L833.2,136.1 L834.8,134.6 L836.5,133.7 L838.1,132.5 L839.8,131.3 L841.4,129.7 L843.1,128.4 L844.7,127.3 L846.4,126.2 L848.0,124.8 L849.6,124.1 L851.3,122.8 L852.9,121.7 L854.6,120.1 L856.2,118.7 L857.9,117.6 L859.5,116.3 L861.2,115.4 L862.8,114.5 L864.5,114.0 L866.1,112.6 L867.7,111.2 L869.4,109.9 L871.0,109.2 L872.7,108.4 L874.3,107.0 L876.0,105.9 L877.6,104.5 L879.3,103.7 L880.9,103.2 L882.6,102.4 L884.2,101.5 L885.8,100.2 L887.5,99.2 L889.1,98.3 L890.8,97.2 L892.4,96.6 L894.1,95.9 L895.7,95.2 L897.4,94.5 L899.0,93.4 L900.7,92.5 L902.3,91.6 L903.9,91.0 L905.6,90.3 L907.2,89.7 L908.9,88.9 L910.5,88.4 L912.2,87.6 L913.8,87.2 L915.5,86.5 L917.1,85.9 L918.8,85.3 L920.4,84.8 L922.0,84.3 L923.7,83.5 L925.3,83.0 L927.0,82.3 L928.6,81.6 L930.3,80.9 L931.9,80.8 L933.6,80.5 L935.2,79.9 L936.9,79.2 L938.5,78.8" stroke="rgb(24, 35, 40)" />
<path d="M116.6,510.3 L117.4,509.9 L119.1,509.2 L120.7,508.4 L122.4,507.7 L124.0,507.0 L125.6,506.2 L127.3,505.5 L128.9,504.7 L130.6,503.9 L132.2,503.2 L133.9,502.5 L135.5,501.8 L137.2,501.1 L138.8,500.4 L140.5,499.6 L142.1,498.8 L143.7,498.0 L145.4,497.3 L147.0,496.5 L148.7,495.7 L150.3,495.0 L152.0,494.3 L153.6,493.7 L155.3,492.6 L156.9,491.9 L158.6,491.1 L160.2,490.5 L161.8,489.7 L163.5,488.9 L165.1,488.0 L166.8,487.1 L168.4,486.3 L170.1,485.5 L171.7,484.9 L173.4,484.0 L175.0,483.3 L176.7,482.3 L178.3,481.9 L179.9,481.1 L181.6,480.4 L183.2,479.5 L184.9,478.5 L186.5,477.7 L188.2,476.9 L189.8,476.5 L191.5,475.6 L193.1,474.6 L194.8,473.8 L196.4,473.0 L198.0,472.1 L199.7,471.6 L201.3,471.1 L203.0,470.7 L204.6,469.7 L206.3,468.6 L207.9,467.5 L209.6,467.0 L211.2,466.4 L212.9,465.6 L214.5,464.7 L216.1,463.9 L217.8,463.2 L219.4,462.6 L221.1,461.7 L222.7,460.9 L224.4,459.6 L226.0,459.2 L227.7,458.6 L229.3,457.9 L231.0,456.8 L232.6,455.9 L234.2,455.1 L235.9,454.0 L237.5,452.9 L239.2,452.2 L240.8,451.8 L242.5,451.1 L244.1,450.2 L245.8,448.9 L247.4,448.0 L249.1,447.2 L250.7,446.9 L252.3,446.4 L254.0,445.6 L255.6,444.8 L257.3,443.9 L258.9,442.7 L260.6,441.9 L262.2,441.3 L263.9,440.8 L265.5,440.0 L267.2,438.8 L268.8,438.1 L270.4,437.0 L272.1,436.3 L273.7,435.5 L275.4,434.8 L277.0,434.0 L278.7,433.0 L280.3,432.1 L282.0,431.4 L283.6,430.1 L285.3,429.2 L286.9,428.1 L288.5,427.3 L290.2,426.9 L291.8,426.1 L293.5,425.4 L295.1,424.8 L296.8,423.9 L298.4,422.8 L300.1,421.7 L301.7,420.5 L303.4,419.6 L305.0,418.5 L306.6,418.2 L308.3,417.9 L309.9,417.5 L311.6,416.7 L313.2,415.9 L314.9,415.4 L316.5,414.0 L318.2,413.1 L319.8,411.9 L321.5,411.1 L323.1,410.0 L324.7,408.5 L326.4,407.6 L328.0,406.7 L329.7,406.5 L331.3,405.8 L333.0,405.4 L334.6,404.4 L336.3,404.3 L337.9,403.4 L339.6,403.0 L341.2,401.6 L342.8,400.4 L344.5,399.3 L346.1,398.3 L347.8,397.3 L349.4,396.1 L351.1,394.9 L352.7,393.9 L354.4,393.1 L356.0,392.2 L357.7,391.5 L359.3,391.1 L360.9,391.1 L362.6,391.0 L364.2,390.4 L365.9,389.9 L367.5,389.1 L369.2,388.1 L370.8,387.0 L372.5,386.1 L374.1,384.7 L375.8,383.3 L377.4,382.0 L379.0,381.0 L380.7,379.7 L382.3,378.4 L384.0,377.0 L385.6,376.0 L387.3,374.9 L388.9,374.0 L390.6,373.4 L392.2,372.7 L393.9,372.4 L395.5,371.3 L397.1,370.7 L398.8,370.0 L400.4,370.2 L402.1,370.0 L403.7,369.5 L405.4,368.7 L407.0,367.7 L408.7,367.0 L410.3,365.7 L412.0,364.4 L413.6,362.7 L415.2,361.1 L416.9,359.0 L418.5,356.6 L420.2,354.6 L421.8,352.5 L423.5,350.6 L425.1,348.7 L426.8,347.5 L428.4,346.5 L430.1,345.2 L431.7,344.3 L433.3,343.8 L435.0,343.4 L436.6,343.4 L438.3,343.1 L439.9,342.9 L441.6,342.4 L443.2,342.1 L444.9,341.9 L446.5,341.6 L448.2,341.3 L449.8,341.1 L451.4,340.8 L453.1,340.3 L454.7,339.3 L456.4,338.4 L458.0,337.6 L459.7,337.1 L461.3,336.7 L463.0,335.9 L464.6,334.6 L466.3,333.4 L467.9,332.3 L469.5,331.5 L471.2,330.3 L472.8,329.1 L474.5,327.7 L476.1,326.6 L477.8,325.1 L479.4,323.8 L481.1,322.2 L482.7,321.0 L484.4,319.7 L486.0,318.5 L487.6,317.5 L489.3,316.3 L490.9,315.3 L492.6,314.2 L494.2,312.8 L495.9,311.6 L497.5,310.3 L499.2,309.2 L500.8,308.7 L502.5,307.8 L504.1,307.4 L505.7,306.0 L507.4,305.4 L509.0,304.4 L510.7,303.5 L512.3,303.0 L514.0,302.4 L515.6,302.1 L517.3,301.6 L518.9,301.1 L520.6,300.7 L522.2,300.1 L523.8,300.1 L525.5,299.3 L527.1,299.0 L528.8,299.0 L530.4,299.6 L532.1,299.5 L533.7,299.1 L535.4,299.0 L537.0,299.1 L538.7,298.9 L540.3,298.9 L541.9,298.9 L543.6,299.0 L545.2,298.8 L546.9,298.3 L548.5,297.9 L550.2,297.7 L551.8,297.6 L553.5,297.3 L555.1,296.6 L556.8,296.3 L558.4,295.9 L560.0,295.7 L561.7,295.2 L563.3,294.7 L565.0,294.2 L566.6,293.5 L568.3,292.8 L569.9,292.0 L571.6,290.9 L573.2,290.2 L574.9,289.5 L576.5,288.4 L578.1,287.6 L579.8,286.6 L581.4,285.8 L583.1,284.5 L584.7,283.3 L586.4,282.2 L588.0,280.9 L589.7,279.5 L591.3,278.2 L593.0,277.0 L594.6,275.8 L596.2,274.4 L597.9,273.1 L599.5,271.8 L601.2,270.1 L602.8,268.3 L604.5,266.4 L606.1,264.8 L607.8,263.7 L609.4,262.2 L611.1,261.0 L612.7,259.3 L614.3,257.8 L616.0,256.3 L617.6,254.7 L619.3,253.5 L620.9,251.9 L622.6,250.8 L624.2,249.4 L625.9,248.1 L627.5,246.5 L629.2,245.1 L630.8,244.0 L632.4,243.0 L634.1,242.1 L635.7,241.0 L637.4,240.0 L639.0,238.9 L640.7,237.7 L642.3,236.8 L644.0,236.0 L645.6,235.0 L647.3,234.1 L648.9,233.4 L650.5,232.5 L652.2,231.3 L653.8,230.8 L655.5,230.6 L657.1,230.2 L658.8,229.5 L660.4,228.8 L662.1,228.5 L663.7,227.7 L665.4,227.7 L667.0,227.5 L668.6,227.5 L670.3,226.5 L671.9,225.9 L673.6,225.7 L675.2,225.5 L676.9,225.1 L678.5,224.6 L680.2,224.6 L681.8,224.5 L683.5,224.1 L685.1,223.8 L686.7,223.7 L688.4,223.8 L690.0,223.8 L691.7,224.0 L693.3,223.9 L695.0,223.8 L696.6,223.7 L698.3,223.5 L699.9,223.4 L701.6,223.2 L703.2,223.6 L704.8,223.5 L706.5,223.7 L708.1,223.5 L709.8,223.7 L711.4,223.3 L713.1,222.9 L714.7,222.7 L716.4,223.0 L718.0,222.9 L719.7,222.7 L721.3,222.0 L722.9,222.1 L724.6,222.1 L726.2,222.1 L727.9,221.6 L729.5,221.0 L731.2,220.6 L732.8,219.9 L734.5,219.7 L736.1,219.5 L737.8,219.8 L739.4,219.3 L741.0,218.7 L742.7,218.0 L744.3,217.5 L746.0,217.1 L747.6,216.4 L749.3,216.0 L750.9,215.7 L752.6,215.6 L754.2,215.3 L755.9,214.9 L757.5,214.2 L759.1,213.2 L760.8,212.0 L762.4,211.4 L764.1,210.9 L765.7,210.8 L767.4,209.9 L769.0,209.1 L770.7,208.3 L772.3,207.6 L774.0,206.9 L775.6,206.3 L777.2,205.5 L778.9,204.8 L780.5,203.7 L782.2,203.1 L783.8,201.9 L785.5,200.7 L787.1,199.5 L788.8,199.1 L790.4,198.5 L792.1,197.7 L793.7,196.8 L795.3,195.8 L797.0,195.3 L798.6,193.8 L800.3,192.5 L801.9,191.1 L803.6,190.3 L805.2,189.5 L806.9,188.5 L808.5,187.4 L810.2,186.3 L811.8,185.0 L813.4,184.0 L815.1,182.9 L816.7,181.8 L818.4,180.5 L820.0,179.1 L821.7,178.2 L823.3,177.4 L825.0,176.2 L826.6,175.2 L828.3,173.4 L829.9,172.5 L831.5,171.4 L833.2,170.3 L834.8,168.7 L836.5,167.1 L838.1,166.1 L839.8,164.8 L841.4,163.8 L843.1,162.4 L844.7,161.4 L846.4,160.0 L848.0,158.5 L849.6,157.2 L851.3,155.8 L852.9,154.5 L854.6,153.4 L856.2,152.4 L857.9,151.3 L859.5,149.9 L861.2,148.3 L862.8,147.3 L864.5,145.8 L866.1,144.5 L867.7,143.0 L869.4,142.0 L871.0,140.9 L872.7,139.7 L874.3,138.2 L876.0,136.9 L877.6,135.5 L879.3,134.4 L880.9,133.0 L882.6,132.3 L884.2,131.1 L885.8,130.1 L887.5,128.8 L889.1,127.3 L890.8,126.4 L892.4,125.0 L894.1,124.1 L895.7,122.9 L897.4,121.7 L899.0,120.5 L900.7,119.4 L902.3,117.9 L903.9,116.8 L905.6,115.9 L907.2,115.0 L908.9,113.8 L910.5,112.4 L912.2,111.3 L913.8,110.5 L915.5,109.6 L917.1,108.7 L918.8,107.6 L920.4,106.7 L922.0,106.5 L923.7,105.6 L925.3,104.4 L927.0,103.3 L928.6,102.4 L930.3,101.8 L931.9,100.5 L933.6,99.3 L935.2,98.8 L936.9,98.1 L938.5,97.5" stroke="rgb(25, 32, 45)" />
<path d="M116.6,510.3 L117.4,510.0 L119.1,509.3 L120.7,508.5 L122.4,507.8 L124.0,507.1 L125.6,506.5 L127.3,505.8 L128.9,505.1 L130.6,504.3 L132.2,503.6 L133.9,502.8 L135.5,502.1 L137.2,501.4 L138.8,500.9 L140.5,500.2 L142.1,499.4 L143.7,498.7 L145.4,498.0 L147.0,497.2 L148.7,496.6 L150.3,495.9 L152.0,495.2 L153.6,494.4 L155.3,493.6 L156.9,492.9 L158.6,492.2 L160.2,491.6 L161.8,490.7 L163.5,489.7 L165.1,489.0 L166.8,488.4 L168.4,488.0 L170.1,487.4 L171.7,486.8 L173.4,485.9 L175.0,484.9 L176.7,484.3 L178.3,483.5 L179.9,483.0 L181.6,482.2 L183.2,481.3 L184.9,480.5 L186.5,479.8 L188.2,479.4 L189.8,478.8 L191.5,478.0 L193.1,476.7 L194.8,475.8 L196.4,475.3 L198.0,475.1 L199.7,474.3 L201.3,473.4 L203.0,472.7 L204.6,471.9 L206.3,471.3 L207.9,470.2 L209.6,469.7 L211.2,469.0 L212.9,468.5 L214.5,467.4 L216.1,466.7 L217.8,465.9 L219.4,465.1 L221.1,464.3 L222.7,463.4 L224.4,462.5 L226.0,462.1 L227.7,461.2 L229.3,460.6 L231.0,460.0 L232.6,459.2 L234.2,458.7 L235.9,457.5 L237.5,457.0 L239.2,456.2 L240.8,455.7 L242.5,455.0 L244.1,454.3 L245.8,453.4 L247.4,452.2 L249.1,451.7 L250.7,451.0 L252.3,450.5 L254.0,449.4 L255.6,448.2 L257.3,447.2 L258.9,446.7 L260.6,446.3 L262.2,445.6 L263.9,444.5 L265.5,443.4 L267.2,442.6 L268.8,442.3 L270.4,441.5 L272.1,440.7 L273.7,439.6 L275.4,439.0 L277.0,438.3 L278.7,437.5 L280.3,436.7 L282.0,435.9 L283.6,435.2 L285.3,435.0 L286.9,434.4 L288.5,433.4 L290.2,432.3 L291.8,431.2 L293.5,430.6 L295.1,429.6 L296.8,428.7 L298.4,427.9 L300.1,427.7 L301.7,427.3 L303.4,426.6 L305.0,425.5 L306.6,424.7 L308.3,423.4 L309.9,422.5 L311.6,421.6 L313.2,420.6 L314.9,419.7 L316.5,418.5 L318.2,418.0 L319.8,417.6 L321.5,417.3 L323.1,416.6 L324.7,415.7 L326.4,414.9 L328.0,414.0 L329.7,413.0 L331.3,411.9 L333.0,410.7 L334.6,409.7 L336.3,408.8 L337.9,407.5 L339.6,406.7 L341.2,406.1 L342.8,406.1 L344.5,405.9 L346.1,405.6 L347.8,405.3 L349.4,405.1 L351.1,404.4 L352.7,403.6 L354.4,402.3 L356.0,401.2 L357.7,399.6 L359.3,398.1 L360.9,396.9 L362.6,395.9 L364.2,395.2 L365.9,394.4 L367.5,393.4 L369.2,392.7 L370.8,391.9 L372.5,391.5 L374.1,390.7 L375.8,390.6 L377.4,390.5 L379.0,390.4 L380.7,390.0 L382.3,389.8 L384.0,389.0 L385.6,387.8 L387.3,386.6 L388.9,385.5 L390.6,384.8 L392.2,383.3 L393.9,382.2 L395.5,380.6 L397.1,379.5 L398.8,378.3 L400.4,377.0 L402.1,375.8 L403.7,374.6 L405.4,373.7 L407.0,372.9 L408.7,372.3 L410.3,371.7 L412.0,371.3 L413.6,371.0 L415.2,370.9 L416.9,371.0 L418.5,371.0 L420.2,370.6 L421.8,369.9 L423.5,368.9 L425.1,368.2 L426.8,367.1 L428.4,366.4 L430.1,364.9 L431.7,363.4 L433.3,361.6 L435.0,359.9 L436.6,357.9 L438.3,355.6 L439.9,353.4 L441.6,351.7 L443.2,349.7 L444.9,348.2 L446.5,346.8 L448.2,345.7 L449.8,344.6 L451.4,343.8 L453.1,343.3 L454.7,342.9 L456.4,342.5 L458.0,342.6 L459.7,342.7 L461.3,342.5 L463.0,342.4 L464.6,342.2 L466.3,342.2 L467.9,341.7 L469.5,341.3 L471.2,340.7 L472.8,340.3 L474.5,339.7 L476.1,339.4 L477.8,338.7 L479.4,337.9 L481.1,336.7 L482.7,335.8 L484.4,335.0 L486.0,334.1 L487.6,333.2 L489.3,332.3 L490.9,331.1 L492.6,330.0 L494.2,328.7 L495.9,327.5 L497.5,326.5 L499.2,325.6 L500.8,324.5 L502.5,323.3 L504.1,321.9 L505.7,320.8 L507.4,319.4 L509.0,318.1 L510.7,317.1 L512.3,316.0 L514.0,314.8 L515.6,313.7 L517.3,312.7 L518.9,311.9 L520.6,310.8 L522.2,309.7 L523.8,308.5 L525.5,307.2 L527.1,306.2 L528.8,305.4 L530.4,304.7 L532.1,304.0 L533.7,303.6 L535.4,303.0 L537.0,302.6 L538.7,302.0 L540.3,301.7 L541.9,301.4 L543.6,301.0 L545.2,300.8 L546.9,300.3 L548.5,300.0 L550.2,299.5 L551.8,299.3 L553.5,299.0 L555.1,299.0 L556.8,299.0 L558.4,299.3 L560.0,299.5 L561.7,299.8 L563.3,299.2 L565.0,299.1 L566.6,298.7 L568.3,298.6 L569.9,298.3 L571.6,297.9 L573.2,297.7 L574.9,297.3 L576.5,297.0 L578.1,296.9 L579.8,296.9 L581.4,296.9 L583.1,296.8 L584.7,296.5 L586.4,296.4 L588.0,295.4 L589.7,294.8 L591.3,294.1 L593.0,294.0 L594.6,293.3 L596.2,292.7 L597.9,291.9 L599.5,291.4 L601.2,290.8 L602.8,290.0 L604.5,288.9 L606.1,287.4 L607.8,286.2 L609.4,284.9 L611.1,284.1 L612.7,283.3 L614.3,282.6 L616.0,281.6 L617.6,280.7 L619.3,279.3 L620.9,277.8 L622.6,276.1 L624.2,274.5 L625.9,273.5 L627.5,272.4 L629.2,271.3 L630.8,269.9 L632.4,268.0 L634.1,266.2 L635.7,264.8 L637.4,263.6 L639.0,262.5 L640.7,261.0 L642.3,259.7 L644.0,258.3 L645.6,256.8 L647.3,255.1 L648.9,253.9 L650.5,252.6 L652.2,251.6 L653.8,250.0 L655.5,248.8 L657.1,247.3 L658.8,246.3 L660.4,245.1 L662.1,244.0 L663.7,243.1 L665.4,241.6 L667.0,240.3 L668.6,239.0 L670.3,237.9 L671.9,237.1 L673.6,236.1 L675.2,235.6 L676.9,234.5 L678.5,233.7 L680.2,232.9 L681.8,232.4 L683.5,231.8 L685.1,231.0 L686.7,230.7 L688.4,230.2 L690.0,229.9 L691.7,229.1 L693.3,228.9 L695.0,228.2 L696.6,227.9 L698.3,227.2 L699.9,227.0 L701.6,226.8 L703.2,226.5 L704.8,226.4 L706.5,226.0 L708.1,225.8 L709.8,225.2 L711.4,224.9 L713.1,224.6 L714.7,224.1 L716.4,223.9 L718.0,223.9 L719.7,224.3 L721.3,224.3 L722.9,224.1 L724.6,224.0 L726.2,224.0 L727.9,223.6 L729.5,223.5 L731.2,223.4 L732.8,223.7 L734.5,223.7 L736.1,223.4 L737.8,223.3 L739.4,223.0 L741.0,223.7 L742.7,223.6 L744.3,223.6 L746.0,222.6 L747.6,222.6 L749.3,222.9 L750.9,223.0 L752.6,223.0 L754.2,222.8 L755.9,222.8 L757.5,222.3 L759.1,221.6 L760.8,221.2 L762.4,221.3 L764.1,220.8 L765.7,220.9 L767.4,220.4 L769.0,220.8 L770.7,220.1 L772.3,219.7 L774.0,218.9 L775.6,218.8 L777.2,218.5 L778.9,218.2 L780.5,218.1 L782.2,217.5 L783.8,217.0 L785.5,216.3 L787.1,216.0 L788.8,215.6 L790.4,214.8 L792.1,214.2 L793.7,213.7 L795.3,213.5 L797.0,213.2 L798.6,212.7 L800.3,212.0 L801.9,211.2 L803.6,210.5 L805.2,209.7 L806.9,208.9 L808.5,208.2 L810.2,207.5 L811.8,206.9 L813.4,206.2 L815.1,205.5 L816.7,205.0 L818.4,204.0 L820.0,203.5 L821.7,202.3 L823.3,201.7 L825.0,200.5 L826.6,199.7 L828.3,199.0 L829.9,198.2 L831.5,197.2 L833.2,196.1 L834.8,195.4 L836.5,194.3 L838.1,193.2 L839.8,192.2 L841.4,191.7 L843.1,190.9 L844.7,189.9 L846.4,188.3 L848.0,187.2 L849.6,186.2 L851.3,185.2 L852.9,184.2 L854.6,183.1 L856.2,182.2 L857.9,181.4 L859.5,180.1 L861.2,178.9 L862.8,177.6 L864.5,176.8 L866.1,175.7 L867.7,174.3 L869.4,173.1 L871.0,172.1 L872.7,171.1 L874.3,170.1 L876.0,169.1 L877.6,168.0 L879.3,166.7 L880.9,165.2 L882.6,164.0 L884.2,162.6 L885.8,161.4 L887.5,160.2 L889.1,159.1 L890.8,157.8 L892.4,156.3 L894.1,154.9 L895.7,153.6 L897.4,153.1 L899.0,152.2 L900.7,151.2 L902.3,149.4 L903.9,148.2 L905.6,146.8 L907.2,145.5 L908.9,144.2 L910.5,143.2 L912.2,142.1 L913.8,140.9 L915.5,139.6 L917.1,138.5 L918.8,137.4 L920.4,136.4 L922.0,135.2 L923.7,134.0 L925.3,132.5 L927.0,131.5 L928.6,129.9 L930.3,128.8 L931.9,127.7 L933.6,126.8 L935.2,125.7 L936.9,124.4 L938.5,123.4" stroke="rgb(25, 30, 50)" />
<path d="M116.6,510.3 L117.4,510.0 L119.1,509.3 L120.7,508.6 L122.4,508.0 L124.0,507.3 L125.6,506.6 L127.3,506.0 L128.9,505.4 L130.6,504.7 L132.2,503.9 L133.9,503.3 L135.5,502.6 L137.2,502.0 L138.8,501.3 L140.5,500.7 L142.1,499.9 L143.7,499.2 L145.4,498.5 L147.0,497.9 L148.7,497.2 L150.3,496.5 L152.0,495.7 L153.6,495.1 L155.3,494.4 L156.9,493.8 L158.6,493.1 L160.2,492.6 L161.8,491.9 L163.5,491.4 L165.1,490.8 L166.8,490.1 L168.4,489.5 L170.1,488.4 L171.7,487.9 L173.4,487.0 L175.0,486.5 L176.7,485.7 L178.3,485.1 L179.9,484.4 L181.6,483.8 L183.2,483.0 L184.9,482.0 L186.5,481.1 L188.2,480.5 L189.8,480.0 L191.5,479.8 L193.1,479.1 L194.8,478.2 L196.4,477.3 L198.0,476.6 L199.7,475.8 L201.3,475.0 L203.0,474.3 L204.6,473.8 L206.3,473.4 L207.9,472.9 L209.6,472.3 L211.2,471.3 L212.9,470.6 L214.5,469.9 L216.1,469.5 L217.8,468.6 L219.4,467.8 L221.1,466.8 L222.7,466.0 L224.4,465.2 L226.0,464.6 L227.7,464.1 L229.3,463.3 L231.0,462.4 L232.6,462.1 L234.2,461.5 L235.9,460.9 L237.5,459.6 L239.2,459.0 L240.8,458.4 L242.5,457.7 L244.1,456.8 L245.8,456.4 L247.4,455.9 L249.1,455.5 L250.7,454.3 L252.3,453.5 L254.0,452.2 L255.6,451.6 L257.3,451.0 L258.9,450.8 L260.6,450.2 L262.2,449.1 L263.9,447.9 L265.5,447.0 L267.2,446.3 L268.8,446.3 L270.4,445.5 L272.1,444.4 L273.7,443.6 L275.4,442.5 L277.0,441.9 L278.7,441.3 L280.3,441.4 L282.0,441.1 L283.6,439.9 L285.3,438.9 L286.9,437.8 L288.5,436.9 L290.2,435.9 L291.8,435.1 L293.5,434.8 L295.1,434.3 L296.8,433.9 L298.4,432.8 L300.1,432.2 L301.7,431.2 L303.4,430.4 L305.0,429.3 L306.6,428.6 L308.3,427.9 L309.9,427.6 L311.6,427.2 L313.2,426.7 L314.9,426.0 L316.5,425.0 L318.2,424.3 L319.8,422.9 L321.5,421.9 L323.1,421.0 L324.7,420.4 L326.4,419.7 L328.0,418.7 L329.7,417.9 L331.3,417.2 L333.0,417.0 L334.6,416.6 L336.3,416.2 L337.9,415.6 L339.6,414.7 L341.2,413.7 L342.8,412.4 L344.5,411.5 L346.1,410.8 L347.8,409.9 L349.4,408.8 L351.1,408.0 L352.7,407.2 L354.4,406.6 L356.0,405.9 L357.7,405.7 L359.3,405.4 L360.9,404.8 L362.6,404.2 L364.2,403.6 L365.9,402.9 L367.5,402.2 L369.2,401.0 L370.8,400.2 L372.5,398.9 L374.1,398.4 L375.8,397.0 L377.4,396.0 L379.0,394.7 L380.7,393.6 L382.3,392.5 L384.0,391.8 L385.6,391.1 L387.3,390.9 L388.9,390.4 L390.6,390.5 L392.2,390.3 L393.9,390.2 L395.5,389.8 L397.1,389.4 L398.8,389.0 L400.4,388.4 L402.1,387.5 L403.7,386.5 L405.4,385.5 L407.0,384.6 L408.7,383.5 L410.3,382.1 L412.0,380.6 L413.6,379.2 L415.2,378.1 L416.9,376.9 L418.5,376.1 L420.2,375.4 L421.8,374.5 L423.5,373.7 L425.1,372.7 L426.8,372.4 L428.4,371.5 L430.1,371.2 L431.7,370.8 L433.3,370.8 L435.0,370.8 L436.6,370.9 L438.3,370.4 L439.9,369.6 L441.6,368.5 L443.2,367.5 L444.9,366.5 L446.5,365.4 L448.2,364.3 L449.8,362.8 L451.4,361.3 L453.1,359.6 L454.7,357.5 L456.4,355.9 L458.0,353.9 L459.7,352.4 L461.3,350.4 L463.0,349.0 L464.6,347.8 L466.3,346.7 L467.9,345.7 L469.5,344.8 L471.2,344.1 L472.8,343.5 L474.5,343.0 L476.1,342.9 L477.8,342.7 L479.4,342.8 L481.1,342.5 L482.7,342.4 L484.4,342.1 L486.0,342.1 L487.6,341.9 L489.3,341.8 L490.9,341.2 L492.6,340.5 L494.2,339.7 L495.9,339.3 L497.5,338.8 L499.2,338.7 L500.8,338.3 L502.5,337.7 L504.1,336.8 L505.7,335.8 L507.4,335.1 L509.0,334.0 L510.7,332.9 L512.3,331.9 L514.0,330.6 L515.6,329.4 L517.3,328.1 L518.9,327.2 L520.6,326.3 L522.2,324.8 L523.8,324.0 L525.5,322.9 L527.1,322.0 L528.8,320.7 L530.4,319.1 L532.1,318.2 L533.7,317.0 L535.4,316.1 L537.0,314.7 L538.7,313.3 L540.3,312.2 L541.9,311.0 L543.6,310.2 L545.2,309.3 L546.9,308.6 L548.5,307.7 L550.2,307.0 L551.8,306.4 L553.5,305.7 L555.1,305.2 L556.8,304.5 L558.4,304.1 L560.0,303.3 L561.7,302.9 L563.3,301.8 L565.0,301.2 L566.6,300.3 L568.3,300.3 L569.9,300.4 L571.6,300.0 L573.2,299.7 L574.9,299.3 L576.5,299.4 L578.1,299.1 L579.8,299.2 L581.4,298.9 L583.1,299.3 L584.7,299.2 L586.4,299.1 L588.0,298.9 L589.7,298.9 L591.3,298.8 L593.0,298.6 L594.6,298.3 L596.2,298.7 L597.9,298.4 L599.5,298.4 L601.2,298.1 L602.8,298.2 L604.5,297.9 L606.1,297.5 L607.8,297.1 L609.4,296.8 L611.1,296.4 L612.7,295.8 L614.3,295.6 L616.0,295.0 L617.6,294.4 L619.3,293.7 L620.9,293.6 L622.6,293.0 L624.2,292.4 L625.9,291.5 L627.5,290.7 L629.2,290.2 L630.8,288.9 L632.4,288.4 L634.1,287.0 L635.7,286.4 L637.4,285.6 L639.0,284.8 L640.7,283.7 L642.3,282.3 L644.0,281.1 L645.6,280.1 L647.3,279.0 L648.9,277.8 L650.5,276.5 L652.2,275.5 L653.8,274.5 L655.5,273.0 L657.1,271.4 L658.8,270.1 L660.4,269.1 L662.1,267.6 L663.7,266.4 L665.4,264.8 L667.0,263.7 L668.6,262.4 L670.3,261.0 L671.9,259.6 L673.6,257.7 L675.2,256.0 L676.9,254.7 L678.5,253.4 L680.2,252.3 L681.8,251.1 L683.5,250.1 L685.1,248.8 L686.7,247.6 L688.4,246.3 L690.0,245.4 L691.7,244.3 L693.3,243.3 L695.0,242.0 L696.6,240.8 L698.3,239.7 L699.9,239.1 L701.6,238.4 L703.2,237.7 L704.8,236.7 L706.5,235.7 L708.1,234.3 L709.8,233.4 L711.4,233.0 L713.1,232.6 L714.7,232.3 L716.4,231.7 L718.0,230.9 L719.7,229.9 L721.3,229.5 L722.9,229.5 L724.6,229.0 L726.2,228.3 L727.9,227.7 L729.5,227.4 L731.2,227.1 L732.8,227.0 L734.5,226.6 L736.1,226.3 L737.8,225.9 L739.4,226.0 L741.0,225.6 L742.7,225.4 L744.3,224.8 L746.0,224.7 L747.6,224.3 L749.3,224.3 L750.9,224.2 L752.6,224.6 L754.2,224.6 L755.9,224.3 L757.5,223.4 L759.1,223.4 L760.8,223.6 L762.4,224.0 L764.1,223.7 L765.7,223.6 L767.4,223.6 L769.0,224.0 L770.7,223.9 L772.3,223.7 L774.0,223.2 L775.6,223.1 L777.2,223.2 L778.9,223.3 L780.5,223.0 L782.2,222.8 L783.8,222.9 L785.5,222.9 L787.1,222.6 L788.8,222.5 L790.4,222.6 L792.1,222.5 L793.7,222.1 L795.3,221.5 L797.0,221.4 L798.6,221.3 L800.3,221.3 L801.9,221.2 L803.6,221.0 L805.2,220.7 L806.9,220.3 L808.5,219.6 L810.2,219.4 L811.8,219.0 L813.4,218.9 L815.1,218.1 L816.7,217.7 L818.4,217.2 L820.0,216.9 L821.7,216.5 L823.3,216.1 L825.0,215.5 L826.6,214.9 L828.3,214.1 L829.9,213.6 L831.5,213.1 L833.2,212.8 L834.8,212.6 L836.5,212.1 L838.1,211.5 L839.8,210.6 L841.4,210.1 L843.1,209.6 L844.7,209.3 L846.4,208.5 L848.0,207.5 L849.6,206.7 L851.3,206.0 L852.9,205.3 L854.6,204.7 L856.2,204.1 L857.9,203.7 L859.5,202.6 L861.2,201.7 L862.8,200.8 L864.5,200.5 L866.1,199.7 L867.7,198.7 L869.4,197.6 L871.0,196.8 L872.7,195.9 L874.3,195.2 L876.0,194.2 L877.6,193.3 L879.3,192.3 L880.9,191.5 L882.6,190.6 L884.2,189.5 L885.8,188.5 L887.5,187.5 L889.1,186.4 L890.8,185.5 L892.4,184.7 L894.1,183.6 L895.7,182.2 L897.4,180.8 L899.0,180.0 L900.7,178.9 L902.3,178.0 L903.9,176.7 L905.6,175.8 L907.2,174.7 L908.9,173.3 L910.5,172.4 L912.2,171.3 L913.8,170.5 L915.5,169.2 L917.1,168.0 L918.8,166.7 L920.4,165.7 L922.0,164.8 L923.7,163.8 L925.3,162.7 L927.0,161.3 L928.6,160.2 L930.3,158.8 L931.9,157.7 L933.6,156.3 L935.2,155.1 L936.9,154.1 L938.5,153.2" stroke="rgb(26, 28, 57)" />
<path d="M116.6,510.3 L117.4,510.0 L119.1,509.4 L120.7,508.8 L122.4,508.1 L124.0,507.5 L125.6,506.8 L127.3,506.2 L128.9,505.6 L130.6,505.0 L132.2,504.4 L133.9,503.7 L135.5,503.1 L137.2,502.3 L138.8,501.8 L140.5,501.2 L142.1,500.7 L143.7,499.9 L145.4,499.3 L147.0,498.6 L148.7,497.9 L150.3,497.2 L152.0,496.6 L153.6,496.2 L155.3,495.6 L156.9,495.2 L158.6,494.4 L160.2,493.7 L161.8,493.0 L163.5,492.2 L165.1,491.6 L166.8,490.9 L168.4,490.4 L170.1,490.0 L171.7,489.3 L173.4,488.3 L175.0,487.6 L176.7,486.8 L178.3,486.6 L179.9,485.7 L181.6,485.0 L183.2,484.3 L184.9,484.1 L186.5,483.6 L188.2,482.7 L189.8,481.8 L191.5,481.0 L193.1,480.6 L194.8,480.2 L196.4,479.6 L198.0,478.8 L199.7,477.9 L201.3,477.4 L203.0,476.7 L204.6,476.1 L206.3,475.3 L207.9,474.7 L209.6,474.3 L211.2,473.7 L212.9,473.2 L214.5,472.2 L216.1,471.5 L217.8,470.8 L219.4,469.9 L221.1,469.1 L222.7,468.4 L224.4,468.0 L226.0,467.6 L227.7,466.9 L229.3,465.9 L231.0,465.2 L232.6,464.8 L234.2,464.0 L235.9,463.1 L237.5,462.3 L239.2,461.9 L240.8,461.3 L242.5,460.7 L244.1,459.8 L245.8,459.4 L247.4,458.9 L249.1,458.5 L250.7,457.1 L252.3,456.0 L254.0,454.8 L255.6,454.4 L257.3,454.1 L258.9,453.5 L260.6,452.9 L262.2,451.9 L263.9,451.5 L265.5,451.1 L267.2,450.5 L268.8,449.3 L270.4,448.4 L272.1,447.3 L273.7,446.4 L275.4,446.0 L277.0,446.0 L278.7,445.9 L280.3,445.0 L282.0,444.2 L283.6,443.2 L285.3,442.2 L286.9,441.2 L288.5,440.7 L290.2,440.5 L291.8,440.0 L293.5,439.3 L295.1,438.3 L296.8,437.4 L298.4,436.4 L300.1,435.9 L301.7,435.1 L303.4,434.4 L305.0,433.9 L306.6,433.8 L308.3,433.1 L309.9,432.4 L311.6,431.7 L313.2,431.0 L314.9,429.9 L316.5,428.4 L318.2,427.4 L319.8,426.8 L321.5,426.5 L323.1,426.8 L324.7,426.6 L326.4,426.0 L328.0,424.8 L329.7,423.9 L331.3,423.1 L333.0,422.1 L334.6,421.2 L336.3,420.4 L337.9,419.7 L339.6,418.6 L341.2,417.8 L342.8,417.7 L344.5,417.6 L346.1,417.5 L347.8,416.6 L349.4,416.0 L351.1,415.0 L352.7,414.1 L354.4,413.2 L356.0,412.1 L357.7,410.9 L359.3,409.6 L360.9,408.5 L362.6,407.9 L364.2,406.9 L365.9,406.4 L367.5,406.0 L369.2,405.7 L370.8,405.7 L372.5,405.5 L374.1,405.2 L375.8,404.6 L377.4,404.0 L379.0,403.4 L380.7,403.0 L382.3,402.0 L384.0,400.9 L385.6,399.4 L387.3,398.2 L388.9,397.3 L390.6,396.4 L392.2,395.4 L393.9,394.5 L395.5,393.7 L397.1,392.7 L398.8,392.0 L400.4,390.9 L402.1,390.9 L403.7,390.4 L405.4,390.8 L407.0,390.4 L408.7,390.5 L410.3,390.0 L412.0,389.7 L413.6,389.1 L415.2,388.5 L416.9,387.5 L418.5,386.7 L420.2,385.7 L421.8,384.9 L423.5,383.7 L425.1,382.3 L426.8,381.5 L428.4,380.4 L430.1,379.8 L431.7,378.3 L433.3,377.1 L435.0,375.1 L436.6,374.0 L438.3,372.8 L439.9,372.5 L441.6,371.9 L443.2,371.6 L444.9,371.1 L446.5,370.6 L448.2,370.4 L449.8,370.4 L451.4,370.6 L453.1,370.7 L454.7,370.5 L456.4,369.8 L458.0,369.3 L459.7,368.7 L461.3,368.0 L463.0,366.9 L464.6,365.6 L466.3,364.2 L467.9,362.7 L469.5,361.5 L471.2,360.0 L472.8,358.2 L474.5,356.5 L476.1,354.5 L477.8,353.0 L479.4,351.2 L481.1,349.7 L482.7,348.3 L484.4,347.1 L486.0,346.2 L487.6,345.2 L489.3,343.9 L490.9,343.5 L492.6,343.1 L494.2,343.3 L495.9,342.6 L497.5,342.6 L499.2,342.9 L500.8,342.7 L502.5,342.7 L504.1,342.1 L505.7,342.4 L507.4,342.1 L509.0,341.9 L510.7,341.2 L512.3,340.5 L514.0,340.0 L515.6,339.6 L517.3,339.3 L518.9,338.6 L520.6,338.0 L522.2,337.2 L523.8,336.6 L525.5,335.9 L527.1,335.2 L528.8,334.3 L530.4,333.5 L532.1,332.3 L533.7,331.5 L535.4,330.2 L537.0,329.5 L538.7,328.2 L540.3,327.6 L541.9,326.2 L543.6,325.4 L545.2,324.1 L546.9,323.3 L548.5,321.8 L550.2,320.4 L551.8,319.5 L553.5,318.8 L555.1,317.6 L556.8,316.5 L558.4,315.4 L560.0,314.7 L561.7,313.1 L563.3,312.1 L565.0,310.9 L566.6,310.4 L568.3,309.6 L569.9,308.8 L571.6,307.7 L573.2,307.1 L574.9,306.4 L576.5,305.7 L578.1,304.8 L579.8,304.3 L581.4,303.8 L583.1,303.2 L584.7,302.8 L586.4,302.5 L588.0,302.0 L589.7,301.7 L591.3,301.2 L593.0,301.1 L594.6,300.5 L596.2,300.3 L597.9,299.9 L599.5,299.6 L601.2,299.1 L602.8,298.5 L604.5,298.8 L606.1,298.8 L607.8,298.9 L609.4,298.6 L611.1,298.9 L612.7,298.9 L614.3,298.7 L616.0,298.4 L617.6,298.4 L619.3,298.7 L620.9,298.8 L622.6,298.5 L624.2,297.9 L625.9,297.9 L627.5,297.8 L629.2,297.9 L630.8,297.7 L632.4,297.3 L634.1,296.9 L635.7,296.7 L637.4,296.6 L639.0,296.1 L640.7,295.4 L642.3,294.7 L644.0,294.5 L645.6,294.1 L647.3,293.6 L648.9,293.0 L650.5,292.5 L652.2,292.0 L653.8,291.0 L655.5,290.3 L657.1,289.4 L658.8,288.6 L660.4,287.8 L662.1,287.1 L663.7,286.3 L665.4,285.2 L667.0,284.1 L668.6,283.3 L670.3,282.6 L671.9,281.5 L673.6,280.1 L675.2,278.7 L676.9,277.7 L678.5,276.3 L680.2,275.4 L681.8,274.0 L683.5,273.2 L685.1,271.6 L686.7,270.3 L688.4,269.1 L690.0,267.9 L691.7,266.8 L693.3,265.4 L695.0,264.1 L696.6,262.9 L698.3,261.7 L699.9,260.3 L701.6,258.7 L703.2,257.3 L704.8,256.4 L706.5,254.9 L708.1,253.4 L709.8,251.8 L711.4,251.2 L713.1,250.2 L714.7,249.1 L716.4,247.9 L718.0,246.4 L719.7,245.3 L721.3,244.0 L722.9,243.4 L724.6,242.6 L726.2,241.8 L727.9,240.6 L729.5,239.6 L731.2,238.6 L732.8,237.7 L734.5,236.8 L736.1,235.7 L737.8,235.0 L739.4,234.5 L741.0,234.0 L742.7,233.0 L744.3,232.3 L746.0,231.7 L747.6,231.4 L749.3,230.7 L750.9,230.1 L752.6,229.6 L754.2,229.3 L755.9,228.7 L757.5,228.0 L759.1,227.4 L760.8,227.0 L762.4,226.9 L764.1,226.7 L765.7,226.4 L767.4,226.2 L769.0,225.9 L770.7,226.1 L772.3,225.8 L774.0,225.6 L775.6,225.3 L777.2,225.0 L778.9,224.8 L780.5,224.5 L782.2,224.5 L783.8,224.4 L785.5,224.0 L787.1,224.0 L788.8,223.7 L790.4,224.1 L792.1,224.0 L793.7,224.0 L795.3,223.8 L797.0,223.8 L798.6,223.7 L800.3,223.4 L801.9,223.3 L803.6,223.4 L805.2,223.7 L806.9,223.2 L808.5,222.9 L810.2,222.7 L811.8,222.9 L813.4,223.2 L815.1,223.2 L816.7,223.2 L818.4,222.9 L820.0,222.9 L821.7,222.9 L823.3,222.7 L825.0,222.4 L826.6,222.4 L828.3,222.3 L829.9,221.9 L831.5,221.5 L833.2,221.2 L834.8,221.4 L836.5,221.0 L838.1,220.9 L839.8,220.6 L841.4,220.5 L843.1,219.6 L844.7,219.2 L846.4,219.1 L848.0,219.0 L849.6,218.5 L851.3,217.7 L852.9,217.6 L854.6,217.5 L856.2,217.4 L857.9,216.7 L859.5,216.0 L861.2,215.3 L862.8,215.2 L864.5,214.9 L866.1,214.6 L867.7,213.7 L869.4,213.0 L871.0,212.5 L872.7,212.3 L874.3,211.7 L876.0,210.9 L877.6,209.7 L879.3,209.3 L880.9,208.6 L882.6,208.6 L884.2,208.0 L885.8,207.7 L887.5,206.9 L889.1,206.3 L890.8,205.6 L892.4,204.8 L894.1,204.0 L895.7,203.1 L897.4,202.4 L899.0,201.6 L900.7,200.7 L902.3,199.8 L903.9,199.0 L905.6,198.4 L907.2,197.7 L908.9,196.8 L910.5,196.1 L912.2,195.0 L913.8,194.0 L915.5,192.8 L917.1,192.2 L918.8,191.8 L920.4,191.1 L922.0,190.1 L923.7,188.8 L925.3,187.8 L927.0,186.9 L928.6,185.9 L930.3,185.0 L931.9,183.8 L933.6,182.9 L935.2,182.0 L936.9,181.1 L938.5,180.2" stroke="rgb(32, 29, 72)" />
<path d="M116.6,510.3 L117.4,510.0 L119.1,509.4 L120.7,508.9 L122.4,508.3 L124.0,507.6 L125.6,507.0 L127.3,506.4 L128.9,505.9 L130.6,505.3 L132.2,504.7 L133.9,504.2 L135.5,503.5 L137.2,502.9 L138.8,502.2 L140.5,501.7 L142.1,501.0 L143.7,500.3 L145.4,499.7 L147.0,499.1 L148.7,498.5 L150.3,497.8 L152.0,497.1 L153.6,496.9 L155.3,496.2 L156.9,495.7 L158.6,495.0 L160.2,494.5 L161.8,493.8 L163.5,492.8 L165.1,492.1 L166.8,491.6 L168.4,491.3 L170.1,490.9 L171.7,490.2 L173.4,489.5 L175.0,488.9 L176.7,488.2 L178.3,487.6 L179.9,486.8 L181.6,485.9 L183.2,485.0 L184.9,484.6 L186.5,484.5 L188.2,484.4 L189.8,483.8 L191.5,483.0 L193.1,482.3 L194.8,481.7 L196.4,481.2 L198.0,480.2 L199.7,479.5 L201.3,478.9 L203.0,478.3 L204.6,477.5 L206.3,476.7 L207.9,476.1 L209.6,475.7 L211.2,475.1 L212.9,474.8 L214.5,473.8 L216.1,473.0 L217.8,472.5 L219.4,471.8 L221.1,471.5 L222.7,470.5 L224.4,470.0 L226.0,469.3 L227.7,469.1 L229.3,468.5 L231.0,467.7 L232.6,467.1 L234.2,466.3 L235.9,465.8 L237.5,465.0 L239.2,464.6 L240.8,464.0 L242.5,463.2 L244.1,462.7 L245.8,462.3 L247.4,461.9 L249.1,461.0 L250.7,459.7 L252.3,459.0 L254.0,458.2 L255.6,457.5 L257.3,456.5 L258.9,455.8 L260.6,455.3 L262.2,455.0 L263.9,454.6 L265.5,453.8 L267.2,452.9 L268.8,452.3 L270.4,452.0 L272.1,451.3 L273.7,450.8 L275.4,450.2 L277.0,449.5 L278.7,448.6 L280.3,447.6 L282.0,446.8 L283.6,446.2 L285.3,446.1 L286.9,445.7 L288.5,445.1 L290.2,443.9 L291.8,442.7 L293.5,442.3 L295.1,441.7 L296.8,441.3 L298.4,440.5 L300.1,439.7 L301.7,439.4 L303.4,438.8 L305.0,438.4 L306.6,437.2 L308.3,436.5 L309.9,435.4 L311.6,434.7 L313.2,434.0 L314.9,434.3 L316.5,434.1 L318.2,433.5 L319.8,432.6 L321.5,431.6 L323.1,430.8 L324.7,429.5 L326.4,428.5 L328.0,427.6 L329.7,427.2 L331.3,426.8 L333.0,426.6 L334.6,426.2 L336.3,425.8 L337.9,425.0 L339.6,424.6 L341.2,423.5 L342.8,422.8 L344.5,421.3 L346.1,420.4 L347.8,419.3 L349.4,418.4 L351.1,417.8 L352.7,417.4 L354.4,417.3 L356.0,417.0 L357.7,417.1 L359.3,416.8 L360.9,416.3 L362.6,415.6 L364.2,414.8 L365.9,414.1 L367.5,412.8 L369.2,411.6 L370.8,410.0 L372.5,409.3 L374.1,408.6 L375.8,408.0 L377.4,407.3 L379.0,406.5 L380.7,406.2 L382.3,405.6 L384.0,405.4 L385.6,405.2 L387.3,404.7 L388.9,404.3 L390.6,404.0 L392.2,403.6 L393.9,403.2 L395.5,402.2 L397.1,401.6 L398.8,400.5 L400.4,399.2 L402.1,398.0 L403.7,396.8 L405.4,396.0 L407.0,395.0 L408.7,393.7 L410.3,392.9 L412.0,392.3 L413.6,391.9 L415.2,391.5 L416.9,390.9 L418.5,390.6 L420.2,390.2 L421.8,390.2 L423.5,390.3 L425.1,390.3 L426.8,390.0 L428.4,389.4 L430.1,388.5 L431.7,387.6 L433.3,387.0 L435.0,386.5 L436.6,385.6 L438.3,384.8 L439.9,383.7 L441.6,382.7 L443.2,381.4 L444.9,380.3 L446.5,379.1 L448.2,378.0 L449.8,376.9 L451.4,376.1 L453.1,374.9 L454.7,374.1 L456.4,373.1 L458.0,372.5 L459.7,371.8 L461.3,371.5 L463.0,371.2 L464.6,371.1 L466.3,370.7 L467.9,370.4 L469.5,370.2 L471.2,370.1 L472.8,370.0 L474.5,369.5 L476.1,369.1 L477.8,368.4 L479.4,367.6 L481.1,366.9 L482.7,365.5 L484.4,364.5 L486.0,362.8 L487.6,361.1 L489.3,359.3 L490.9,357.8 L492.6,356.3 L494.2,354.8 L495.9,353.3 L497.5,351.9 L499.2,350.3 L500.8,348.7 L502.5,347.6 L504.1,346.5 L505.7,345.6 L507.4,344.5 L509.0,344.0 L510.7,343.4 L512.3,343.3 L514.0,342.7 L515.6,342.5 L517.3,342.6 L518.9,342.6 L520.6,342.7 L522.2,342.2 L523.8,342.2 L525.5,342.1 L527.1,342.1 L528.8,341.7 L530.4,341.2 L532.1,340.8 L533.7,340.5 L535.4,340.2 L537.0,339.7 L538.7,339.0 L540.3,338.3 L541.9,337.7 L543.6,337.3 L545.2,337.0 L546.9,336.2 L548.5,335.0 L550.2,334.0 L551.8,333.3 L553.5,332.6 L555.1,331.3 L556.8,330.2 L558.4,329.1 L560.0,328.2 L561.7,327.3 L563.3,326.4 L565.0,325.4 L566.6,324.2 L568.3,323.1 L569.9,321.8 L571.6,321.0 L573.2,319.9 L574.9,319.1 L576.5,318.0 L578.1,317.5 L579.8,316.5 L581.4,315.4 L583.1,314.1 L584.7,312.9 L586.4,312.4 L588.0,311.2 L589.7,310.2 L591.3,309.1 L593.0,308.5 L594.6,307.7 L596.2,306.7 L597.9,306.1 L599.5,305.7 L601.2,305.3 L602.8,304.5 L604.5,303.6 L606.1,303.1 L607.8,302.7 L609.4,302.3 L611.1,301.7 L612.7,301.7 L614.3,301.4 L616.0,301.1 L617.6,300.6 L619.3,300.1 L620.9,299.6 L622.6,299.4 L624.2,299.2 L625.9,299.5 L627.5,299.4 L629.2,299.3 L630.8,299.3 L632.4,299.5 L634.1,299.2 L635.7,299.0 L637.4,298.5 L639.0,298.6 L640.7,298.6 L642.3,298.6 L644.0,298.4 L645.6,298.5 L647.3,298.4 L648.9,298.5 L650.5,298.1 L652.2,297.7 L653.8,297.4 L655.5,296.9 L657.1,297.2 L658.8,296.8 L660.4,296.8 L662.1,296.4 L663.7,296.3 L665.4,296.0 L667.0,295.7 L668.6,295.4 L670.3,294.9 L671.9,294.4 L673.6,293.7 L675.2,293.1 L676.9,292.8 L678.5,292.1 L680.2,291.4 L681.8,290.5 L683.5,289.8 L685.1,288.7 L686.7,288.1 L688.4,287.5 L690.0,287.0 L691.7,286.0 L693.3,284.8 L695.0,284.1 L696.6,283.0 L698.3,282.0 L699.9,280.7 L701.6,280.1 L703.2,279.0 L704.8,277.9 L706.5,276.3 L708.1,275.3 L709.8,274.3 L711.4,273.3 L713.1,272.2 L714.7,270.7 L716.4,269.7 L718.0,268.3 L719.7,267.2 L721.3,265.7 L722.9,264.5 L724.6,263.4 L726.2,262.1 L727.9,260.9 L729.5,259.5 L731.2,258.3 L732.8,257.3 L734.5,256.1 L736.1,254.6 L737.8,253.0 L739.4,251.8 L741.0,250.7 L742.7,249.7 L744.3,248.9 L746.0,247.7 L747.6,246.4 L749.3,245.1 L750.9,244.1 L752.6,243.2 L754.2,242.3 L755.9,241.4 L757.5,240.5 L759.1,239.6 L760.8,238.9 L762.4,238.1 L764.1,237.3 L765.7,236.4 L767.4,235.9 L769.0,235.3 L770.7,234.9 L772.3,233.5 L774.0,232.8 L775.6,231.7 L777.2,231.5 L778.9,231.3 L780.5,230.9 L782.2,230.3 L783.8,229.7 L785.5,229.2 L787.1,228.7 L788.8,228.0 L790.4,227.8 L792.1,227.9 L793.7,227.7 L795.3,227.3 L797.0,226.6 L798.6,226.0 L800.3,225.4 L801.9,225.2 L803.6,225.0 L805.2,224.8 L806.9,224.6 L808.5,224.6 L810.2,224.5 L811.8,224.4 L813.4,224.4 L815.1,224.5 L816.7,224.4 L818.4,224.3 L820.0,224.0 L821.7,223.9 L823.3,223.5 L825.0,223.4 L826.6,223.5 L828.3,223.5 L829.9,223.7 L831.5,223.3 L833.2,223.4 L834.8,223.3 L836.5,223.4 L838.1,223.6 L839.8,223.5 L841.4,223.5 L843.1,223.4 L844.7,223.3 L846.4,223.5 L848.0,223.3 L849.6,223.4 L851.3,223.0 L852.9,222.9 L854.6,222.5 L856.2,222.6 L857.9,222.0 L859.5,222.0 L861.2,221.7 L862.8,222.1 L864.5,221.7 L866.1,221.6 L867.7,221.1 L869.4,221.2 L871.0,220.8 L872.7,220.8 L874.3,220.2 L876.0,220.1 L877.6,219.9 L879.3,219.6 L880.9,219.5 L882.6,219.2 L884.2,218.8 L885.8,218.5 L887.5,217.9 L889.1,217.7 L890.8,217.2 L892.4,216.9 L894.1,216.3 L895.7,215.8 L897.4,215.5 L899.0,215.0 L900.7,214.3 L902.3,213.8 L903.9,213.6 L905.6,213.4 L907.2,212.9 L908.9,212.2 L910.5,211.4 L912.2,210.7 L913.8,210.1 L915.5,209.6 L917.1,209.2 L918.8,208.8 L920.4,207.9 L922.0,207.5 L923.7,206.8 L925.3,206.4 L927.0,205.4 L928.6,204.4 L930.3,203.6 L931.9,202.8 L933.6,202.6 L935.2,202.0 L936.9,201.4 L938.5,200.5" stroke="rgb(38, 30, 88)" />
<path d="M116.6,510.3 L117.4,510.0 L119.1,509.4 L120.7,508.9 L122.4,508.3 L124.0,507.7 L125.6,507.1 L127.3,506.6 L128.9,506.0 L130.6,505.4 L132.2,504.8 L133.9,504.3 L135.5,503.7 L137.2,503.2 L138.8,502.6 L140.5,502.1 L142.1,501.5 L143.7,501.0 L145.4,500.4 L147.0,499.8 L148.7,499.2 L150.3,498.6 L152.0,498.0 L153.6,497.5 L155.3,496.8 L156.9,496.2 L158.6,495.6 L160.2,495.2 L161.8,494.8 L163.5,494.2 L165.1,493.7 L166.8,492.7 L168.4,492.0 L170.1,491.4 L171.7,491.0 L173.4,490.5 L175.0,489.8 L176.7,489.2 L178.3,488.5 L179.9,488.0 L181.6,487.5 L183.2,487.0 L184.9,486.5 L186.5,485.8 L188.2,485.3 L189.8,484.6 L191.5,484.2 L193.1,483.5 L194.8,482.7 L196.4,481.9 L198.0,481.5 L199.7,480.9 L201.3,480.4 L203.0,479.6 L204.6,478.9 L206.3,478.5 L207.9,478.0 L209.6,477.6 L211.2,477.0 L212.9,476.1 L214.5,475.3 L216.1,474.8 L217.8,474.5 L219.4,474.1 L221.1,473.0 L222.7,472.5 L224.4,471.8 L226.0,471.3 L227.7,470.7 L229.3,470.0 L231.0,469.4 L232.6,469.0 L234.2,468.3 L235.9,467.8 L237.5,467.1 L239.2,466.7 L240.8,466.0 L242.5,465.2 L244.1,464.7 L245.8,464.2 L247.4,463.8 L249.1,462.8 L250.7,462.2 L252.3,461.5 L254.0,461.0 L255.6,460.5 L257.3,459.7 L258.9,459.2 L260.6,458.5 L262.2,458.1 L263.9,457.2 L265.5,456.3 L267.2,455.3 L268.8,454.8 L270.4,454.6 L272.1,454.4 L273.7,453.6 L275.4,452.5 L277.0,451.6 L278.7,451.1 L280.3,450.9 L282.0,450.5 L283.6,449.8 L285.3,449.2 L286.9,448.8 L288.5,448.1 L290.2,447.2 L291.8,446.2 L293.5,446.2 L295.1,445.9 L296.8,445.5 L298.4,444.1 L300.1,443.2 L301.7,442.3 L303.4,441.7 L305.0,441.3 L306.6,440.6 L308.3,440.5 L309.9,440.0 L311.6,439.4 L313.2,438.8 L314.9,437.5 L316.5,436.7 L318.2,435.8 L319.8,435.6 L321.5,434.8 L323.1,434.0 L324.7,433.8 L326.4,433.4 L328.0,433.0 L329.7,432.1 L331.3,431.5 L333.0,430.7 L334.6,429.5 L336.3,428.6 L337.9,428.0 L339.6,427.2 L341.2,426.6 L342.8,426.2 L344.5,426.4 L346.1,426.4 L347.8,425.7 L349.4,425.0 L351.1,424.1 L352.7,423.3 L354.4,422.5 L356.0,421.4 L357.7,420.4 L359.3,419.0 L360.9,418.4 L362.6,417.6 L364.2,417.4 L365.9,417.0 L367.5,416.8 L369.2,416.7 L370.8,416.4 L372.5,416.3 L374.1,415.6 L375.8,415.0 L377.4,413.9 L379.0,413.0 L380.7,411.9 L382.3,410.9 L384.0,409.7 L385.6,408.5 L387.3,407.8 L388.9,406.9 L390.6,406.1 L392.2,405.7 L393.9,405.6 L395.5,405.5 L397.1,405.3 L398.8,405.4 L400.4,405.1 L402.1,404.7 L403.7,404.1 L405.4,403.5 L407.0,403.0 L408.7,402.2 L410.3,401.6 L412.0,400.6 L413.6,399.6 L415.2,398.4 L416.9,397.3 L418.5,396.0 L420.2,395.2 L421.8,394.1 L423.5,393.7 L425.1,392.8 L426.8,392.3 L428.4,391.3 L430.1,390.7 L431.7,390.2 L433.3,389.9 L435.0,389.7 L436.6,389.6 L438.3,389.9 L439.9,390.1 L441.6,389.9 L443.2,389.5 L444.9,388.9 L446.5,388.4 L448.2,387.9 L449.8,386.9 L451.4,386.1 L453.1,385.1 L454.7,384.2 L456.4,383.2 L458.0,381.9 L459.7,380.7 L461.3,379.3 L463.0,378.5 L464.6,377.7 L466.3,376.9 L467.9,375.5 L469.5,374.6 L471.2,373.6 L472.8,373.2 L474.5,372.5 L476.1,371.6 L477.8,371.3 L479.4,371.1 L481.1,371.3 L482.7,370.8 L484.4,370.6 L486.0,369.9 L487.6,370.0 L489.3,369.8 L490.9,370.0 L492.6,369.4 L494.2,369.0 L495.9,368.1 L497.5,367.4 L499.2,366.2 L500.8,365.3 L502.5,364.0 L504.1,362.3 L505.7,360.7 L507.4,359.3 L509.0,357.7 L510.7,356.1 L512.3,354.6 L514.0,353.5 L515.6,351.9 L517.3,350.5 L518.9,349.0 L520.6,347.9 L522.2,347.0 L523.8,346.2 L525.5,345.5 L527.1,344.4 L528.8,343.8 L530.4,343.3 L532.1,343.0 L533.7,342.6 L535.4,342.5 L537.0,342.7 L538.7,342.6 L540.3,342.4 L541.9,342.3 L543.6,342.2 L545.2,342.0 L546.9,341.5 L548.5,341.4 L550.2,340.9 L551.8,340.7 L553.5,340.3 L555.1,339.9 L556.8,339.4 L558.4,338.9 L560.0,338.2 L561.7,338.0 L563.3,337.3 L565.0,337.0 L566.6,336.0 L568.3,335.1 L569.9,334.3 L571.6,333.4 L573.2,332.6 L574.9,331.5 L576.5,330.4 L578.1,329.6 L579.8,329.3 L581.4,328.8 L583.1,328.1 L584.7,326.7 L586.4,325.6 L588.0,324.6 L589.7,323.8 L591.3,322.8 L593.0,321.6 L594.6,320.8 L596.2,319.6 L597.9,318.6 L599.5,317.1 L601.2,316.3 L602.8,315.5 L604.5,314.5 L606.1,313.5 L607.8,312.2 L609.4,311.3 L611.1,310.6 L612.7,310.1 L614.3,309.1 L616.0,308.2 L617.6,307.4 L619.3,307.3 L620.9,306.8 L622.6,306.4 L624.2,305.2 L625.9,304.5 L627.5,303.7 L629.2,303.5 L630.8,302.6 L632.4,301.8 L634.1,301.6 L635.7,301.6 L637.4,301.6 L639.0,301.4 L640.7,301.0 L642.3,300.1 L644.0,299.4 L645.6,299.1 L647.3,299.4 L648.9,299.4 L650.5,299.1 L652.2,299.2 L653.8,299.4 L655.5,299.2 L657.1,298.8 L658.8,298.2 L660.4,298.5 L662.1,298.3 L663.7,298.6 L665.4,298.5 L667.0,298.5 L668.6,298.1 L670.3,298.2 L671.9,298.2 L673.6,298.4 L675.2,298.4 L676.9,298.3 L678.5,297.8 L680.2,297.2 L681.8,297.3 L683.5,297.1 L685.1,296.9 L686.7,296.5 L688.4,296.7 L690.0,296.3 L691.7,295.7 L693.3,294.9 L695.0,294.9 L696.6,294.8 L698.3,294.3 L699.9,293.4 L701.6,292.5 L703.2,292.2 L704.8,291.7 L706.5,291.2 L708.1,290.6 L709.8,290.1 L711.4,289.2 L713.1,288.5 L714.7,287.5 L716.4,286.6 L718.0,285.8 L719.7,284.8 L721.3,284.2 L722.9,283.1 L724.6,282.3 L726.2,280.9 L727.9,280.4 L729.5,279.3 L731.2,278.3 L732.8,276.7 L734.5,276.1 L736.1,275.3 L737.8,274.4 L739.4,273.0 L741.0,271.5 L742.7,270.4 L744.3,269.0 L746.0,267.9 L747.6,266.9 L749.3,266.0 L750.9,265.0 L752.6,263.5 L754.2,262.0 L755.9,260.7 L757.5,259.4 L759.1,258.6 L760.8,257.9 L762.4,256.9 L764.1,255.4 L765.7,253.8 L767.4,252.8 L769.0,251.7 L770.7,250.2 L772.3,249.0 L774.0,248.1 L775.6,247.5 L777.2,246.1 L778.9,245.0 L780.5,243.8 L782.2,242.9 L783.8,241.8 L785.5,241.1 L787.1,240.3 L788.8,239.5 L790.4,238.4 L792.1,237.6 L793.7,237.0 L795.3,236.4 L797.0,235.9 L798.6,235.0 L800.3,234.4 L801.9,233.6 L803.6,233.3 L805.2,232.6 L806.9,232.1 L808.5,231.4 L810.2,230.8 L811.8,230.3 L813.4,229.8 L815.1,229.8 L816.7,229.1 L818.4,228.8 L820.0,228.1 L821.7,228.0 L823.3,227.4 L825.0,227.2 L826.6,226.6 L828.3,226.3 L829.9,225.6 L831.5,225.3 L833.2,225.1 L834.8,225.4 L836.5,225.1 L838.1,224.8 L839.8,224.3 L841.4,224.2 L843.1,224.3 L844.7,224.4 L846.4,224.2 L848.0,223.9 L849.6,223.9 L851.3,223.8 L852.9,223.9 L854.6,223.5 L856.2,223.5 L857.9,223.3 L859.5,223.3 L861.2,223.1 L862.8,223.5 L864.5,223.5 L866.1,223.7 L867.7,223.6 L869.4,223.6 L871.0,223.8 L872.7,223.5 L874.3,223.3 L876.0,223.1 L877.6,223.0 L879.3,223.2 L880.9,222.9 L882.6,223.2 L884.2,223.0 L885.8,223.0 L887.5,222.5 L889.1,222.5 L890.8,222.2 L892.4,222.1 L894.1,221.9 L895.7,221.7 L897.4,221.5 L899.0,221.2 L900.7,221.2 L902.3,221.0 L903.9,221.0 L905.6,220.7 L907.2,220.3 L908.9,220.0 L910.5,219.7 L912.2,219.6 L913.8,219.4 L915.5,219.2 L917.1,218.7 L918.8,218.3 L920.4,218.3 L922.0,218.2 L923.7,217.8 L925.3,216.9 L927.0,216.5 L928.6,216.0 L930.3,216.1 L931.9,215.6 L933.6,215.3 L935.2,214.9 L936.9,214.5 L938.5,213.9" stroke="rgb(43, 32, 100)" />
<path d="M116.6,510.3 L117.4,510.0 L119.1,509.5 L120.7,508.9 L122.4,508.4 L124.0,507.9 L125.6,507.3 L127.3,506.8 L128.9,506.2 L130.6,505.7 L132.2,505.1 L133.9,504.5 L135.5,504.0 L137.2,503.5 L138.8,503.0 L140.5,502.4 L142.1,501.8 L143.7,501.3 L145.4,500.8 L147.0,500.2 L148.7,499.6 L150.3,499.0 L152.0,498.4 L153.6,497.9 L155.3,497.1 L156.9,496.6 L158.6,496.1 L160.2,495.8 L161.8,495.3 L163.5,494.8 L165.1,494.3 L166.8,493.8 L168.4,493.5 L170.1,493.0 L171.7,492.2 L173.4,491.2 L175.0,490.6 L176.7,490.1 L178.3,489.6 L179.9,488.9 L181.6,488.3 L183.2,487.8 L184.9,487.1 L186.5,486.6 L188.2,486.1 L189.8,486.1 L191.5,485.4 L193.1,484.8 L194.8,483.6 L196.4,483.2 L198.0,482.4 L199.7,482.0 L201.3,481.1 L203.0,480.9 L204.6,480.2 L206.3,479.9 L207.9,479.2 L209.6,478.9 L211.2,478.4 L212.9,477.8 L214.5,477.6 L216.1,476.9 L217.8,476.2 L219.4,475.5 L221.1,474.9 L222.7,474.0 L224.4,473.2 L226.0,472.7 L227.7,472.2 L229.3,471.8 L231.0,471.2 L232.6,471.0 L234.2,470.3 L235.9,469.5 L237.5,468.8 L239.2,468.4 L240.8,467.9 L242.5,467.3 L244.1,466.7 L245.8,466.2 L247.4,465.7 L249.1,465.1 L250.7,464.5 L252.3,464.1 L254.0,463.3 L255.6,462.6 L257.3,461.9 L258.9,461.7 L260.6,461.2 L262.2,460.4 L263.9,459.6 L265.5,458.9 L267.2,458.5 L268.8,457.9 L270.4,457.1 L272.1,456.2 L273.7,455.6 L275.4,455.0 L277.0,454.6 L278.7,454.4 L280.3,453.4 L282.0,452.5 L283.6,451.6 L285.3,451.3 L286.9,450.8 L288.5,450.3 L290.2,449.7 L291.8,449.0 L293.5,448.5 L295.1,447.7 L296.8,446.8 L298.4,446.3 L300.1,445.8 L301.7,445.9 L303.4,445.1 L305.0,444.5 L306.6,443.7 L308.3,443.1 L309.9,442.4 L311.6,441.6 L313.2,441.3 L314.9,440.8 L316.5,440.6 L318.2,440.1 L319.8,439.6 L321.5,438.9 L323.1,438.3 L324.7,437.4 L326.4,436.5 L328.0,435.5 L329.7,434.7 L331.3,434.1 L333.0,434.1 L334.6,434.0 L336.3,433.9 L337.9,433.1 L339.6,432.5 L341.2,431.6 L342.8,430.9 L344.5,430.1 L346.1,428.8 L347.8,427.8 L349.4,427.1 L351.1,426.7 L352.7,426.2 L354.4,425.9 L356.0,426.0 L357.7,425.9 L359.3,425.1 L360.9,424.3 L362.6,423.4 L364.2,423.0 L365.9,421.9 L367.5,421.1 L369.2,420.1 L370.8,419.4 L372.5,418.3 L374.1,417.7 L375.8,417.2 L377.4,417.1 L379.0,417.4 L380.7,417.1 L382.3,416.9 L384.0,416.3 L385.6,415.7 L387.3,414.9 L388.9,414.1 L390.6,413.5 L392.2,412.4 L393.9,411.5 L395.5,410.6 L397.1,409.5 L398.8,408.5 L400.4,407.8 L402.1,407.3 L403.7,406.5 L405.4,406.0 L407.0,405.4 L408.7,405.1 L410.3,404.5 L412.0,404.7 L413.6,404.5 L415.2,404.9 L416.9,404.5 L418.5,404.1 L420.2,403.2 L421.8,402.5 L423.5,401.7 L425.1,401.0 L426.8,400.1 L428.4,399.0 L430.1,397.8 L431.7,396.5 L433.3,395.4 L435.0,394.3 L436.6,393.8 L438.3,393.2 L439.9,392.7 L441.6,391.9 L443.2,391.2 L444.9,390.6 L446.5,390.2 L448.2,390.2 L449.8,390.0 L451.4,390.0 L453.1,389.9 L454.7,389.8 L456.4,389.4 L458.0,388.8 L459.7,388.5 L461.3,387.9 L463.0,387.6 L464.6,387.2 L466.3,386.5 L467.9,386.0 L469.5,384.8 L471.2,383.7 L472.8,382.2 L474.5,381.2 L476.1,380.1 L477.8,379.1 L479.4,377.8 L481.1,376.6 L482.7,375.5 L484.4,374.6 L486.0,374.0 L487.6,373.3 L489.3,372.8 L490.9,372.2 L492.6,371.6 L494.2,371.5 L495.9,371.2 L497.5,371.0 L499.2,370.6 L500.8,370.5 L502.5,370.6 L504.1,370.4 L505.7,370.1 L507.4,369.5 L509.0,369.1 L510.7,368.9 L512.3,368.5 L514.0,367.7 L515.6,366.6 L517.3,366.0 L518.9,364.9 L520.6,364.2 L522.2,362.4 L523.8,361.0 L525.5,359.1 L527.1,357.6 L528.8,356.0 L530.4,354.7 L532.1,353.3 L533.7,351.7 L535.4,350.2 L537.0,349.0 L538.7,348.1 L540.3,346.9 L541.9,346.0 L543.6,345.1 L545.2,344.7 L546.9,344.2 L548.5,343.6 L550.2,343.0 L551.8,342.5 L553.5,342.1 L555.1,342.0 L556.8,342.2 L558.4,342.3 L560.0,342.2 L561.7,341.6 L563.3,341.7 L565.0,342.0 L566.6,342.0 L568.3,341.6 L569.9,341.2 L571.6,340.9 L573.2,340.6 L574.9,340.4 L576.5,340.0 L578.1,339.4 L579.8,338.5 L581.4,337.8 L583.1,337.2 L584.7,336.7 L586.4,336.3 L588.0,336.0 L589.7,335.3 L591.3,334.3 L593.0,333.2 L594.6,332.0 L596.2,331.3 L597.9,330.9 L599.5,330.2 L601.2,329.1 L602.8,328.1 L604.5,327.5 L606.1,326.7 L607.8,325.5 L609.4,324.4 L611.1,323.5 L612.7,322.8 L614.3,321.8 L616.0,321.0 L617.6,319.8 L619.3,318.7 L620.9,317.7 L622.6,317.2 L624.2,315.9 L625.9,315.0 L627.5,313.7 L629.2,313.3 L630.8,312.2 L632.4,311.6 L634.1,310.6 L635.7,309.9 L637.4,308.7 L639.0,308.2 L640.7,307.6 L642.3,307.1 L644.0,305.9 L645.6,305.4 L647.3,304.8 L648.9,304.6 L650.5,303.8 L652.2,303.3 L653.8,302.7 L655.5,302.2 L657.1,301.9 L658.8,301.6 L660.4,301.3 L662.1,301.3 L663.7,301.0 L665.4,300.8 L667.0,300.3 L668.6,299.9 L670.3,299.5 L671.9,299.2 L673.6,299.0 L675.2,299.3 L676.9,299.2 L678.5,299.3 L680.2,298.8 L681.8,299.1 L683.5,298.9 L685.1,298.7 L686.7,298.4 L688.4,298.4 L690.0,298.5 L691.7,298.4 L693.3,298.1 L695.0,297.9 L696.6,297.9 L698.3,298.1 L699.9,298.1 L701.6,298.0 L703.2,297.9 L704.8,297.6 L706.5,297.6 L708.1,297.4 L709.8,297.2 L711.4,296.9 L713.1,296.6 L714.7,296.6 L716.4,296.1 L718.0,295.7 L719.7,295.0 L721.3,294.6 L722.9,294.2 L724.6,293.8 L726.2,293.0 L727.9,292.6 L729.5,291.8 L731.2,291.3 L732.8,290.7 L734.5,290.2 L736.1,290.0 L737.8,289.0 L739.4,288.4 L741.0,287.7 L742.7,286.9 L744.3,285.9 L746.0,285.0 L747.6,284.2 L749.3,283.4 L750.9,282.0 L752.6,281.0 L754.2,280.1 L755.9,279.6 L757.5,279.0 L759.1,277.9 L760.8,276.8 L762.4,275.5 L764.1,274.5 L765.7,273.6 L767.4,272.8 L769.0,271.4 L770.7,269.9 L772.3,268.7 L774.0,267.7 L775.6,266.8 L777.2,265.6 L778.9,264.7 L780.5,263.4 L782.2,262.3 L783.8,260.9 L785.5,260.2 L787.1,259.0 L788.8,257.6 L790.4,256.4 L792.1,255.1 L793.7,254.1 L795.3,252.8 L797.0,252.2 L798.6,251.0 L800.3,249.8 L801.9,248.4 L803.6,247.6 L805.2,246.8 L806.9,245.7 L808.5,244.9 L810.2,243.7 L811.8,243.2 L813.4,242.3 L815.1,241.8 L816.7,240.4 L818.4,239.7 L820.0,238.9 L821.7,238.2 L823.3,237.2 L825.0,235.9 L826.6,235.0 L828.3,234.3 L829.9,233.9 L831.5,233.8 L833.2,233.4 L834.8,233.0 L836.5,232.2 L838.1,231.7 L839.8,231.3 L841.4,230.9 L843.1,230.1 L844.7,229.4 L846.4,228.9 L848.0,228.7 L849.6,228.4 L851.3,228.0 L852.9,227.7 L854.6,227.7 L856.2,227.2 L857.9,226.7 L859.5,226.1 L861.2,225.8 L862.8,225.7 L864.5,225.2 L866.1,225.0 L867.7,225.1 L869.4,225.4 L871.0,225.1 L872.7,224.6 L874.3,224.2 L876.0,224.0 L877.6,224.0 L879.3,224.3 L880.9,224.4 L882.6,224.6 L884.2,224.4 L885.8,224.4 L887.5,224.0 L889.1,224.0 L890.8,224.0 L892.4,223.9 L894.1,223.7 L895.7,223.6 L897.4,223.7 L899.0,223.7 L900.7,223.5 L902.3,223.4 L903.9,223.4 L905.6,223.2 L907.2,223.2 L908.9,223.3 L910.5,223.3 L912.2,223.1 L913.8,223.0 L915.5,223.0 L917.1,223.2 L918.8,223.2 L920.4,223.1 L922.0,222.8 L923.7,222.6 L925.3,222.4 L927.0,222.2 L928.6,222.1 L930.3,221.6 L931.9,221.3 L933.6,221.2 L935.2,221.2 L936.9,221.2 L938.5,220.9" stroke="rgb(48, 36, 111)" />
<path d="M116.6,510.3 L117.4,510.0 L119.1,509.5 L120.7,509.0 L122.4,508.5 L124.0,508.0 L125.6,507.5 L127.3,506.9 L128.9,506.4 L130.6,505.9 L132.2,505.3 L133.9,504.8 L135.5,504.3 L137.2,503.8 L138.8,503.4 L140.5,502.8 L142.1,502.3 L143.7,501.8 L145.4,501.3 L147.0,500.7 L148.7,500.0 L150.3,499.5 L152.0,499.0 L153.6,498.6 L155.3,498.1 L156.9,497.6 L158.6,496.8 L160.2,496.0 L161.8,495.5 L163.5,495.2 L165.1,494.8 L166.8,494.2 L168.4,493.7 L170.1,493.3 L171.7,492.6 L173.4,491.8 L175.0,491.4 L176.7,491.3 L178.3,491.1 L179.9,490.3 L181.6,489.4 L183.2,488.8 L184.9,488.6 L186.5,488.1 L188.2,487.4 L189.8,486.6 L191.5,486.2 L193.1,485.6 L194.8,485.1 L196.4,484.6 L198.0,484.2 L199.7,483.8 L201.3,483.0 L203.0,482.4 L204.6,481.8 L206.3,481.3 L207.9,480.7 L209.6,480.3 L211.2,479.8 L212.9,479.2 L214.5,478.5 L216.1,478.0 L217.8,477.9 L219.4,477.2 L221.1,476.9 L222.7,476.5 L224.4,476.0 L226.0,475.0 L227.7,474.2 L229.3,473.4 L231.0,472.7 L232.6,472.1 L234.2,471.5 L235.9,471.2 L237.5,470.9 L239.2,469.9 L240.8,468.8 L242.5,468.0 L244.1,468.0 L245.8,467.6 L247.4,467.2 L249.1,466.4 L250.7,466.2 L252.3,465.6 L254.0,464.9 L255.6,464.5 L257.3,464.0 L258.9,464.1 L260.6,463.3 L262.2,462.7 L263.9,461.9 L265.5,461.3 L267.2,460.9 L268.8,460.3 L270.4,459.8 L272.1,459.1 L273.7,458.8 L275.4,458.1 L277.0,457.7 L278.7,456.7 L280.3,456.2 L282.0,455.3 L283.6,454.7 L285.3,454.4 L286.9,454.1 L288.5,453.6 L290.2,453.3 L291.8,452.3 L293.5,451.8 L295.1,451.0 L296.8,450.8 L298.4,450.3 L300.1,449.2 L301.7,448.5 L303.4,447.4 L305.0,446.7 L306.6,446.1 L308.3,446.1 L309.9,445.9 L311.6,445.4 L313.2,444.7 L314.9,444.3 L316.5,443.7 L318.2,443.0 L319.8,442.3 L321.5,441.7 L323.1,441.2 L324.7,440.4 L326.4,439.7 L328.0,439.3 L329.7,439.0 L331.3,438.5 L333.0,437.4 L334.6,436.5 L336.3,435.9 L337.9,435.4 L339.6,434.6 L341.2,433.7 L342.8,433.5 L344.5,433.8 L346.1,433.8 L347.8,433.2 L349.4,432.2 L351.1,431.4 L352.7,430.5 L354.4,429.9 L356.0,429.5 L357.7,428.7 L359.3,427.9 L360.9,427.0 L362.6,426.8 L364.2,426.4 L365.9,426.6 L367.5,426.3 L369.2,425.9 L370.8,425.0 L372.5,424.1 L374.1,423.3 L375.8,422.7 L377.4,421.6 L379.0,420.6 L380.7,419.4 L382.3,418.8 L384.0,417.9 L385.6,417.2 L387.3,416.7 L388.9,416.5 L390.6,416.6 L392.2,416.8 L393.9,416.7 L395.5,416.3 L397.1,415.8 L398.8,415.2 L400.4,414.6 L402.1,413.9 L403.7,413.3 L405.4,412.3 L407.0,411.1 L408.7,410.0 L410.3,409.1 L412.0,408.2 L413.6,407.3 L415.2,407.0 L416.9,406.7 L418.5,406.3 L420.2,405.4 L421.8,405.1 L423.5,405.0 L425.1,405.4 L426.8,405.2 L428.4,404.8 L430.1,404.7 L431.7,404.6 L433.3,404.0 L435.0,403.0 L436.6,401.9 L438.3,401.1 L439.9,400.0 L441.6,399.3 L443.2,398.5 L444.9,397.4 L446.5,396.2 L448.2,395.2 L449.8,394.3 L451.4,393.4 L453.1,392.8 L454.7,392.4 L456.4,392.1 L458.0,391.3 L459.7,391.1 L461.3,390.5 L463.0,390.7 L464.6,390.3 L466.3,390.6 L467.9,390.3 L469.5,390.0 L471.2,389.3 L472.8,388.8 L474.5,388.6 L476.1,388.3 L477.8,387.9 L479.4,387.1 L481.1,386.5 L482.7,385.5 L484.4,384.7 L486.0,383.5 L487.6,382.7 L489.3,381.6 L490.9,380.8 L492.6,379.9 L494.2,379.2 L495.9,378.1 L497.5,377.1 L499.2,375.9 L500.8,375.1 L502.5,373.8 L504.1,373.2 L505.7,372.2 L507.4,372.0 L509.0,371.9 L510.7,371.7 L512.3,371.3 L514.0,371.0 L515.6,370.6 L517.3,370.9 L518.9,370.5 L520.6,370.5 L522.2,370.6 L523.8,370.3 L525.5,370.1 L527.1,369.5 L528.8,368.9 L530.4,367.6 L532.1,366.7 L533.7,365.8 L535.4,365.4 L537.0,364.5 L538.7,363.4 L540.3,361.8 L541.9,360.3 L543.6,358.8 L545.2,357.6 L546.9,355.7 L548.5,354.6 L550.2,353.0 L551.8,352.0 L553.5,350.3 L555.1,349.3 L556.8,348.5 L558.4,347.5 L560.0,346.4 L561.7,345.6 L563.3,345.0 L565.0,344.3 L566.6,343.5 L568.3,343.0 L569.9,342.9 L571.6,343.0 L573.2,342.4 L574.9,342.2 L576.5,342.1 L578.1,342.2 L579.8,341.8 L581.4,341.5 L583.1,341.7 L584.7,341.9 L586.4,341.9 L588.0,341.5 L589.7,341.4 L591.3,341.1 L593.0,340.9 L594.6,340.2 L596.2,339.7 L597.9,339.3 L599.5,339.2 L601.2,338.8 L602.8,337.9 L604.5,337.0 L606.1,336.3 L607.8,336.3 L609.4,335.8 L611.1,335.2 L612.7,334.0 L614.3,333.3 L616.0,332.5 L617.6,331.8 L619.3,330.3 L620.9,329.3 L622.6,328.3 L624.2,327.9 L625.9,327.1 L627.5,326.1 L629.2,325.3 L630.8,324.3 L632.4,323.2 L634.1,322.1 L635.7,321.1 L637.4,320.1 L639.0,319.2 L640.7,318.5 L642.3,318.1 L644.0,317.3 L645.6,316.3 L647.3,315.0 L648.9,313.9 L650.5,313.1 L652.2,312.5 L653.8,311.7 L655.5,310.6 L657.1,309.8 L658.8,309.1 L660.4,308.4 L662.1,307.5 L663.7,306.9 L665.4,306.9 L667.0,306.1 L668.6,305.4 L670.3,304.4 L671.9,304.2 L673.6,304.0 L675.2,303.6 L676.9,303.1 L678.5,302.3 L680.2,302.1 L681.8,301.4 L683.5,301.3 L685.1,300.5 L686.7,300.7 L688.4,300.3 L690.0,300.1 L691.7,299.7 L693.3,299.8 L695.0,299.8 L696.6,299.6 L698.3,299.5 L699.9,299.5 L701.6,299.5 L703.2,299.3 L704.8,298.9 L706.5,299.1 L708.1,299.2 L709.8,299.4 L711.4,299.0 L713.1,298.8 L714.7,298.6 L716.4,298.8 L718.0,298.7 L719.7,298.5 L721.3,298.4 L722.9,298.1 L724.6,298.4 L726.2,298.6 L727.9,298.9 L729.5,298.5 L731.2,298.1 L732.8,297.3 L734.5,296.8 L736.1,296.5 L737.8,296.4 L739.4,296.3 L741.0,295.7 L742.7,295.4 L744.3,295.0 L746.0,295.0 L747.6,294.5 L749.3,294.0 L750.9,293.6 L752.6,293.3 L754.2,292.8 L755.9,292.1 L757.5,291.4 L759.1,291.0 L760.8,290.3 L762.4,289.7 L764.1,288.8 L765.7,288.2 L767.4,287.1 L769.0,286.3 L770.7,285.5 L772.3,285.0 L774.0,284.3 L775.6,283.7 L777.2,282.4 L778.9,281.5 L780.5,280.4 L782.2,279.7 L783.8,279.0 L785.5,278.2 L787.1,277.5 L788.8,276.4 L790.4,275.5 L792.1,274.5 L793.7,273.0 L795.3,271.6 L797.0,270.5 L798.6,269.6 L800.3,268.9 L801.9,267.7 L803.6,266.5 L805.2,265.3 L806.9,264.2 L808.5,263.2 L810.2,262.0 L811.8,261.1 L813.4,260.0 L815.1,259.0 L816.7,257.6 L818.4,256.4 L820.0,255.1 L821.7,254.1 L823.3,253.2 L825.0,251.8 L826.6,251.1 L828.3,249.8 L829.9,249.1 L831.5,247.7 L833.2,247.0 L834.8,246.2 L836.5,245.5 L838.1,244.7 L839.8,243.8 L841.4,243.0 L843.1,241.8 L844.7,240.7 L846.4,240.2 L848.0,239.8 L849.6,239.2 L851.3,237.8 L852.9,236.8 L854.6,236.1 L856.2,235.4 L857.9,234.6 L859.5,233.7 L861.2,233.2 L862.8,232.7 L864.5,232.7 L866.1,232.1 L867.7,232.0 L869.4,231.0 L871.0,230.1 L872.7,229.3 L874.3,229.4 L876.0,229.3 L877.6,229.0 L879.3,228.4 L880.9,227.8 L882.6,227.4 L884.2,227.5 L885.8,227.1 L887.5,227.1 L889.1,226.5 L890.8,226.2 L892.4,225.9 L894.1,225.8 L895.7,226.1 L897.4,225.8 L899.0,225.2 L900.7,224.6 L902.3,224.5 L903.9,224.6 L905.6,224.4 L907.2,224.3 L908.9,223.9 L910.5,224.0 L912.2,223.8 L913.8,224.0 L915.5,223.9 L917.1,223.9 L918.8,223.9 L920.4,224.0 L922.0,223.9 L923.7,223.7 L925.3,223.7 L927.0,223.6 L928.6,223.7 L930.3,223.7 L931.9,223.4 L933.6,223.3 L935.2,223.4 L936.9,223.7 L938.5,223.6" stroke="rgb(44, 50, 124)" />
<path d="M116.6,510.3 L117.4,510.0 L119.1,509.5 L120.7,509.1 L122.4,508.5 L124.0,508.0 L125.6,507.5 L127.3,507.1 L128.9,506.6 L130.6,506.2 L132.2,505.6 L133.9,505.1 L135.5,504.4 L137.2,503.9 L138.8,503.4 L140.5,502.9 L142.1,502.4 L143.7,502.1 L145.4,501.7 L147.0,501.2 L148.7,500.5 L150.3,499.8 L152.0,499.3 L153.6,498.8 L155.3,498.4 L156.9,498.0 L158.6,497.7 L160.2,497.3 L161.8,496.8 L163.5,496.2 L165.1,495.6 L166.8,495.0 L168.4,494.4 L170.1,493.8 L171.7,493.4 L173.4,492.8 L175.0,492.6 L176.7,491.9 L178.3,491.5 L179.9,490.8 L181.6,490.6 L183.2,490.0 L184.9,489.5 L186.5,488.6 L188.2,488.0 L189.8,487.4 L191.5,487.0 L193.1,486.5 L194.8,485.9 L196.4,485.5 L198.0,485.1 L199.7,484.6 L201.3,483.9 L203.0,483.3 L204.6,482.9 L206.3,482.5 L207.9,482.1 L209.6,481.8 L211.2,481.1 L212.9,480.5 L214.5,479.7 L216.1,479.6 L217.8,478.9 L219.4,478.6 L221.1,477.3 L222.7,477.0 L224.4,476.5 L226.0,476.3 L227.7,475.4 L229.3,475.1 L231.0,474.6 L232.6,474.2 L234.2,473.5 L235.9,472.8 L237.5,472.6 L239.2,472.0 L240.8,471.6 L242.5,471.1 L244.1,470.7 L245.8,469.7 L247.4,469.1 L249.1,468.5 L250.7,468.2 L252.3,467.6 L254.0,466.6 L255.6,466.3 L257.3,465.8 L258.9,465.4 L260.6,464.7 L262.2,464.2 L263.9,463.9 L265.5,463.1 L267.2,462.6 L268.8,462.0 L270.4,461.7 L272.1,461.2 L273.7,460.6 L275.4,459.7 L277.0,459.4 L278.7,458.8 L280.3,458.4 L282.0,458.0 L283.6,457.5 L285.3,457.1 L286.9,456.3 L288.5,455.7 L290.2,455.0 L291.8,454.7 L293.5,454.2 L295.1,453.4 L296.8,452.7 L298.4,452.2 L300.1,451.6 L301.7,451.3 L303.4,450.9 L305.0,450.3 L306.6,449.6 L308.3,449.0 L309.9,448.3 L311.6,447.7 L313.2,447.0 L314.9,446.5 L316.5,446.2 L318.2,446.1 L319.8,445.6 L321.5,445.3 L323.1,444.3 L324.7,444.0 L326.4,442.9 L328.0,442.3 L329.7,441.4 L331.3,441.2 L333.0,440.9 L334.6,440.6 L336.3,440.1 L337.9,439.7 L339.6,438.9 L341.2,438.1 L342.8,437.3 L344.5,436.8 L346.1,435.8 L347.8,435.0 L349.4,433.9 L351.1,433.4 L352.7,433.2 L354.4,433.3 L356.0,433.3 L357.7,432.7 L359.3,432.4 L360.9,431.7 L362.6,430.8 L364.2,429.8 L365.9,428.6 L367.5,428.2 L369.2,427.5 L370.8,427.2 L372.5,426.6 L374.1,426.6 L375.8,426.3 L377.4,426.1 L379.0,425.7 L380.7,425.6 L382.3,425.3 L384.0,424.2 L385.6,423.2 L387.3,422.3 L388.9,421.5 L390.6,420.5 L392.2,419.6 L393.9,418.7 L395.5,417.9 L397.1,417.3 L398.8,417.1 L400.4,416.9 L402.1,416.9 L403.7,416.6 L405.4,416.5 L407.0,416.3 L408.7,416.0 L410.3,415.4 L412.0,414.8 L413.6,414.3 L415.2,413.5 L416.9,412.4 L418.5,411.3 L420.2,410.4 L421.8,409.8 L423.5,408.8 L425.1,407.8 L426.8,406.8 L428.4,406.2 L430.1,405.9 L431.7,405.8 L433.3,405.5 L435.0,405.2 L436.6,404.7 L438.3,404.4 L439.9,404.2 L441.6,404.0 L443.2,404.2 L444.9,403.7 L446.5,403.2 L448.2,402.2 L449.8,401.6 L451.4,400.9 L453.1,400.0 L454.7,399.3 L456.4,398.4 L458.0,397.4 L459.7,396.5 L461.3,395.8 L463.0,395.0 L464.6,394.0 L466.3,392.9 L467.9,392.2 L469.5,391.8 L471.2,391.3 L472.8,390.8 L474.5,390.4 L476.1,390.3 L477.8,390.5 L479.4,390.2 L481.1,389.8 L482.7,389.8 L484.4,389.6 L486.0,389.6 L487.6,389.2 L489.3,389.0 L490.9,388.8 L492.6,388.4 L494.2,387.7 L495.9,386.7 L497.5,385.8 L499.2,384.9 L500.8,384.1 L502.5,383.4 L504.1,382.3 L505.7,381.2 L507.4,380.1 L509.0,379.0 L510.7,378.2 L512.3,377.1 L514.0,376.1 L515.6,375.7 L517.3,375.2 L518.9,374.6 L520.6,373.6 L522.2,372.9 L523.8,372.2 L525.5,371.6 L527.1,371.3 L528.8,371.3 L530.4,371.0 L532.1,370.3 L533.7,370.3 L535.4,370.3 L537.0,370.7 L538.7,370.5 L540.3,370.4 L541.9,370.4 L543.6,369.8 L545.2,369.1 L546.9,368.2 L548.5,367.3 L550.2,366.7 L551.8,365.8 L553.5,364.8 L555.1,364.0 L556.8,362.9 L558.4,361.7 L560.0,360.2 L561.7,358.9 L563.3,357.4 L565.0,355.6 L566.6,354.2 L568.3,353.1 L569.9,351.9 L571.6,350.5 L573.2,349.3 L574.9,348.1 L576.5,347.1 L578.1,346.1 L579.8,344.9 L581.4,344.0 L583.1,343.3 L584.7,343.1 L586.4,342.5 L588.0,342.1 L589.7,342.2 L591.3,342.5 L593.0,342.6 L594.6,342.6 L596.2,342.5 L597.9,342.4 L599.5,342.2 L601.2,342.2 L602.8,341.9 L604.5,342.0 L606.1,341.5 L607.8,341.4 L609.4,340.8 L611.1,341.0 L612.7,340.4 L614.3,340.4 L616.0,339.7 L617.6,339.5 L619.3,338.8 L620.9,338.3 L622.6,338.2 L624.2,337.6 L625.9,336.9 L627.5,335.9 L629.2,335.2 L630.8,334.5 L632.4,333.9 L634.1,333.2 L635.7,332.6 L637.4,331.6 L639.0,330.9 L640.7,329.7 L642.3,329.2 L644.0,328.0 L645.6,327.4 L647.3,326.5 L648.9,325.8 L650.5,324.8 L652.2,323.9 L653.8,323.2 L655.5,322.3 L657.1,321.5 L658.8,320.3 L660.4,319.4 L662.1,318.7 L663.7,318.0 L665.4,317.1 L667.0,316.1 L668.6,315.0 L670.3,314.1 L671.9,313.0 L673.6,312.5 L675.2,311.8 L676.9,311.0 L678.5,310.4 L680.2,309.5 L681.8,309.0 L683.5,308.1 L685.1,307.5 L686.7,307.1 L688.4,306.4 L690.0,306.0 L691.7,305.5 L693.3,304.7 L695.0,304.2 L696.6,303.8 L698.3,303.4 L699.9,303.0 L701.6,302.8 L703.2,302.6 L704.8,302.0 L706.5,301.0 L708.1,300.5 L709.8,300.3 L711.4,300.0 L713.1,300.2 L714.7,300.0 L716.4,299.6 L718.0,299.2 L719.7,299.0 L721.3,299.5 L722.9,299.5 L724.6,299.6 L726.2,299.1 L727.9,299.1 L729.5,298.8 L731.2,299.0 L732.8,298.6 L734.5,298.8 L736.1,298.6 L737.8,298.5 L739.4,298.2 L741.0,298.3 L742.7,298.6 L744.3,298.4 L746.0,298.0 L747.6,298.3 L749.3,298.3 L750.9,298.6 L752.6,297.9 L754.2,297.7 L755.9,297.3 L757.5,297.3 L759.1,297.0 L760.8,296.8 L762.4,296.4 L764.1,296.3 L765.7,296.0 L767.4,295.8 L769.0,295.1 L770.7,294.3 L772.3,294.0 L774.0,294.0 L775.6,293.6 L777.2,293.0 L778.9,292.2 L780.5,291.6 L782.2,291.5 L783.8,290.9 L785.5,290.4 L787.1,289.9 L788.8,289.7 L790.4,289.4 L792.1,288.4 L793.7,287.4 L795.3,286.6 L797.0,285.9 L798.6,285.2 L800.3,284.4 L801.9,283.4 L803.6,282.5 L805.2,281.7 L806.9,280.8 L808.5,280.1 L810.2,279.0 L811.8,278.2 L813.4,276.9 L815.1,276.1 L816.7,274.9 L818.4,274.3 L820.0,273.4 L821.7,272.4 L823.3,271.2 L825.0,270.2 L826.6,269.3 L828.3,268.3 L829.9,267.1 L831.5,265.7 L833.2,264.4 L834.8,263.4 L836.5,262.8 L838.1,261.9 L839.8,261.1 L841.4,259.9 L843.1,258.6 L844.7,257.1 L846.4,256.0 L848.0,255.2 L849.6,254.3 L851.3,253.4 L852.9,252.2 L854.6,251.3 L856.2,249.7 L857.9,249.0 L859.5,247.8 L861.2,247.2 L862.8,246.0 L864.5,245.4 L866.1,244.3 L867.7,243.6 L869.4,242.8 L871.0,242.1 L872.7,241.1 L874.3,240.1 L876.0,239.1 L877.6,238.3 L879.3,238.0 L880.9,237.6 L882.6,237.4 L884.2,236.4 L885.8,235.6 L887.5,234.8 L889.1,234.4 L890.8,233.9 L892.4,233.1 L894.1,232.1 L895.7,231.6 L897.4,231.0 L899.0,230.5 L900.7,230.1 L902.3,229.8 L903.9,229.8 L905.6,229.3 L907.2,228.7 L908.9,228.0 L910.5,227.7 L912.2,227.6 L913.8,227.7 L915.5,227.6 L917.1,227.2 L918.8,226.5 L920.4,226.4 L922.0,226.6 L923.7,226.3 L925.3,226.0 L927.0,225.4 L928.6,225.6 L930.3,225.1 L931.9,224.8 L933.6,224.5 L935.2,224.3 L936.9,224.3 L938.5,224.2" stroke="rgb(40, 65, 137)" />
<path d="M116.6,510.3 L117.4,510.1 L119.1,509.6 L120.7,509.1 L122.4,508.6 L124.0,508.2 L125.6,507.7 L127.3,507.2 L128.9,506.7 L130.6,506.2 L132.2,505.7 L133.9,505.2 L135.5,504.7 L137.2,504.2 L138.8,503.8 L140.5,503.2 L142.1,502.7 L143.7,502.1 L145.4,501.7 L147.0,501.2 L148.7,500.6 L150.3,500.2 L152.0,499.8 L153.6,499.5 L155.3,499.0 L156.9,498.5 L158.6,497.9 L160.2,497.2 L161.8,496.9 L163.5,496.3 L165.1,496.0 L166.8,495.2 L168.4,494.5 L170.1,494.3 L171.7,494.1 L173.4,493.7 L175.0,493.0 L176.7,492.2 L178.3,491.7 L179.9,491.1 L181.6,490.8 L183.2,490.4 L184.9,489.9 L186.5,489.6 L188.2,489.1 L189.8,488.7 L191.5,488.0 L193.1,487.7 L194.8,487.4 L196.4,486.9 L198.0,486.1 L199.7,485.5 L201.3,485.1 L203.0,484.8 L204.6,483.8 L206.3,483.6 L207.9,482.6 L209.6,482.6 L211.2,481.7 L212.9,481.6 L214.5,481.0 L216.1,480.4 L217.8,479.7 L219.4,479.2 L221.1,479.0 L222.7,478.2 L224.4,477.5 L226.0,476.8 L227.7,476.7 L229.3,476.3 L231.0,475.8 L232.6,475.1 L234.2,474.8 L235.9,474.2 L237.5,474.1 L239.2,473.2 L240.8,472.4 L242.5,471.8 L244.1,471.4 L245.8,470.9 L247.4,470.4 L249.1,470.2 L250.7,469.7 L252.3,469.0 L254.0,468.4 L255.6,467.9 L257.3,467.4 L258.9,467.1 L260.6,466.7 L262.2,466.4 L263.9,465.3 L265.5,464.7 L267.2,464.1 L268.8,463.9 L270.4,463.5 L272.1,463.2 L273.7,462.6 L275.4,462.1 L277.0,461.1 L278.7,460.4 L280.3,460.0 L282.0,459.8 L283.6,459.7 L285.3,459.0 L286.9,458.5 L288.5,458.0 L290.2,457.3 L291.8,456.8 L293.5,456.4 L295.1,456.2 L296.8,455.2 L298.4,454.3 L300.1,454.1 L301.7,454.1 L303.4,453.7 L305.0,452.5 L306.6,451.4 L308.3,450.7 L309.9,450.3 L311.6,450.1 L313.2,450.0 L314.9,449.3 L316.5,448.8 L318.2,448.1 L319.8,447.8 L321.5,447.3 L323.1,446.5 L324.7,445.9 L326.4,445.6 L328.0,445.2 L329.7,444.6 L331.3,443.7 L333.0,443.4 L334.6,443.1 L336.3,442.4 L337.9,441.7 L339.6,441.2 L341.2,440.8 L342.8,440.4 L344.5,440.0 L346.1,439.8 L347.8,438.9 L349.4,438.2 L351.1,437.1 L352.7,436.7 L354.4,435.8 L356.0,435.2 L357.7,434.2 L359.3,433.8 L360.9,433.5 L362.6,433.7 L364.2,433.5 L365.9,432.9 L367.5,432.4 L369.2,432.1 L370.8,431.6 L372.5,430.9 L374.1,430.1 L375.8,429.3 L377.4,428.5 L379.0,427.6 L380.7,427.1 L382.3,426.4 L384.0,426.2 L385.6,425.7 L387.3,425.6 L388.9,425.2 L390.6,425.0 L392.2,424.5 L393.9,424.2 L395.5,423.5 L397.1,423.0 L398.8,422.2 L400.4,421.2 L402.1,420.2 L403.7,419.2 L405.4,418.7 L407.0,417.8 L408.7,417.5 L410.3,416.8 L412.0,416.8 L413.6,416.3 L415.2,416.4 L416.9,416.5 L418.5,416.7 L420.2,416.4 L421.8,416.0 L423.5,415.1 L425.1,414.2 L426.8,413.6 L428.4,413.1 L430.1,412.4 L431.7,410.9 L433.3,409.7 L435.0,408.8 L436.6,408.0 L438.3,407.2 L439.9,406.3 L441.6,405.7 L443.2,405.6 L444.9,405.6 L446.5,405.4 L448.2,405.1 L449.8,405.0 L451.4,405.1 L453.1,405.0 L454.7,404.6 L456.4,404.3 L458.0,404.0 L459.7,403.7 L461.3,403.1 L463.0,401.9 L464.6,401.0 L466.3,400.0 L467.9,399.4 L469.5,398.9 L471.2,398.1 L472.8,397.4 L474.5,396.3 L476.1,395.6 L477.8,394.3 L479.4,393.6 L481.1,392.8 L482.7,392.3 L484.4,391.4 L486.0,391.1 L487.6,391.0 L489.3,390.9 L490.9,390.4 L492.6,390.1 L494.2,390.0 L495.9,390.0 L497.5,389.8 L499.2,389.9 L500.8,389.7 L502.5,389.6 L504.1,389.1 L505.7,388.8 L507.4,388.6 L509.0,387.8 L510.7,387.1 L512.3,386.1 L514.0,385.2 L515.6,384.2 L517.3,383.6 L518.9,382.8 L520.6,381.8 L522.2,381.0 L523.8,379.9 L525.5,378.9 L527.1,377.6 L528.8,377.1 L530.4,376.1 L532.1,375.1 L533.7,374.0 L535.4,373.6 L537.0,373.3 L538.7,372.9 L540.3,372.1 L541.9,371.7 L543.6,371.2 L545.2,371.0 L546.9,370.7 L548.5,370.7 L550.2,370.5 L551.8,370.3 L553.5,370.2 L555.1,370.0 L556.8,370.2 L558.4,370.0 L560.0,369.8 L561.7,369.0 L563.3,368.6 L565.0,367.7 L566.6,367.5 L568.3,366.6 L569.9,365.7 L571.6,364.4 L573.2,363.4 L574.9,362.6 L576.5,361.3 L578.1,360.0 L579.8,358.4 L581.4,357.2 L583.1,355.6 L584.7,354.0 L586.4,352.3 L588.0,350.8 L589.7,350.2 L591.3,349.3 L593.0,348.3 L594.6,347.1 L596.2,346.1 L597.9,345.6 L599.5,344.8 L601.2,344.4 L602.8,343.8 L604.5,343.1 L606.1,343.1 L607.8,342.7 L609.4,342.8 L611.1,342.9 L612.7,343.1 L614.3,343.2 L616.0,342.7 L617.6,342.2 L619.3,341.8 L620.9,341.7 L622.6,342.1 L624.2,342.0 L625.9,341.9 L627.5,341.0 L629.2,340.6 L630.8,339.8 L632.4,339.6 L634.1,339.3 L635.7,339.4 L637.4,339.1 L639.0,339.0 L640.7,338.2 L642.3,337.9 L644.0,337.2 L645.6,337.0 L647.3,336.3 L648.9,335.5 L650.5,334.9 L652.2,334.1 L653.8,333.6 L655.5,332.6 L657.1,332.0 L658.8,330.9 L660.4,330.0 L662.1,329.5 L663.7,329.0 L665.4,328.6 L667.0,327.2 L668.6,326.2 L670.3,325.3 L671.9,324.7 L673.6,323.7 L675.2,323.1 L676.9,321.9 L678.5,321.6 L680.2,320.9 L681.8,319.8 L683.5,318.4 L685.1,317.4 L686.7,316.5 L688.4,315.5 L690.0,314.3 L691.7,313.9 L693.3,313.2 L695.0,312.5 L696.6,312.0 L698.3,311.2 L699.9,310.6 L701.6,309.4 L703.2,308.6 L704.8,308.0 L706.5,307.7 L708.1,307.2 L709.8,306.4 L711.4,305.8 L713.1,305.3 L714.7,304.8 L716.4,304.2 L718.0,303.5 L719.7,303.1 L721.3,302.9 L722.9,303.0 L724.6,302.5 L726.2,302.0 L727.9,301.5 L729.5,301.3 L731.2,301.3 L732.8,301.0 L734.5,301.1 L736.1,300.7 L737.8,300.6 L739.4,299.6 L741.0,299.3 L742.7,299.0 L744.3,299.2 L746.0,299.0 L747.6,299.0 L749.3,299.0 L750.9,299.1 L752.6,298.5 L754.2,298.4 L755.9,298.7 L757.5,298.9 L759.1,298.5 L760.8,298.3 L762.4,297.8 L764.1,298.2 L765.7,297.8 L767.4,298.5 L769.0,298.4 L770.7,298.7 L772.3,298.7 L774.0,298.9 L775.6,298.3 L777.2,298.2 L778.9,297.6 L780.5,297.5 L782.2,297.3 L783.8,297.1 L785.5,296.9 L787.1,296.6 L788.8,296.4 L790.4,296.1 L792.1,295.8 L793.7,295.7 L795.3,295.5 L797.0,295.0 L798.6,294.1 L800.3,293.3 L801.9,292.8 L803.6,292.5 L805.2,292.2 L806.9,291.6 L808.5,291.2 L810.2,290.6 L811.8,290.3 L813.4,289.7 L815.1,288.8 L816.7,288.3 L818.4,287.7 L820.0,287.4 L821.7,286.3 L823.3,285.3 L825.0,284.5 L826.6,284.3 L828.3,283.8 L829.9,282.8 L831.5,281.8 L833.2,281.1 L834.8,280.3 L836.5,279.5 L838.1,278.4 L839.8,277.4 L841.4,276.1 L843.1,275.4 L844.7,274.6 L846.4,273.8 L848.0,272.5 L849.6,271.6 L851.3,270.2 L852.9,269.2 L854.6,268.4 L856.2,267.3 L857.9,266.3 L859.5,264.9 L861.2,264.2 L862.8,263.5 L864.5,262.3 L866.1,261.7 L867.7,260.5 L869.4,259.2 L871.0,257.6 L872.7,256.4 L874.3,255.8 L876.0,254.8 L877.6,253.8 L879.3,252.6 L880.9,251.7 L882.6,250.9 L884.2,249.8 L885.8,249.3 L887.5,248.0 L889.1,247.5 L890.8,246.3 L892.4,245.8 L894.1,244.5 L895.7,243.5 L897.4,242.4 L899.0,241.7 L900.7,240.9 L902.3,240.2 L903.9,239.9 L905.6,239.6 L907.2,239.3 L908.9,238.3 L910.5,237.3 L912.2,236.3 L913.8,235.6 L915.5,235.0 L917.1,234.5 L918.8,234.2 L920.4,234.0 L922.0,233.1 L923.7,232.1 L925.3,231.6 L927.0,231.3 L928.6,231.0 L930.3,230.0 L931.9,229.6 L933.6,229.3 L935.2,229.0 L936.9,228.8 L938.5,228.5" stroke="rgb(37, 82, 146)" />
<path d="M116.6,510.3 L117.4,510.1 L119.1,509.6 L120.7,509.1 L122.4,508.6 L124.0,508.1 L125.6,507.7 L127.3,507.3 L128.9,506.8 L130.6,506.3 L132.2,505.9 L133.9,505.5 L135.5,505.0 L137.2,504.5 L138.8,503.9 L140.5,503.4 L142.1,502.9 L143.7,502.5 L145.4,502.1 L147.0,501.6 L148.7,501.1 L150.3,500.6 L152.0,500.2 L153.6,499.7 L155.3,499.1 L156.9,498.6 L158.6,498.3 L160.2,497.9 L161.8,497.2 L163.5,496.7 L165.1,496.3 L166.8,496.0 L168.4,495.7 L170.1,495.1 L171.7,494.7 L173.4,493.9 L175.0,493.5 L176.7,492.8 L178.3,492.1 L179.9,491.7 L181.6,491.5 L183.2,491.3 L184.9,490.8 L186.5,490.2 L188.2,489.9 L189.8,489.3 L191.5,488.8 L193.1,488.6 L194.8,488.2 L196.4,487.7 L198.0,486.7 L199.7,486.2 L201.3,485.9 L203.0,485.5 L204.6,485.0 L206.3,484.3 L207.9,484.0 L209.6,483.3 L211.2,482.8 L212.9,482.6 L214.5,482.1 L216.1,481.6 L217.8,481.1 L219.4,480.4 L221.1,479.7 L222.7,479.3 L224.4,479.2 L226.0,478.9 L227.7,478.4 L229.3,478.1 L231.0,477.4 L232.6,476.7 L234.2,475.9 L235.9,475.5 L237.5,475.2 L239.2,474.6 L240.8,474.2 L242.5,473.9 L244.1,473.6 L245.8,472.7 L247.4,472.2 L249.1,471.8 L250.7,471.5 L252.3,470.7 L254.0,470.3 L255.6,469.6 L257.3,469.5 L258.9,468.5 L260.6,468.2 L262.2,467.7 L263.9,467.5 L265.5,467.0 L267.2,466.3 L268.8,465.7 L270.4,465.3 L272.1,464.6 L273.7,464.1 L275.4,463.7 L277.0,463.6 L278.7,463.1 L280.3,462.4 L282.0,461.9 L283.6,461.3 L285.3,461.1 L286.9,460.8 L288.5,460.1 L290.2,459.5 L291.8,458.4 L293.5,457.9 L295.1,457.4 L296.8,457.2 L298.4,456.5 L300.1,456.0 L301.7,455.6 L303.4,455.1 L305.0,455.1 L306.6,454.7 L308.3,454.4 L309.9,453.5 L311.6,452.6 L313.2,451.8 L314.9,451.0 L316.5,450.7 L318.2,450.3 L319.8,450.2 L321.5,449.9 L323.1,449.5 L324.7,448.7 L326.4,447.5 L328.0,447.0 L329.7,446.7 L331.3,446.4 L333.0,445.7 L334.6,445.3 L336.3,444.9 L337.9,444.4 L339.6,443.9 L341.2,443.6 L342.8,443.4 L344.5,442.4 L346.1,441.5 L347.8,440.6 L349.4,440.4 L351.1,440.4 L352.7,440.6 L354.4,440.5 L356.0,440.2 L357.7,439.6 L359.3,438.7 L360.9,437.6 L362.6,436.5 L364.2,435.6 L365.9,435.1 L367.5,434.6 L369.2,434.1 L370.8,433.7 L372.5,433.6 L374.1,433.6 L375.8,433.4 L377.4,433.0 L379.0,432.6 L380.7,431.7 L382.3,431.2 L384.0,430.1 L385.6,429.6 L387.3,428.3 L388.9,427.5 L390.6,426.8 L392.2,426.6 L393.9,426.6 L395.5,426.3 L397.1,426.1 L398.8,425.3 L400.4,425.3 L402.1,424.8 L403.7,424.9 L405.4,424.0 L407.0,423.4 L408.7,422.4 L410.3,421.5 L412.0,420.8 L413.6,420.0 L415.2,419.2 L416.9,418.3 L418.5,417.9 L420.2,417.5 L421.8,417.5 L423.5,417.2 L425.1,417.1 L426.8,416.6 L428.4,416.0 L430.1,415.5 L431.7,415.6 L433.3,415.5 L435.0,415.5 L436.6,414.6 L438.3,413.7 L439.9,412.7 L441.6,411.7 L443.2,411.1 L444.9,410.6 L446.5,410.2 L448.2,409.4 L449.8,408.1 L451.4,406.9 L453.1,406.3 L454.7,405.9 L456.4,405.6 L458.0,405.1 L459.7,404.9 L461.3,405.0 L463.0,404.9 L464.6,404.8 L466.3,404.4 L467.9,404.6 L469.5,404.4 L471.2,404.4 L472.8,404.1 L474.5,403.6 L476.1,402.7 L477.8,401.6 L479.4,400.6 L481.1,399.7 L482.7,398.6 L484.4,398.0 L486.0,397.0 L487.6,396.6 L489.3,395.5 L490.9,394.9 L492.6,393.9 L494.2,393.1 L495.9,392.7 L497.5,392.1 L499.2,391.9 L500.8,391.1 L502.5,390.7 L504.1,390.4 L505.7,390.3 L507.4,390.5 L509.0,390.2 L510.7,390.3 L512.3,389.9 L514.0,390.1 L515.6,389.5 L517.3,389.5 L518.9,388.7 L520.6,388.7 L522.2,387.9 L523.8,387.6 L525.5,386.8 L527.1,386.2 L528.8,385.3 L530.4,384.5 L532.1,383.5 L533.7,382.6 L535.4,381.9 L537.0,380.9 L538.7,380.2 L540.3,379.4 L541.9,378.6 L543.6,377.8 L545.2,376.4 L546.9,375.7 L548.5,374.9 L550.2,374.4 L551.8,374.0 L553.5,373.3 L555.1,373.0 L556.8,371.9 L558.4,371.3 L560.0,370.8 L561.7,371.0 L563.3,371.0 L565.0,370.8 L566.6,370.3 L568.3,370.3 L569.9,370.5 L571.6,370.6 L573.2,370.5 L574.9,369.8 L576.5,369.6 L578.1,369.2 L579.8,369.1 L581.4,368.6 L583.1,367.9 L584.7,367.2 L586.4,366.2 L588.0,365.3 L589.7,364.0 L591.3,362.7 L593.0,361.8 L594.6,360.8 L596.2,359.5 L597.9,358.0 L599.5,356.6 L601.2,355.4 L602.8,353.9 L604.5,352.6 L606.1,351.4 L607.8,350.5 L609.4,349.3 L611.1,348.4 L612.7,347.0 L614.3,346.2 L616.0,345.3 L617.6,344.8 L619.3,344.2 L620.9,343.7 L622.6,343.4 L624.2,343.2 L625.9,343.1 L627.5,343.1 L629.2,342.7 L630.8,342.6 L632.4,342.5 L634.1,342.7 L635.7,342.4 L637.4,341.9 L639.0,341.9 L640.7,341.7 L642.3,341.9 L644.0,341.6 L645.6,341.3 L647.3,341.3 L648.9,340.8 L650.5,340.6 L652.2,340.2 L653.8,339.7 L655.5,339.2 L657.1,338.5 L658.8,338.5 L660.4,338.3 L662.1,338.1 L663.7,337.2 L665.4,336.4 L667.0,336.1 L668.6,335.6 L670.3,335.2 L671.9,334.1 L673.6,333.4 L675.2,332.9 L676.9,332.4 L678.5,331.9 L680.2,331.1 L681.8,330.3 L683.5,329.4 L685.1,328.4 L686.7,327.9 L688.4,326.6 L690.0,325.6 L691.7,324.4 L693.3,324.1 L695.0,323.9 L696.6,323.3 L698.3,322.2 L699.9,320.7 L701.6,319.4 L703.2,318.6 L704.8,318.0 L706.5,317.2 L708.1,316.2 L709.8,315.4 L711.4,314.8 L713.1,314.1 L714.7,313.7 L716.4,313.0 L718.0,312.0 L719.7,311.3 L721.3,310.8 L722.9,310.2 L724.6,309.8 L726.2,308.6 L727.9,308.1 L729.5,306.9 L731.2,306.3 L732.8,305.9 L734.5,305.7 L736.1,305.1 L737.8,304.4 L739.4,303.8 L741.0,303.7 L742.7,303.0 L744.3,302.4 L746.0,302.0 L747.6,301.9 L749.3,301.8 L750.9,301.4 L752.6,300.9 L754.2,300.6 L755.9,300.0 L757.5,300.2 L759.1,299.9 L760.8,299.7 L762.4,299.1 L764.1,299.0 L765.7,299.3 L767.4,299.5 L769.0,299.5 L770.7,299.2 L772.3,299.0 L774.0,299.2 L775.6,299.3 L777.2,299.1 L778.9,298.7 L780.5,298.8 L782.2,298.9 L783.8,299.3 L785.5,299.2 L787.1,298.5 L788.8,298.1 L790.4,298.0 L792.1,298.7 L793.7,298.8 L795.3,298.9 L797.0,298.7 L798.6,298.5 L800.3,297.8 L801.9,297.9 L803.6,297.6 L805.2,297.4 L806.9,297.3 L808.5,297.0 L810.2,297.3 L811.8,296.6 L813.4,296.2 L815.1,295.7 L816.7,295.4 L818.4,295.4 L820.0,295.0 L821.7,294.5 L823.3,294.1 L825.0,293.8 L826.6,293.5 L828.3,292.8 L829.9,292.6 L831.5,292.2 L833.2,292.0 L834.8,291.1 L836.5,290.4 L838.1,289.6 L839.8,288.9 L841.4,288.6 L843.1,288.1 L844.7,287.8 L846.4,287.0 L848.0,286.2 L849.6,285.4 L851.3,284.8 L852.9,284.1 L854.6,283.4 L856.2,282.3 L857.9,281.5 L859.5,280.4 L861.2,279.6 L862.8,279.0 L864.5,278.3 L866.1,277.7 L867.7,276.3 L869.4,275.1 L871.0,273.9 L872.7,273.1 L874.3,272.6 L876.0,272.0 L877.6,271.2 L879.3,270.0 L880.9,268.8 L882.6,267.7 L884.2,266.6 L885.8,265.2 L887.5,264.0 L889.1,262.9 L890.8,262.0 L892.4,261.3 L894.1,260.3 L895.7,259.4 L897.4,258.2 L899.0,257.1 L900.7,256.0 L902.3,255.3 L903.9,253.8 L905.6,252.7 L907.2,251.5 L908.9,250.9 L910.5,249.9 L912.2,249.1 L913.8,248.4 L915.5,247.8 L917.1,246.8 L918.8,246.3 L920.4,245.2 L922.0,244.4 L923.7,243.6 L925.3,242.6 L927.0,242.1 L928.6,240.9 L930.3,240.5 L931.9,239.6 L933.6,239.1 L935.2,237.9 L936.9,237.1 L938.5,236.4" stroke="rgb(34, 100, 155)" />
<path d="M116.6,510.3 L117.4,510.1 L119.1,509.6 L120.7,509.2 L122.4,508.7 L124.0,508.3 L125.6,507.8 L127.3,507.4 L128.9,507.0 L130.6,506.5 L132.2,506.1 L133.9,505.6 L135.5,505.1 L137.2,504.7 L138.8,504.3 L140.5,503.9 L142.1,503.5 L143.7,503.0 L145.4,502.5 L147.0,501.9 L148.7,501.5 L150.3,501.2 L152.0,500.8 L153.6,500.3 L155.3,499.6 L156.9,499.0 L158.6,498.3 L160.2,497.8 L161.8,497.5 L163.5,497.2 L165.1,496.7 L166.8,496.4 L168.4,496.0 L170.1,495.8 L171.7,495.0 L173.4,494.2 L175.0,493.8 L176.7,493.4 L178.3,493.2 L179.9,492.5 L181.6,492.2 L183.2,491.6 L184.9,491.3 L186.5,490.8 L188.2,490.5 L189.8,490.0 L191.5,489.6 L193.1,489.4 L194.8,488.7 L196.4,488.2 L198.0,487.8 L199.7,488.0 L201.3,487.9 L203.0,487.2 L204.6,486.2 L206.3,485.5 L207.9,485.0 L209.6,485.0 L211.2,484.1 L212.9,483.5 L214.5,482.7 L216.1,482.2 L217.8,481.5 L219.4,480.9 L221.1,480.8 L222.7,480.8 L224.4,480.7 L226.0,480.4 L227.7,479.4 L229.3,478.8 L231.0,478.0 L232.6,477.8 L234.2,477.0 L235.9,476.6 L237.5,476.0 L239.2,475.8 L240.8,475.2 L242.5,475.3 L244.1,474.7 L245.8,474.3 L247.4,473.7 L249.1,473.3 L250.7,472.6 L252.3,471.9 L254.0,471.6 L255.6,471.1 L257.3,470.7 L258.9,470.2 L260.6,469.6 L262.2,469.2 L263.9,468.4 L265.5,468.3 L267.2,468.1 L268.8,467.7 L270.4,466.8 L272.1,466.2 L273.7,466.0 L275.4,465.8 L277.0,465.1 L278.7,464.4 L280.3,463.8 L282.0,463.8 L283.6,463.1 L285.3,462.5 L286.9,461.8 L288.5,461.2 L290.2,460.8 L291.8,460.2 L293.5,460.2 L295.1,459.4 L296.8,459.0 L298.4,458.5 L300.1,458.2 L301.7,458.0 L303.4,457.5 L305.0,457.2 L306.6,456.8 L308.3,455.9 L309.9,455.3 L311.6,454.5 L313.2,454.0 L314.9,453.8 L316.5,453.4 L318.2,453.3 L319.8,452.6 L321.5,451.6 L323.1,450.9 L324.7,450.6 L326.4,450.3 L328.0,450.1 L329.7,449.6 L331.3,448.9 L333.0,448.5 L334.6,447.7 L336.3,447.6 L337.9,446.8 L339.6,446.2 L341.2,445.4 L342.8,445.4 L344.5,445.2 L346.1,444.9 L347.8,444.1 L349.4,443.2 L351.1,442.6 L352.7,442.0 L354.4,441.6 L356.0,441.3 L357.7,440.4 L359.3,440.0 L360.9,439.7 L362.6,439.7 L364.2,439.4 L365.9,438.6 L367.5,438.2 L369.2,437.8 L370.8,437.7 L372.5,436.9 L374.1,436.1 L375.8,435.2 L377.4,434.5 L379.0,433.9 L380.7,433.8 L382.3,433.6 L384.0,433.4 L385.6,433.0 L387.3,432.6 L388.9,432.3 L390.6,431.8 L392.2,430.8 L393.9,429.8 L395.5,429.0 L397.1,428.7 L398.8,428.0 L400.4,427.4 L402.1,427.0 L403.7,426.5 L405.4,426.1 L407.0,425.8 L408.7,426.0 L410.3,426.1 L412.0,425.8 L413.6,425.2 L415.2,424.2 L416.9,423.7 L418.5,423.1 L420.2,422.4 L421.8,421.8 L423.5,420.7 L425.1,419.7 L426.8,418.4 L428.4,417.8 L430.1,417.3 L431.7,417.1 L433.3,416.6 L435.0,416.9 L436.6,416.9 L438.3,416.9 L439.9,416.3 L441.6,416.2 L443.2,415.9 L444.9,415.4 L446.5,414.8 L448.2,414.5 L449.8,414.1 L451.4,413.3 L453.1,412.3 L454.7,411.1 L456.4,410.4 L458.0,409.9 L459.7,409.4 L461.3,408.4 L463.0,407.4 L464.6,406.6 L466.3,406.1 L467.9,405.6 L469.5,405.4 L471.2,405.3 L472.8,405.3 L474.5,405.2 L476.1,404.9 L477.8,404.8 L479.4,404.7 L481.1,404.4 L482.7,404.1 L484.4,403.7 L486.0,403.5 L487.6,403.1 L489.3,402.8 L490.9,402.1 L492.6,401.4 L494.2,400.2 L495.9,399.5 L497.5,398.5 L499.2,397.7 L500.8,396.6 L502.5,395.6 L504.1,394.7 L505.7,394.2 L507.4,393.6 L509.0,393.3 L510.7,392.2 L512.3,391.6 L514.0,390.9 L515.6,390.5 L517.3,390.3 L518.9,390.1 L520.6,390.2 L522.2,390.0 L523.8,389.8 L525.5,389.7 L527.1,389.4 L528.8,389.4 L530.4,389.4 L532.1,389.4 L533.7,389.1 L535.4,389.0 L537.0,388.4 L538.7,387.7 L540.3,386.9 L541.9,386.4 L543.6,385.8 L545.2,385.0 L546.9,384.1 L548.5,382.9 L550.2,382.3 L551.8,381.4 L553.5,380.6 L555.1,379.6 L556.8,378.8 L558.4,378.2 L560.0,377.4 L561.7,376.4 L563.3,375.2 L565.0,374.5 L566.6,373.9 L568.3,373.4 L569.9,372.6 L571.6,372.1 L573.2,371.7 L574.9,371.3 L576.5,371.2 L578.1,371.0 L579.8,371.2 L581.4,371.2 L583.1,371.2 L584.7,371.1 L586.4,370.6 L588.0,370.3 L589.7,370.0 L591.3,369.9 L593.0,369.8 L594.6,369.4 L596.2,369.0 L597.9,368.4 L599.5,367.8 L601.2,367.3 L602.8,366.6 L604.5,365.5 L606.1,364.5 L607.8,363.2 L609.4,362.2 L611.1,360.8 L612.7,360.0 L614.3,358.8 L616.0,357.7 L617.6,356.1 L619.3,354.7 L620.9,353.2 L622.6,352.0 L624.2,350.7 L625.9,350.0 L627.5,348.7 L629.2,347.6 L630.8,346.6 L632.4,346.3 L634.1,345.6 L635.7,345.2 L637.4,344.3 L639.0,343.7 L640.7,343.3 L642.3,343.1 L644.0,342.8 L645.6,342.5 L647.3,342.5 L648.9,342.8 L650.5,342.9 L652.2,343.0 L653.8,342.6 L655.5,342.3 L657.1,342.2 L658.8,342.2 L660.4,342.3 L662.1,342.5 L663.7,342.0 L665.4,341.4 L667.0,340.9 L668.6,340.9 L670.3,340.7 L671.9,340.2 L673.6,339.9 L675.2,339.7 L676.9,339.2 L678.5,338.8 L680.2,338.2 L681.8,337.7 L683.5,337.2 L685.1,336.7 L686.7,336.4 L688.4,335.5 L690.0,335.2 L691.7,334.3 L693.3,333.9 L695.0,332.8 L696.6,332.1 L698.3,331.3 L699.9,330.8 L701.6,330.1 L703.2,329.5 L704.8,328.7 L706.5,328.0 L708.1,327.0 L709.8,326.3 L711.4,325.4 L713.1,324.9 L714.7,324.0 L716.4,323.0 L718.0,322.2 L719.7,321.3 L721.3,320.5 L722.9,319.5 L724.6,318.5 L726.2,317.9 L727.9,316.9 L729.5,316.4 L731.2,315.3 L732.8,314.8 L734.5,314.0 L736.1,313.7 L737.8,312.7 L739.4,312.1 L741.0,311.2 L742.7,310.6 L744.3,309.8 L746.0,308.7 L747.6,308.0 L749.3,307.2 L750.9,306.9 L752.6,306.5 L754.2,306.3 L755.9,305.8 L757.5,305.4 L759.1,304.7 L760.8,304.3 L762.4,304.1 L764.1,303.4 L765.7,302.9 L767.4,302.5 L769.0,302.2 L770.7,301.8 L772.3,301.2 L774.0,301.1 L775.6,301.3 L777.2,300.9 L778.9,300.2 L780.5,300.0 L782.2,299.9 L783.8,300.2 L785.5,299.9 L787.1,299.7 L788.8,299.4 L790.4,299.3 L792.1,298.9 L793.7,298.9 L795.3,298.7 L797.0,298.8 L798.6,298.7 L800.3,298.7 L801.9,298.7 L803.6,298.8 L805.2,298.7 L806.9,298.6 L808.5,298.3 L810.2,298.5 L811.8,298.6 L813.4,298.9 L815.1,298.8 L816.7,298.7 L818.4,298.2 L820.0,298.0 L821.7,298.0 L823.3,298.2 L825.0,298.1 L826.6,297.8 L828.3,297.3 L829.9,297.1 L831.5,297.0 L833.2,297.0 L834.8,296.9 L836.5,296.6 L838.1,296.7 L839.8,296.6 L841.4,296.4 L843.1,295.7 L844.7,295.1 L846.4,294.5 L848.0,294.0 L849.6,293.8 L851.3,293.2 L852.9,292.9 L854.6,292.4 L856.2,291.9 L857.9,291.7 L859.5,291.3 L861.2,291.0 L862.8,290.2 L864.5,289.5 L866.1,289.2 L867.7,288.7 L869.4,288.0 L871.0,286.6 L872.7,285.7 L874.3,285.0 L876.0,284.8 L877.6,284.3 L879.3,283.8 L880.9,282.8 L882.6,282.0 L884.2,281.1 L885.8,280.2 L887.5,279.5 L889.1,278.7 L890.8,277.6 L892.4,276.6 L894.1,275.7 L895.7,275.1 L897.4,274.3 L899.0,273.2 L900.7,272.0 L902.3,270.8 L903.9,269.9 L905.6,269.2 L907.2,268.2 L908.9,267.1 L910.5,265.8 L912.2,264.9 L913.8,264.4 L915.5,263.6 L917.1,262.9 L918.8,261.5 L920.4,260.6 L922.0,259.6 L923.7,258.6 L925.3,257.3 L927.0,256.3 L928.6,255.3 L930.3,254.7 L931.9,253.6 L933.6,253.0 L935.2,251.8 L936.9,251.0 L938.5,250.0" stroke="rgb(35, 113, 163)" />
<path d="M116.6,510.3 L117.4,510.1 L119.1,509.7 L120.7,509.2 L122.4,508.8 L124.0,508.3 L125.6,507.9 L127.3,507.5 L128.9,507.0 L130.6,506.6 L132.2,506.2 L133.9,505.7 L135.5,505.3 L137.2,504.9 L138.8,504.5 L140.5,504.1 L142.1,503.6 L143.7,503.1 L145.4,502.6 L147.0,502.2 L148.7,501.8 L150.3,501.6 L152.0,501.2 L153.6,500.8 L155.3,500.1 L156.9,499.4 L158.6,498.9 L160.2,498.5 L161.8,498.1 L163.5,497.5 L165.1,497.2 L166.8,496.8 L168.4,496.4 L170.1,496.3 L171.7,496.0 L173.4,495.5 L175.0,494.9 L176.7,494.4 L178.3,493.8 L179.9,493.5 L181.6,492.8 L183.2,492.6 L184.9,491.9 L186.5,491.8 L188.2,491.3 L189.8,491.0 L191.5,490.6 L193.1,490.2 L194.8,489.6 L196.4,488.7 L198.0,488.2 L199.7,488.0 L201.3,487.7 L203.0,487.7 L204.6,487.3 L206.3,486.6 L207.9,485.4 L209.6,484.7 L211.2,484.4 L212.9,484.1 L214.5,483.7 L216.1,483.6 L217.8,483.4 L219.4,482.8 L221.1,481.9 L222.7,481.2 L224.4,481.0 L226.0,480.8 L227.7,480.5 L229.3,480.1 L231.0,479.9 L232.6,479.4 L234.2,478.8 L235.9,478.1 L237.5,477.4 L239.2,476.7 L240.8,476.4 L242.5,476.1 L244.1,476.0 L245.8,475.2 L247.4,474.9 L249.1,474.1 L250.7,473.7 L252.3,473.2 L254.0,472.7 L255.6,472.5 L257.3,472.0 L258.9,471.5 L260.6,470.5 L262.2,470.5 L263.9,470.0 L265.5,470.0 L267.2,469.2 L268.8,468.8 L270.4,468.4 L272.1,467.9 L273.7,467.3 L275.4,467.0 L277.0,466.7 L278.7,466.5 L280.3,466.1 L282.0,465.6 L283.6,465.0 L285.3,464.2 L286.9,463.8 L288.5,463.8 L290.2,463.5 L291.8,462.6 L293.5,461.9 L295.1,461.2 L296.8,460.9 L298.4,460.5 L300.1,460.1 L301.7,459.8 L303.4,459.1 L305.0,458.8 L306.6,458.1 L308.3,457.5 L309.9,457.2 L311.6,456.6 L313.2,456.6 L314.9,456.0 L316.5,455.7 L318.2,454.6 L319.8,454.2 L321.5,453.7 L323.1,454.0 L324.7,453.4 L326.4,452.8 L328.0,451.8 L329.7,451.6 L331.3,451.1 L333.0,450.6 L334.6,449.7 L336.3,449.5 L337.9,449.6 L339.6,449.3 L341.2,448.6 L342.8,447.7 L344.5,446.9 L346.1,446.5 L347.8,445.9 L349.4,445.5 L351.1,445.4 L352.7,444.8 L354.4,444.5 L356.0,443.9 L357.7,443.9 L359.3,443.2 L360.9,442.5 L362.6,441.9 L364.2,441.5 L365.9,441.0 L367.5,440.4 L369.2,440.4 L370.8,440.7 L372.5,440.5 L374.1,439.7 L375.8,438.8 L377.4,438.3 L379.0,437.5 L380.7,436.8 L382.3,436.0 L384.0,435.4 L385.6,434.5 L387.3,433.9 L388.9,433.4 L390.6,433.5 L392.2,433.6 L393.9,433.8 L395.5,433.5 L397.1,433.1 L398.8,432.5 L400.4,431.7 L402.1,430.8 L403.7,429.8 L405.4,429.1 L407.0,428.2 L408.7,427.6 L410.3,426.8 L412.0,426.4 L413.6,425.9 L415.2,425.8 L416.9,426.0 L418.5,426.3 L420.2,425.8 L421.8,425.4 L423.5,424.7 L425.1,424.6 L426.8,424.2 L428.4,423.2 L430.1,422.6 L431.7,421.7 L433.3,421.4 L435.0,420.6 L436.6,420.0 L438.3,419.3 L439.9,418.6 L441.6,417.9 L443.2,417.2 L444.9,417.0 L446.5,416.6 L448.2,416.4 L449.8,416.0 L451.4,416.2 L453.1,416.8 L454.7,416.5 L456.4,415.9 L458.0,415.1 L459.7,414.6 L461.3,414.1 L463.0,413.3 L464.6,412.9 L466.3,412.0 L467.9,411.3 L469.5,410.3 L471.2,409.4 L472.8,408.5 L474.5,407.9 L476.1,407.3 L477.8,406.6 L479.4,406.0 L481.1,405.8 L482.7,405.6 L484.4,405.2 L486.0,405.0 L487.6,404.8 L489.3,404.8 L490.9,404.4 L492.6,404.5 L494.2,404.3 L495.9,404.1 L497.5,403.2 L499.2,402.7 L500.8,402.6 L502.5,402.6 L504.1,401.7 L505.7,401.0 L507.4,400.2 L509.0,399.5 L510.7,398.4 L512.3,397.3 L514.0,396.2 L515.6,395.4 L517.3,394.6 L518.9,394.2 L520.6,393.5 L522.2,392.7 L523.8,392.0 L525.5,391.4 L527.1,391.1 L528.8,390.7 L530.4,390.4 L532.1,390.2 L533.7,390.3 L535.4,390.1 L537.0,389.9 L538.7,389.8 L540.3,389.9 L541.9,390.0 L543.6,390.0 L545.2,389.9 L546.9,389.8 L548.5,389.2 L550.2,388.8 L551.8,387.9 L553.5,387.5 L555.1,386.9 L556.8,386.5 L558.4,385.9 L560.0,385.4 L561.7,384.5 L563.3,383.6 L565.0,382.6 L566.6,381.9 L568.3,381.1 L569.9,380.2 L571.6,379.4 L573.2,378.2 L574.9,377.3 L576.5,376.8 L578.1,376.3 L579.8,375.2 L581.4,374.4 L583.1,373.5 L584.7,373.3 L586.4,372.5 L588.0,372.2 L589.7,372.0 L591.3,371.9 L593.0,371.2 L594.6,370.7 L596.2,370.3 L597.9,370.5 L599.5,370.4 L601.2,370.4 L602.8,370.2 L604.5,369.8 L606.1,369.7 L607.8,369.7 L609.4,369.9 L611.1,369.8 L612.7,369.6 L614.3,368.9 L616.0,368.4 L617.6,367.3 L619.3,366.5 L620.9,365.4 L622.6,364.9 L624.2,364.1 L625.9,363.0 L627.5,361.5 L629.2,360.5 L630.8,359.3 L632.4,358.3 L634.1,357.0 L635.7,355.8 L637.4,354.8 L639.0,353.8 L640.7,352.6 L642.3,351.2 L644.0,349.7 L645.6,348.2 L647.3,347.0 L648.9,346.2 L650.5,345.5 L652.2,345.1 L653.8,344.6 L655.5,344.0 L657.1,343.7 L658.8,343.3 L660.4,343.4 L662.1,342.8 L663.7,342.6 L665.4,342.3 L667.0,342.6 L668.6,342.7 L670.3,342.7 L671.9,342.6 L673.6,342.5 L675.2,342.6 L676.9,342.6 L678.5,342.1 L680.2,341.7 L681.8,341.3 L683.5,341.2 L685.1,341.1 L686.7,340.8 L688.4,340.7 L690.0,340.5 L691.7,340.4 L693.3,339.9 L695.0,339.3 L696.6,338.6 L698.3,338.5 L699.9,338.1 L701.6,337.8 L703.2,337.2 L704.8,336.6 L706.5,336.2 L708.1,335.6 L709.8,334.9 L711.4,334.5 L713.1,333.5 L714.7,333.1 L716.4,332.4 L718.0,332.0 L719.7,331.4 L721.3,330.7 L722.9,329.7 L724.6,329.2 L726.2,328.1 L727.9,327.2 L729.5,325.9 L731.2,325.5 L732.8,325.2 L734.5,324.8 L736.1,323.8 L737.8,322.6 L739.4,321.8 L741.0,321.0 L742.7,320.2 L744.3,319.6 L746.0,318.5 L747.6,317.9 L749.3,316.8 L750.9,316.2 L752.6,315.3 L754.2,314.6 L755.9,313.8 L757.5,313.0 L759.1,312.1 L760.8,311.6 L762.4,310.9 L764.1,310.3 L765.7,309.7 L767.4,309.1 L769.0,308.5 L770.7,307.8 L772.3,307.1 L774.0,306.9 L775.6,306.4 L777.2,305.8 L778.9,305.0 L780.5,304.4 L782.2,304.3 L783.8,304.1 L785.5,303.6 L787.1,302.9 L788.8,302.4 L790.4,301.9 L792.1,301.9 L793.7,301.4 L795.3,301.4 L797.0,301.1 L798.6,301.2 L800.3,300.7 L801.9,300.4 L803.6,300.1 L805.2,300.2 L806.9,300.2 L808.5,300.1 L810.2,300.0 L811.8,299.9 L813.4,299.4 L815.1,298.9 L816.7,298.8 L818.4,298.9 L820.0,299.0 L821.7,299.0 L823.3,298.9 L825.0,298.8 L826.6,298.7 L828.3,298.6 L829.9,298.8 L831.5,298.6 L833.2,298.7 L834.8,298.5 L836.5,298.9 L838.1,298.8 L839.8,298.7 L841.4,298.5 L843.1,298.2 L844.7,298.1 L846.4,298.2 L848.0,298.5 L849.6,298.2 L851.3,297.9 L852.9,297.1 L854.6,297.1 L856.2,296.9 L857.9,296.9 L859.5,296.7 L861.2,296.3 L862.8,296.3 L864.5,295.9 L866.1,295.4 L867.7,295.0 L869.4,294.5 L871.0,294.4 L872.7,293.9 L874.3,294.1 L876.0,293.9 L877.6,293.2 L879.3,292.3 L880.9,291.3 L882.6,291.5 L884.2,291.2 L885.8,290.8 L887.5,289.9 L889.1,289.4 L890.8,289.0 L892.4,288.5 L894.1,288.1 L895.7,287.4 L897.4,286.6 L899.0,285.9 L900.7,285.2 L902.3,284.6 L903.9,283.8 L905.6,282.9 L907.2,282.0 L908.9,281.2 L910.5,280.8 L912.2,280.1 L913.8,279.2 L915.5,278.2 L917.1,277.4 L918.8,276.8 L920.4,275.6 L922.0,274.7 L923.7,273.8 L925.3,273.0 L927.0,271.8 L928.6,270.7 L930.3,269.7 L931.9,268.9 L933.6,268.0 L935.2,267.3 L936.9,266.5 L938.5,265.5" stroke="rgb(37, 127, 170)" />
<path d="M116.6,510.3 L117.4,510.1 L119.1,509.7 L120.7,509.2 L122.4,508.8 L124.0,508.4 L125.6,508.0 L127.3,507.6 L128.9,507.2 L130.6,506.8 L132.2,506.4 L133.9,506.0 L135.5,505.5 L137.2,505.2 L138.8,504.6 L140.5,504.2 L142.1,503.6 L143.7,503.2 L145.4,502.8 L147.0,502.4 L148.7,501.9 L150.3,501.5 L152.0,501.2 L153.6,500.8 L155.3,500.5 L156.9,500.0 L158.6,499.6 L160.2,498.9 L161.8,498.2 L163.5,497.7 L165.1,497.3 L166.8,497.0 L168.4,496.4 L170.1,495.8 L171.7,495.1 L173.4,494.9 L175.0,494.6 L176.7,494.4 L178.3,494.0 L179.9,493.6 L181.6,493.5 L183.2,492.9 L184.9,492.5 L186.5,491.8 L188.2,491.5 L189.8,491.4 L191.5,491.0 L193.1,490.4 L194.8,489.9 L196.4,489.7 L198.0,489.5 L199.7,488.9 L201.3,488.5 L203.0,487.8 L204.6,487.1 L206.3,486.5 L207.9,486.7 L209.6,486.4 L211.2,485.5 L212.9,484.6 L214.5,484.0 L216.1,484.1 L217.8,483.8 L219.4,483.7 L221.1,482.8 L222.7,482.3 L224.4,482.0 L226.0,482.2 L227.7,481.8 L229.3,481.0 L231.0,480.2 L232.6,479.8 L234.2,479.0 L235.9,478.5 L237.5,478.5 L239.2,478.3 L240.8,478.2 L242.5,477.6 L244.1,477.0 L245.8,476.5 L247.4,476.1 L249.1,475.6 L250.7,475.4 L252.3,474.7 L254.0,474.2 L255.6,473.5 L257.3,473.3 L258.9,472.7 L260.6,472.2 L262.2,471.8 L263.9,471.7 L265.5,471.1 L267.2,470.9 L268.8,469.9 L270.4,469.7 L272.1,468.9 L273.7,468.9 L275.4,468.4 L277.0,468.1 L278.7,467.7 L280.3,467.1 L282.0,466.9 L283.6,466.5 L285.3,466.3 L286.9,465.4 L288.5,464.9 L290.2,464.3 L291.8,464.1 L293.5,463.3 L295.1,463.2 L296.8,463.0 L298.4,462.6 L300.1,461.7 L301.7,461.2 L303.4,461.1 L305.0,461.1 L306.6,460.4 L308.3,459.5 L309.9,458.6 L311.6,458.2 L313.2,457.7 L314.9,457.4 L316.5,457.3 L318.2,456.8 L319.8,456.5 L321.5,456.0 L323.1,455.3 L324.7,454.6 L326.4,454.3 L328.0,454.0 L329.7,453.7 L331.3,453.2 L333.0,452.9 L334.6,452.2 L336.3,451.1 L337.9,450.5 L339.6,450.4 L341.2,450.6 L342.8,450.5 L344.5,450.2 L346.1,449.9 L347.8,449.1 L349.4,448.1 L351.1,447.0 L352.7,446.3 L354.4,445.9 L356.0,445.5 L357.7,445.4 L359.3,445.3 L360.9,445.5 L362.6,444.9 L364.2,444.2 L365.9,443.5 L367.5,443.1 L369.2,442.5 L370.8,441.7 L372.5,440.9 L374.1,440.4 L375.8,440.0 L377.4,440.1 L379.0,440.1 L380.7,440.3 L382.3,439.5 L384.0,438.8 L385.6,437.9 L387.3,437.3 L388.9,436.5 L390.6,435.7 L392.2,435.4 L393.9,435.1 L395.5,435.1 L397.1,434.5 L398.8,434.4 L400.4,433.9 L402.1,433.6 L403.7,433.4 L405.4,433.2 L407.0,432.9 L408.7,432.2 L410.3,431.6 L412.0,431.4 L413.6,430.6 L415.2,429.7 L416.9,428.5 L418.5,427.9 L420.2,427.5 L421.8,427.0 L423.5,426.5 L425.1,426.1 L426.8,426.1 L428.4,425.9 L430.1,426.0 L431.7,425.3 L433.3,425.0 L435.0,424.7 L436.6,424.5 L438.3,424.0 L439.9,423.2 L441.6,422.9 L443.2,422.0 L444.9,421.2 L446.5,420.3 L448.2,419.3 L449.8,418.7 L451.4,417.9 L453.1,417.8 L454.7,417.6 L456.4,417.4 L458.0,417.2 L459.7,416.8 L461.3,416.5 L463.0,416.3 L464.6,416.5 L466.3,416.5 L467.9,416.2 L469.5,415.5 L471.2,415.0 L472.8,414.3 L474.5,413.7 L476.1,412.8 L477.8,411.7 L479.4,411.0 L481.1,410.2 L482.7,409.7 L484.4,409.0 L486.0,408.2 L487.6,407.4 L489.3,406.6 L490.9,406.2 L492.6,405.9 L494.2,405.7 L495.9,405.2 L497.5,404.8 L499.2,404.5 L500.8,404.5 L502.5,404.4 L504.1,404.4 L505.7,404.4 L507.4,404.4 L509.0,404.0 L510.7,403.8 L512.3,402.9 L514.0,402.6 L515.6,401.9 L517.3,401.6 L518.9,401.0 L520.6,400.2 L522.2,399.5 L523.8,398.7 L525.5,398.0 L527.1,397.3 L528.8,396.2 L530.4,395.3 L532.1,394.2 L533.7,393.9 L535.4,393.3 L537.0,393.0 L538.7,392.2 L540.3,391.6 L541.9,391.0 L543.6,390.7 L545.2,390.4 L546.9,390.1 L548.5,389.6 L550.2,390.0 L551.8,390.0 L553.5,390.4 L555.1,390.2 L556.8,390.1 L558.4,390.0 L560.0,390.1 L561.7,390.0 L563.3,389.5 L565.0,388.5 L566.6,388.0 L568.3,387.7 L569.9,387.8 L571.6,387.1 L573.2,386.3 L574.9,385.3 L576.5,384.7 L578.1,384.0 L579.8,383.6 L581.4,382.5 L583.1,381.8 L584.7,381.0 L586.4,380.0 L588.0,378.8 L589.7,377.5 L591.3,376.8 L593.0,376.3 L594.6,375.5 L596.2,375.0 L597.9,373.9 L599.5,373.4 L601.2,373.0 L602.8,372.7 L604.5,372.0 L606.1,371.3 L607.8,371.0 L609.4,371.0 L611.1,370.9 L612.7,371.3 L614.3,370.9 L616.0,370.7 L617.6,370.2 L619.3,370.5 L620.9,370.6 L622.6,370.3 L624.2,370.0 L625.9,369.7 L627.5,369.8 L629.2,369.3 L630.8,368.6 L632.4,368.0 L634.1,367.4 L635.7,367.0 L637.4,366.0 L639.0,365.2 L640.7,364.1 L642.3,363.0 L644.0,361.9 L645.6,361.0 L647.3,360.3 L648.9,359.1 L650.5,357.4 L652.2,356.0 L653.8,354.7 L655.5,353.7 L657.1,352.3 L658.8,351.3 L660.4,350.1 L662.1,349.2 L663.7,348.0 L665.4,347.7 L667.0,347.0 L668.6,346.1 L670.3,345.1 L671.9,344.2 L673.6,343.9 L675.2,343.6 L676.9,343.5 L678.5,343.2 L680.2,342.6 L681.8,342.6 L683.5,342.3 L685.1,342.5 L686.7,342.4 L688.4,342.8 L690.0,342.8 L691.7,342.7 L693.3,342.5 L695.0,342.3 L696.6,342.2 L698.3,341.9 L699.9,341.5 L701.6,341.2 L703.2,340.8 L704.8,340.7 L706.5,340.6 L708.1,340.8 L709.8,340.6 L711.4,340.3 L713.1,340.0 L714.7,339.3 L716.4,339.0 L718.0,338.3 L719.7,338.0 L721.3,337.3 L722.9,336.4 L724.6,336.0 L726.2,335.6 L727.9,335.2 L729.5,334.7 L731.2,334.3 L732.8,334.1 L734.5,333.5 L736.1,332.6 L737.8,331.7 L739.4,331.2 L741.0,330.4 L742.7,329.4 L744.3,328.6 L746.0,327.9 L747.6,327.4 L749.3,326.4 L750.9,325.7 L752.6,325.2 L754.2,324.8 L755.9,323.7 L757.5,322.7 L759.1,322.1 L760.8,321.8 L762.4,321.4 L764.1,320.5 L765.7,319.3 L767.4,318.3 L769.0,317.0 L770.7,316.1 L772.3,315.4 L774.0,314.8 L775.6,314.4 L777.2,313.9 L778.9,313.4 L780.5,312.4 L782.2,311.8 L783.8,311.0 L785.5,310.3 L787.1,309.5 L788.8,309.0 L790.4,308.6 L792.1,308.0 L793.7,307.3 L795.3,306.8 L797.0,306.2 L798.6,305.6 L800.3,304.9 L801.9,304.9 L803.6,304.9 L805.2,304.5 L806.9,303.9 L808.5,303.3 L810.2,303.2 L811.8,303.0 L813.4,302.6 L815.1,302.2 L816.7,301.8 L818.4,301.4 L820.0,301.2 L821.7,300.7 L823.3,300.9 L825.0,300.1 L826.6,300.3 L828.3,299.6 L829.9,299.7 L831.5,299.4 L833.2,299.2 L834.8,299.2 L836.5,299.4 L838.1,299.4 L839.8,299.1 L841.4,298.8 L843.1,299.1 L844.7,299.3 L846.4,299.2 L848.0,298.8 L849.6,298.5 L851.3,298.5 L852.9,298.4 L854.6,298.9 L856.2,298.6 L857.9,298.6 L859.5,298.1 L861.2,298.5 L862.8,298.4 L864.5,298.5 L866.1,298.1 L867.7,297.7 L869.4,297.5 L871.0,297.3 L872.7,297.5 L874.3,297.3 L876.0,297.6 L877.6,297.1 L879.3,297.0 L880.9,296.6 L882.6,296.3 L884.2,296.4 L885.8,295.9 L887.5,295.9 L889.1,295.3 L890.8,295.7 L892.4,295.5 L894.1,295.5 L895.7,294.8 L897.4,294.5 L899.0,293.4 L900.7,293.1 L902.3,292.4 L903.9,292.1 L905.6,291.3 L907.2,291.0 L908.9,290.6 L910.5,290.7 L912.2,290.3 L913.8,290.0 L915.5,289.2 L917.1,288.6 L918.8,288.0 L920.4,287.3 L922.0,286.5 L923.7,285.8 L925.3,285.4 L927.0,284.5 L928.6,283.4 L930.3,282.5 L931.9,282.0 L933.6,281.3 L935.2,280.5 L936.9,279.8 L938.5,279.3" stroke="rgb(38, 140, 178)" /></g>
<g clip-path="url(#cb)"><path d="M143.1,868.2 L155.4,861.1 L167.3,811.9 L179,766.4 L190.6,737.1 L202.1,705.3 L213.8,684.4 L225.1,665.4 L236.9,661.3 L249.2,666.4 L261.5,675.6 L273.2,687.9 L284.5,699.2 L296.4,712.5 L308.1,726.8 L319.3,739.1 L331.9,749.2 L343.6,758.4 L355.2,766 L366.7,777.5 L378.4,783.6 L390.3,788.7 L402,796.3 L413.9,801.8 L425.5,807.6 L437.2,816.8 L449.1,827 L461,852.7 L472.7,870 L484,870 L496.2,866 L507.7,857.6 L519.7,846.5 L531,829.8 L543,820 L554.6,806.7 L566.4,798.3 L578.7,789.3 L590,781.1 L602,773.3 L613.6,767.9 L625.4,759 L636.5,748.7 L648.8,746.2 L659.8,745 L671.6,743.3 L683.9,741.8 L695.5,741.3 L707,741.8 L718.8,745.7 L730.7,748.2 L743,750.7 L754.6,754.3 L766.1,757.6 L778.4,762.8 L789.7,771.2 L801.5,779.9 L812.7,790.2 L824.5,801.9 L836.5,808.1 L848.1,817.3 L859.9,825.5 L872.4,833.7 L883.4,852.4 L895.5,865.2 L906.5,867 L917.7,866 L930,858.3 L941.8,848.6 L954.4,836.3 L960,830" fill="none" stroke="#45a89a" stroke-width="2.8"/>
<path d="M190.6,729.1V745.1M186.1,729.1h9M186.1,745.1h9" stroke="#3fb3a3" stroke-width="1.5" fill="none"/>
<path d="M202.1,697.3V713.3M197.6,697.3h9M197.6,713.3h9" stroke="#3fb3a3" stroke-width="1.5" fill="none"/>
<path d="M213.8,676.4V692.4M209.3,676.4h9M209.3,692.4h9" stroke="#3fb3a3" stroke-width="1.5" fill="none"/>
<path d="M225.1,657.4V673.4M220.6,657.4h9M220.6,673.4h9" stroke="#3fb3a3" stroke-width="1.5" fill="none"/>
<path d="M236.9,653.3V669.3M232.4,653.3h9M232.4,669.3h9" stroke="#3fb3a3" stroke-width="1.5" fill="none"/>
<path d="M249.2,658.4V674.4M244.7,658.4h9M244.7,674.4h9" stroke="#3fb3a3" stroke-width="1.5" fill="none"/>
<path d="M261.5,667.6V683.6M257.0,667.6h9M257.0,683.6h9" stroke="#3fb3a3" stroke-width="1.5" fill="none"/>
<path d="M273.2,679.9V695.9M268.7,679.9h9M268.7,695.9h9" stroke="#3fb3a3" stroke-width="1.5" fill="none"/>
<path d="M284.5,691.2V707.2M280.0,691.2h9M280.0,707.2h9" stroke="#3fb3a3" stroke-width="1.5" fill="none"/>
<path d="M296.4,704.5V720.5M291.9,704.5h9M291.9,720.5h9" stroke="#3fb3a3" stroke-width="1.5" fill="none"/>
<path d="M308.1,718.8V734.8M303.6,718.8h9M303.6,734.8h9" stroke="#3fb3a3" stroke-width="1.5" fill="none"/>
<path d="M319.3,731.1V747.1M314.8,731.1h9M314.8,747.1h9" stroke="#3fb3a3" stroke-width="1.5" fill="none"/>
<path d="M331.9,741.2V757.2M327.4,741.2h9M327.4,757.2h9" stroke="#3fb3a3" stroke-width="1.5" fill="none"/>
<rect x="138.2" y="863.3" width="9.8" height="9.8" rx="3.2" fill="#3fb3a3"/>
<rect x="150.5" y="856.2" width="9.8" height="9.8" rx="3.2" fill="#3fb3a3"/>
<rect x="162.4" y="807.0" width="9.8" height="9.8" rx="3.2" fill="#3fb3a3"/>
<rect x="174.1" y="761.5" width="9.8" height="9.8" rx="3.2" fill="#3fb3a3"/>
<rect x="185.7" y="732.2" width="9.8" height="9.8" rx="3.2" fill="#3fb3a3"/>
<rect x="197.2" y="700.4" width="9.8" height="9.8" rx="3.2" fill="#3fb3a3"/>
<rect x="208.9" y="679.5" width="9.8" height="9.8" rx="3.2" fill="#3fb3a3"/>
<rect x="220.2" y="660.5" width="9.8" height="9.8" rx="3.2" fill="#3fb3a3"/>
<rect x="232.0" y="656.4" width="9.8" height="9.8" rx="3.2" fill="#3fb3a3"/>
<rect x="244.3" y="661.5" width="9.8" height="9.8" rx="3.2" fill="#3fb3a3"/>
<rect x="256.6" y="670.7" width="9.8" height="9.8" rx="3.2" fill="#3fb3a3"/>
<rect x="268.3" y="683.0" width="9.8" height="9.8" rx="3.2" fill="#3fb3a3"/>
<rect x="279.6" y="694.3" width="9.8" height="9.8" rx="3.2" fill="#3fb3a3"/>
<rect x="291.5" y="707.6" width="9.8" height="9.8" rx="3.2" fill="#3fb3a3"/>
<rect x="303.2" y="721.9" width="9.8" height="9.8" rx="3.2" fill="#3fb3a3"/>
<rect x="314.4" y="734.2" width="9.8" height="9.8" rx="3.2" fill="#3fb3a3"/>
<rect x="327.0" y="744.3" width="9.8" height="9.8" rx="3.2" fill="#3fb3a3"/>
<rect x="338.7" y="753.5" width="9.8" height="9.8" rx="3.2" fill="#3fb3a3"/>
<rect x="350.3" y="761.1" width="9.8" height="9.8" rx="3.2" fill="#3fb3a3"/>
<rect x="361.8" y="772.6" width="9.8" height="9.8" rx="3.2" fill="#3fb3a3"/>
<rect x="373.5" y="778.7" width="9.8" height="9.8" rx="3.2" fill="#3fb3a3"/>
<rect x="385.4" y="783.8" width="9.8" height="9.8" rx="3.2" fill="#3fb3a3"/>
<rect x="397.1" y="791.4" width="9.8" height="9.8" rx="3.2" fill="#3fb3a3"/>
<rect x="409.0" y="796.9" width="9.8" height="9.8" rx="3.2" fill="#3fb3a3"/>
<rect x="420.6" y="802.7" width="9.8" height="9.8" rx="3.2" fill="#3fb3a3"/>
<rect x="432.3" y="811.9" width="9.8" height="9.8" rx="3.2" fill="#3fb3a3"/>
<rect x="444.2" y="822.1" width="9.8" height="9.8" rx="3.2" fill="#3fb3a3"/>
<rect x="456.1" y="847.8" width="9.8" height="9.8" rx="3.2" fill="#3fb3a3"/>
<rect x="467.8" y="865.1" width="9.8" height="9.8" rx="3.2" fill="#3fb3a3"/>
<rect x="479.1" y="865.1" width="9.8" height="9.8" rx="3.2" fill="#3fb3a3"/>
<rect x="491.3" y="861.1" width="9.8" height="9.8" rx="3.2" fill="#3fb3a3"/>
<rect x="502.8" y="852.7" width="9.8" height="9.8" rx="3.2" fill="#3fb3a3"/>
<rect x="514.8" y="841.6" width="9.8" height="9.8" rx="3.2" fill="#3fb3a3"/>
<rect x="526.1" y="824.9" width="9.8" height="9.8" rx="3.2" fill="#3fb3a3"/>
<rect x="538.1" y="815.1" width="9.8" height="9.8" rx="3.2" fill="#3fb3a3"/>
<rect x="549.7" y="801.8" width="9.8" height="9.8" rx="3.2" fill="#3fb3a3"/>
<rect x="561.5" y="793.4" width="9.8" height="9.8" rx="3.2" fill="#3fb3a3"/>
<rect x="573.8" y="784.4" width="9.8" height="9.8" rx="3.2" fill="#3fb3a3"/>
<rect x="585.1" y="776.2" width="9.8" height="9.8" rx="3.2" fill="#3fb3a3"/>
<rect x="597.1" y="768.4" width="9.8" height="9.8" rx="3.2" fill="#3fb3a3"/>
<rect x="608.7" y="763.0" width="9.8" height="9.8" rx="3.2" fill="#3fb3a3"/>
<rect x="620.5" y="754.1" width="9.8" height="9.8" rx="3.2" fill="#3fb3a3"/>
<rect x="631.6" y="743.8" width="9.8" height="9.8" rx="3.2" fill="#3fb3a3"/>
<rect x="643.9" y="741.3" width="9.8" height="9.8" rx="3.2" fill="#3fb3a3"/>
<rect x="654.9" y="740.1" width="9.8" height="9.8" rx="3.2" fill="#3fb3a3"/>
<rect x="666.7" y="738.4" width="9.8" height="9.8" rx="3.2" fill="#3fb3a3"/>
<rect x="679.0" y="736.9" width="9.8" height="9.8" rx="3.2" fill="#3fb3a3"/>
<rect x="690.6" y="736.4" width="9.8" height="9.8" rx="3.2" fill="#3fb3a3"/>
<rect x="702.1" y="736.9" width="9.8" height="9.8" rx="3.2" fill="#3fb3a3"/>
<rect x="713.9" y="740.8" width="9.8" height="9.8" rx="3.2" fill="#3fb3a3"/>
<rect x="725.8" y="743.3" width="9.8" height="9.8" rx="3.2" fill="#3fb3a3"/>
<rect x="738.1" y="745.8" width="9.8" height="9.8" rx="3.2" fill="#3fb3a3"/>
<rect x="749.7" y="749.4" width="9.8" height="9.8" rx="3.2" fill="#3fb3a3"/>
<rect x="761.2" y="752.7" width="9.8" height="9.8" rx="3.2" fill="#3fb3a3"/>
<rect x="773.5" y="757.9" width="9.8" height="9.8" rx="3.2" fill="#3fb3a3"/>
<rect x="784.8" y="766.3" width="9.8" height="9.8" rx="3.2" fill="#3fb3a3"/>
<rect x="796.6" y="775.0" width="9.8" height="9.8" rx="3.2" fill="#3fb3a3"/>
<rect x="807.8" y="785.3" width="9.8" height="9.8" rx="3.2" fill="#3fb3a3"/>
<rect x="819.6" y="797.0" width="9.8" height="9.8" rx="3.2" fill="#3fb3a3"/>
<rect x="831.6" y="803.2" width="9.8" height="9.8" rx="3.2" fill="#3fb3a3"/>
<rect x="843.2" y="812.4" width="9.8" height="9.8" rx="3.2" fill="#3fb3a3"/>
<rect x="855.0" y="820.6" width="9.8" height="9.8" rx="3.2" fill="#3fb3a3"/>
<rect x="867.5" y="828.8" width="9.8" height="9.8" rx="3.2" fill="#3fb3a3"/>
<rect x="878.5" y="847.5" width="9.8" height="9.8" rx="3.2" fill="#3fb3a3"/>
<rect x="890.6" y="860.3" width="9.8" height="9.8" rx="3.2" fill="#3fb3a3"/>
<rect x="901.6" y="862.1" width="9.8" height="9.8" rx="3.2" fill="#3fb3a3"/>
<rect x="912.8" y="861.1" width="9.8" height="9.8" rx="3.2" fill="#3fb3a3"/>
<rect x="925.1" y="853.4" width="9.8" height="9.8" rx="3.2" fill="#3fb3a3"/>
<rect x="936.9" y="843.7" width="9.8" height="9.8" rx="3.2" fill="#3fb3a3"/>
<rect x="949.5" y="831.4" width="9.8" height="9.8" rx="3.2" fill="#3fb3a3"/>
<path d="M160.5,918 L166.7,992.2 L181.6,1025.6 L196.4,1045 L211.1,1059 L226.1,1070 L240.8,1076.8 L255.2,1079.9 L269.7,1080.3 L284.5,1079.9 L299.2,1076.8 L313.6,1071.7 L328.2,1065.4 L343,1055.5 L357.9,1042 L373,1031.8 L387.6,1027.3 L402.3,1033 L416.9,1041.5 L430.9,1046 L445.8,1040.2 L460.9,989 L467.7,918" fill="none" stroke="#15574a" stroke-width="2.9"/>
<path d="M499.2,918 L504.4,955.9 L519.8,996.8 L534.4,1028.3 L549,1036 L563.8,1037.7 L578.3,1031.6 L593,1030.4 L607.8,1034.8 L622,1040.2 L636.8,1037.7 L651.5,1021.3 L666.3,1019.3 L681,1038 L695.8,1050.8 L710.6,1056.4 L725.3,1061.8 L740,1063.1 L754.7,1061.8 L769.5,1058.2 L783.6,1062.2 L798.4,1062.2 L813.1,1060.6 L827.7,1059.9 L842.5,1059.4 L857.1,1058.7 L872,1058.9 L886.6,1017.5 L901.4,948.6 L916.3,963.3 L930.9,1011.8 L945.5,1045.7 L959.2,1066.5 L960,1069" fill="none" stroke="#15574a" stroke-width="2.9"/>
<path d="M166.7,986.2V998.2M162.7,986.2h8M162.7,998.2h8" stroke="#15574a" stroke-width="1.8" fill="none"/>
<path d="M460.9,979V999M456.9,979h8M456.9,999h8" stroke="#15574a" stroke-width="1.8" fill="none"/>
<path d="M430.9,1040V1052M426.9,1040h8M426.9,1052h8" stroke="#15574a" stroke-width="1.8" fill="none"/>
<path d="M886.6,1008.5V1026.5M882.6,1008.5h8M882.6,1026.5h8" stroke="#15574a" stroke-width="1.8" fill="none"/>
<path d="M901.4,926.6V970.6M897.4,926.6h8M897.4,970.6h8" stroke="#15574a" stroke-width="1.8" fill="none"/>
<path d="M916.3,947.3V979.3M912.3,947.3h8M912.3,979.3h8" stroke="#15574a" stroke-width="1.8" fill="none"/>
<path d="M930.9,1001.8V1021.8M926.9,1001.8h8M926.9,1021.8h8" stroke="#15574a" stroke-width="1.8" fill="none"/>
<path d="M945.5,1037.7V1053.7M941.5,1037.7h8M941.5,1053.7h8" stroke="#15574a" stroke-width="1.8" fill="none"/>
<rect x="161.6" y="987.1" width="10.2" height="10.2" rx="3.4" fill="#15574a"/>
<rect x="176.5" y="1020.5" width="10.2" height="10.2" rx="3.4" fill="#15574a"/>
<rect x="191.3" y="1039.9" width="10.2" height="10.2" rx="3.4" fill="#15574a"/>
<rect x="206.0" y="1053.9" width="10.2" height="10.2" rx="3.4" fill="#15574a"/>
<rect x="221.0" y="1064.9" width="10.2" height="10.2" rx="3.4" fill="#15574a"/>
<rect x="235.7" y="1071.7" width="10.2" height="10.2" rx="3.4" fill="#15574a"/>
<rect x="250.1" y="1074.8" width="10.2" height="10.2" rx="3.4" fill="#15574a"/>
<rect x="264.6" y="1075.2" width="10.2" height="10.2" rx="3.4" fill="#15574a"/>
<rect x="279.4" y="1074.8" width="10.2" height="10.2" rx="3.4" fill="#15574a"/>
<rect x="294.1" y="1071.7" width="10.2" height="10.2" rx="3.4" fill="#15574a"/>
<rect x="308.5" y="1066.6" width="10.2" height="10.2" rx="3.4" fill="#15574a"/>
<rect x="323.1" y="1060.3" width="10.2" height="10.2" rx="3.4" fill="#15574a"/>
<rect x="337.9" y="1050.4" width="10.2" height="10.2" rx="3.4" fill="#15574a"/>
<rect x="352.8" y="1036.9" width="10.2" height="10.2" rx="3.4" fill="#15574a"/>
<rect x="367.9" y="1026.7" width="10.2" height="10.2" rx="3.4" fill="#15574a"/>
<rect x="382.5" y="1022.2" width="10.2" height="10.2" rx="3.4" fill="#15574a"/>
<rect x="397.2" y="1027.9" width="10.2" height="10.2" rx="3.4" fill="#15574a"/>
<rect x="411.8" y="1036.4" width="10.2" height="10.2" rx="3.4" fill="#15574a"/>
<rect x="425.8" y="1040.9" width="10.2" height="10.2" rx="3.4" fill="#15574a"/>
<rect x="440.7" y="1035.1" width="10.2" height="10.2" rx="3.4" fill="#15574a"/>
<rect x="455.8" y="983.9" width="10.2" height="10.2" rx="3.4" fill="#15574a"/>
<rect x="499.3" y="950.8" width="10.2" height="10.2" rx="3.4" fill="#15574a"/>
<rect x="514.7" y="991.7" width="10.2" height="10.2" rx="3.4" fill="#15574a"/>
<rect x="529.3" y="1023.2" width="10.2" height="10.2" rx="3.4" fill="#15574a"/>
<rect x="543.9" y="1030.9" width="10.2" height="10.2" rx="3.4" fill="#15574a"/>
<rect x="558.7" y="1032.6" width="10.2" height="10.2" rx="3.4" fill="#15574a"/>
<rect x="573.2" y="1026.5" width="10.2" height="10.2" rx="3.4" fill="#15574a"/>
<rect x="587.9" y="1025.3" width="10.2" height="10.2" rx="3.4" fill="#15574a"/>
<rect x="602.7" y="1029.7" width="10.2" height="10.2" rx="3.4" fill="#15574a"/>
<rect x="616.9" y="1035.1" width="10.2" height="10.2" rx="3.4" fill="#15574a"/>
<rect x="631.7" y="1032.6" width="10.2" height="10.2" rx="3.4" fill="#15574a"/>
<rect x="646.4" y="1016.2" width="10.2" height="10.2" rx="3.4" fill="#15574a"/>
<rect x="661.2" y="1014.2" width="10.2" height="10.2" rx="3.4" fill="#15574a"/>
<rect x="675.9" y="1032.9" width="10.2" height="10.2" rx="3.4" fill="#15574a"/>
<rect x="690.7" y="1045.7" width="10.2" height="10.2" rx="3.4" fill="#15574a"/>
<rect x="705.5" y="1051.3" width="10.2" height="10.2" rx="3.4" fill="#15574a"/>
<rect x="720.2" y="1056.7" width="10.2" height="10.2" rx="3.4" fill="#15574a"/>
<rect x="734.9" y="1058.0" width="10.2" height="10.2" rx="3.4" fill="#15574a"/>
<rect x="749.6" y="1056.7" width="10.2" height="10.2" rx="3.4" fill="#15574a"/>
<rect x="764.4" y="1053.1" width="10.2" height="10.2" rx="3.4" fill="#15574a"/>
<rect x="778.5" y="1057.1" width="10.2" height="10.2" rx="3.4" fill="#15574a"/>
<rect x="793.3" y="1057.1" width="10.2" height="10.2" rx="3.4" fill="#15574a"/>
<rect x="808.0" y="1055.5" width="10.2" height="10.2" rx="3.4" fill="#15574a"/>
<rect x="822.6" y="1054.8" width="10.2" height="10.2" rx="3.4" fill="#15574a"/>
<rect x="837.4" y="1054.3" width="10.2" height="10.2" rx="3.4" fill="#15574a"/>
<rect x="852.0" y="1053.6" width="10.2" height="10.2" rx="3.4" fill="#15574a"/>
<rect x="866.9" y="1053.8" width="10.2" height="10.2" rx="3.4" fill="#15574a"/>
<rect x="881.5" y="1012.4" width="10.2" height="10.2" rx="3.4" fill="#15574a"/>
<rect x="896.3" y="943.5" width="10.2" height="10.2" rx="3.4" fill="#15574a"/>
<rect x="911.2" y="958.2" width="10.2" height="10.2" rx="3.4" fill="#15574a"/>
<rect x="925.8" y="1006.7" width="10.2" height="10.2" rx="3.4" fill="#15574a"/>
<rect x="940.4" y="1040.6" width="10.2" height="10.2" rx="3.4" fill="#15574a"/>
<rect x="954.1" y="1061.4" width="10.2" height="10.2" rx="3.4" fill="#15574a"/></g>
<rect x="116.6" y="17.0" width="821.9" height="493.3" fill="none" stroke="#111" stroke-width="3"/>
<line x1="322.075" y1="510.3" x2="322.075" y2="495.3" stroke="#111" stroke-width="3"/>
<line x1="527.55" y1="510.3" x2="527.55" y2="495.3" stroke="#111" stroke-width="3"/>
<line x1="733.025" y1="510.3" x2="733.025" y2="495.3" stroke="#111" stroke-width="3"/>
<line x1="116.6" y1="386.975" x2="131.6" y2="386.975" stroke="#111" stroke-width="3"/>
<line x1="116.6" y1="263.65" x2="131.6" y2="263.65" stroke="#111" stroke-width="3"/>
<line x1="116.6" y1="140.325" x2="131.6" y2="140.325" stroke="#111" stroke-width="3"/>
<rect x="139.0" y="649.5" width="821.0" height="222.0" fill="none" stroke="#111" stroke-width="3"/>
<rect x="139.0" y="918.0" width="821.0" height="223.5" fill="none" stroke="#111" stroke-width="3"/>
<line x1="256.3" y1="871.5" x2="256.3" y2="857.5" stroke="#111" stroke-width="3"/>
<line x1="256.3" y1="1141.5" x2="256.3" y2="1127.5" stroke="#111" stroke-width="3"/>
<line x1="373.6" y1="871.5" x2="373.6" y2="857.5" stroke="#111" stroke-width="3"/>
<line x1="373.6" y1="1141.5" x2="373.6" y2="1127.5" stroke="#111" stroke-width="3"/>
<line x1="490.9" y1="871.5" x2="490.9" y2="857.5" stroke="#111" stroke-width="3"/>
<line x1="490.9" y1="1141.5" x2="490.9" y2="1127.5" stroke="#111" stroke-width="3"/>
<line x1="608.1" y1="871.5" x2="608.1" y2="857.5" stroke="#111" stroke-width="3"/>
<line x1="608.1" y1="1141.5" x2="608.1" y2="1127.5" stroke="#111" stroke-width="3"/>
<line x1="725.4" y1="871.5" x2="725.4" y2="857.5" stroke="#111" stroke-width="3"/>
<line x1="725.4" y1="1141.5" x2="725.4" y2="1127.5" stroke="#111" stroke-width="3"/>
<line x1="842.7" y1="871.5" x2="842.7" y2="857.5" stroke="#111" stroke-width="3"/>
<line x1="842.7" y1="1141.5" x2="842.7" y2="1127.5" stroke="#111" stroke-width="3"/>
<line x1="139.0" y1="820.6" x2="153.0" y2="820.6" stroke="#111" stroke-width="3"/>
<line x1="139.0" y1="769.7" x2="153.0" y2="769.7" stroke="#111" stroke-width="3"/>
<line x1="139.0" y1="718.8" x2="153.0" y2="718.8" stroke="#111" stroke-width="3"/>
<line x1="139.0" y1="667.9" x2="153.0" y2="667.9" stroke="#111" stroke-width="3"/>
<line x1="139.0" y1="1104.3" x2="147.0" y2="1104.3" stroke="#111" stroke-width="2.6"/>
<line x1="139.0" y1="1082.0" x2="147.0" y2="1082.0" stroke="#111" stroke-width="2.6"/>
<line x1="139.0" y1="1066.2" x2="147.0" y2="1066.2" stroke="#111" stroke-width="2.6"/>
<line x1="139.0" y1="1053.9" x2="147.0" y2="1053.9" stroke="#111" stroke-width="2.6"/>
<line x1="139.0" y1="1043.9" x2="147.0" y2="1043.9" stroke="#111" stroke-width="2.6"/>
<line x1="139.0" y1="1035.4" x2="147.0" y2="1035.4" stroke="#111" stroke-width="2.6"/>
<line x1="139.0" y1="1028.1" x2="147.0" y2="1028.1" stroke="#111" stroke-width="2.6"/>
<line x1="139.0" y1="1021.6" x2="147.0" y2="1021.6" stroke="#111" stroke-width="2.6"/>
<line x1="139.0" y1="977.7" x2="147.0" y2="977.7" stroke="#111" stroke-width="2.6"/>
<line x1="139.0" y1="955.4" x2="147.0" y2="955.4" stroke="#111" stroke-width="2.6"/>
<line x1="139.0" y1="939.6" x2="147.0" y2="939.6" stroke="#111" stroke-width="2.6"/>
<line x1="139.0" y1="927.3" x2="147.0" y2="927.3" stroke="#111" stroke-width="2.6"/>
<line x1="139.0" y1="1015.8" x2="154.0" y2="1015.8" stroke="#111" stroke-width="3"/>
<text x="100.5" y="520.8" text-anchor="end" font-family="Liberation Sans, sans-serif" font-weight="bold" font-size="35" fill="#000">0</text>
<text x="100.5" y="397.5" text-anchor="end" font-family="Liberation Sans, sans-serif" font-weight="bold" font-size="35" fill="#000">1</text>
<text x="100.5" y="274.1" text-anchor="end" font-family="Liberation Sans, sans-serif" font-weight="bold" font-size="35" fill="#000">2</text>
<text x="100.5" y="150.8" text-anchor="end" font-family="Liberation Sans, sans-serif" font-weight="bold" font-size="35" fill="#000">3</text>
<text x="100.5" y="27.5" text-anchor="end" font-family="Liberation Sans, sans-serif" font-weight="bold" font-size="35" fill="#000">4</text>
<text x="116.6" y="553" text-anchor="middle" font-family="Liberation Sans, sans-serif" font-weight="bold" font-size="35" fill="#000">0</text>
<text x="322.1" y="553" text-anchor="middle" font-family="Liberation Sans, sans-serif" font-weight="bold" font-size="35" fill="#000">1</text>
<text x="527.5" y="553" text-anchor="middle" font-family="Liberation Sans, sans-serif" font-weight="bold" font-size="35" fill="#000">2</text>
<text x="733.0" y="553" text-anchor="middle" font-family="Liberation Sans, sans-serif" font-weight="bold" font-size="35" fill="#000">3</text>
<text x="938.5" y="553" text-anchor="middle" font-family="Liberation Sans, sans-serif" font-weight="bold" font-size="35" fill="#000">4</text>
<text x="123" y="882.7" text-anchor="end" font-family="Liberation Sans, sans-serif" font-weight="bold" font-size="35" fill="#000">0.0</text>
<text x="123" y="831.8" text-anchor="end" font-family="Liberation Sans, sans-serif" font-weight="bold" font-size="35" fill="#000">0.5</text>
<text x="123" y="780.9" text-anchor="end" font-family="Liberation Sans, sans-serif" font-weight="bold" font-size="35" fill="#000">1.0</text>
<text x="123" y="730.0" text-anchor="end" font-family="Liberation Sans, sans-serif" font-weight="bold" font-size="35" fill="#000">1.5</text>
<text x="123" y="679.1" text-anchor="end" font-family="Liberation Sans, sans-serif" font-weight="bold" font-size="35" fill="#000">2.0</text>
<text x="123" y="1027.3" text-anchor="end" font-family="Liberation Sans, sans-serif" font-weight="bold" font-size="35" fill="#000">10</text>
<text x="139.0" y="1183.5" text-anchor="middle" font-family="Liberation Sans, sans-serif" font-weight="bold" font-size="35" fill="#000">0.6</text>
<text x="256.3" y="1183.5" text-anchor="middle" font-family="Liberation Sans, sans-serif" font-weight="bold" font-size="35" fill="#000">0.8</text>
<text x="373.6" y="1183.5" text-anchor="middle" font-family="Liberation Sans, sans-serif" font-weight="bold" font-size="35" fill="#000">1</text>
<text x="490.9" y="1183.5" text-anchor="middle" font-family="Liberation Sans, sans-serif" font-weight="bold" font-size="35" fill="#000">1.2</text>
<text x="608.1" y="1183.5" text-anchor="middle" font-family="Liberation Sans, sans-serif" font-weight="bold" font-size="35" fill="#000">1.4</text>
<text x="725.4" y="1183.5" text-anchor="middle" font-family="Liberation Sans, sans-serif" font-weight="bold" font-size="35" fill="#000">1.6</text>
<text x="842.7" y="1183.5" text-anchor="middle" font-family="Liberation Sans, sans-serif" font-weight="bold" font-size="35" fill="#000">1.8</text>
<text x="960.0" y="1183.5" text-anchor="middle" font-family="Liberation Sans, sans-serif" font-weight="bold" font-size="35" fill="#000">2</text>
<text y="601" font-family="Liberation Sans, sans-serif" font-weight="bold" font-size="35" fill="#000"><tspan x="491.1" font-style="italic">B</tspan><tspan x="522.5">(T)</tspan></text>
<text y="1231" font-family="Liberation Sans, sans-serif" font-weight="bold" font-size="35" fill="#000"><tspan x="504.5" font-style="italic">V</tspan><tspan x="527.2" y="1241.5" font-size="26">g</tspan><tspan x="550.1" y="1231">(V)</tspan></text>
<text transform="translate(49,329) rotate(-90)" font-family="Liberation Sans, sans-serif" font-weight="bold" font-size="35" fill="#000"><tspan x="0" y="0" font-style="italic">V</tspan><tspan x="21" y="10.4" font-size="25">H</tspan><tspan x="38" y="0">/</tspan><tspan x="50" y="0" font-style="italic">I</tspan><tspan x="66" y="0">(</tspan><tspan x="80" y="0">k</tspan><tspan x="98" y="0">Ω</tspan><tspan x="123" y="0">)</tspan></text>
<text transform="translate(47,856) rotate(-90)" font-family="Liberation Sans, sans-serif" font-weight="bold" font-size="35" fill="#000"><tspan x="0" y="0" font-style="italic">R</tspan><tspan x="25" y="9" font-size="25">H</tspan><tspan x="51" y="0">(k</tspan><tspan x="82" y="0">Ω</tspan><tspan x="117" y="0">T</tspan><tspan x="139" y="-15.5">−1</tspan><tspan x="181" y="0">)</tspan></text>
<text transform="translate(64.5,1144.5) rotate(-90)" font-family="Liberation Sans, sans-serif" font-weight="bold" font-size="35" fill="#000"><tspan x="0" y="0">S</tspan><tspan x="28" y="-15" font-size="24">1/2</tspan><tspan x="22" y="10" font-size="24" font-style="italic">B</tspan><tspan x="68" y="0">(µT Hz</tspan><tspan x="171" y="-15" font-size="24">−1/2</tspan><tspan x="219" y="0">)</tspan></text>
<text x="131" y="60" font-family="Liberation Sans, sans-serif" font-size="29" fill="#2a2a2a" style="font-size:29.6px">5 µA</text>
<text x="371" y="60" font-family="Liberation Sans, sans-serif" font-size="29" fill="#2a2a2a"><tspan font-style="italic">R</tspan><tspan font-size="19" dy="9.5">H</tspan><tspan dy="-9.5"> = 0</tspan></text>
<text x="265" y="132.8" font-family="Liberation Sans, sans-serif" font-size="29" fill="#2a2a2a"><tspan font-style="italic">R</tspan><tspan font-size="19" dy="9.5">H</tspan><tspan dy="-9.5"> &gt; 0</tspan></text>
<text y="220.3" font-family="Liberation Sans, sans-serif" font-size="29" fill="#4a9468"><tspan x="146.2">V</tspan><tspan x="165" y="232">g</tspan><tspan x="188.8" y="220.3">=</tspan><tspan x="214.6">0.8</tspan><tspan x="263.8">V</tspan></text>
<text y="484.5" font-family="Liberation Sans, sans-serif" font-size="29" fill="#4f8a9a"><tspan x="438.8">3</tspan><tspan x="463">V</tspan></text>
<text x="904.3" y="691.2" font-family="Liberation Sans, sans-serif" font-size="29" fill="#2a2a2a" style="font-size:30.5px">3 T</text>
<text x="167.5" y="1115.5" font-family="Liberation Sans, sans-serif" font-size="29" fill="#2a2a2a" style="font-size:29.6px">1 kHz</text>
<path d="M461.3,48.9 C468,48.6 474,49.5 478,52.5 C481,55 482.6,57.5 483,61" fill="none" stroke="#222" stroke-width="2.4"/>
<path d="M483.6,67.6 L479.1,58.9 L483.1,60.1 L486.9,58.3 Z" fill="#222"/>
<path d="M355,123.4 C362,123.6 368,127 373,131 C378,134.5 381,137 385,139.5" fill="none" stroke="#222" stroke-width="2.5"/>
<path d="M391.2,143.2 L380.9,141.5 L384.5,138.8 L385.5,134.5 Z" fill="#222"/>
<path d="M244.8,231 L420,430" stroke="#000" stroke-width="3.6" fill="none"/>
<path d="M437,454.4 L398.3,439.7 L418.6,429.8 L427.8,413.2 Z" fill="#000"/>
<text x="28.4" y="88.7" font-family="Liberation Serif, serif" font-weight="bold" font-size="54" fill="#000">(a)</text>
<text x="-1" y="638.5" font-family="Liberation Serif, serif" font-weight="bold" font-size="54" fill="#000">(b)</text>
</svg></body></html>
